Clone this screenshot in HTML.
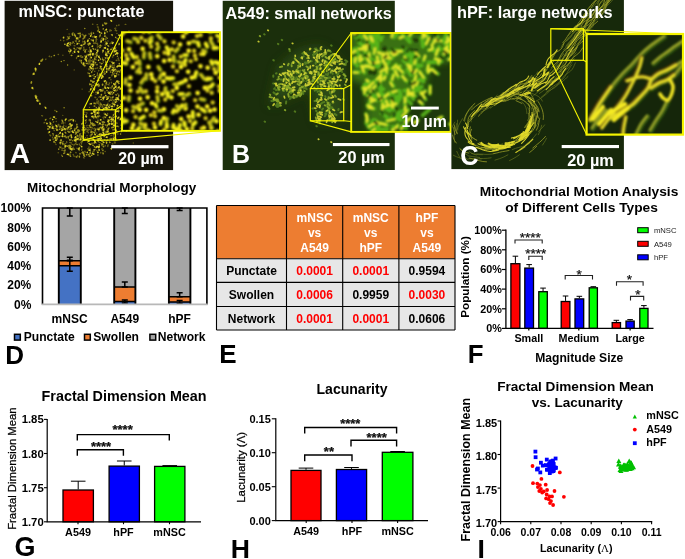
<!DOCTYPE html>
<html><head><meta charset="utf-8"><title>Mitochondrial morphology figure</title>
<style>
html,body{margin:0;padding:0;background:#fff}
svg{display:block}
svg text{font-family:"Liberation Sans",Arial,sans-serif}
</style></head><body>
<svg width="685" height="559" viewBox="0 0 685 559">
<rect width="685" height="559" fill="#fff"/>
<defs>
<filter id="b1" x="-5%" y="-5%" width="110%" height="110%"><feGaussianBlur stdDeviation="1.15"/></filter>
<filter id="b2" x="-5%" y="-5%" width="110%" height="110%"><feGaussianBlur stdDeviation="1.3"/></filter>
<filter id="b3" x="-5%" y="-5%" width="110%" height="110%"><feGaussianBlur stdDeviation="1.0"/></filter>
<filter id="b0" x="-5%" y="-5%" width="110%" height="110%"><feGaussianBlur stdDeviation="0.4"/></filter>
<filter id="b6" x="-5%" y="-5%" width="110%" height="110%"><feGaussianBlur stdDeviation="0.65"/></filter>
<filter id="b4" x="-20%" y="-20%" width="140%" height="140%"><feGaussianBlur stdDeviation="3.5"/></filter>
<filter id="b8" x="-30%" y="-30%" width="160%" height="160%"><feGaussianBlur stdDeviation="6"/></filter>
<clipPath id="cA"><rect x="5" y="1" width="168.3" height="168.5"/></clipPath>
<clipPath id="cAi"><rect x="122" y="32.2" width="98" height="98.6"/></clipPath>
<clipPath id="cB"><rect x="222.7" y="1" width="172" height="168.8"/></clipPath>
<clipPath id="cBi"><rect x="351.2" y="33" width="99.4" height="98.9"/></clipPath>
<clipPath id="cC"><rect x="451.5" y="0" width="172.2" height="169"/></clipPath>
<clipPath id="cCi"><rect x="586.6" y="34" width="96.4" height="100.6"/></clipPath>
</defs>
<rect x="4.6" y="0.8" width="168.5" height="169.3" fill="#16140a"/>
<g clip-path="url(#cA)" filter="url(#b0)">
<path d="M112.8 129.5l0.1 0.6M102.1 148.5l-0.2 1.0M114.7 46.9l0.0 0.0M94.8 57.0l0.2 0.7M83.5 49.7l0.0 0.7M113.5 100.7l1.0 0.2M104.9 107.2l-0.7 0.6M94.6 87.4l0.5 0.8M83.7 64.9l0.4 0.0M103.7 69.6l0.4 0.5M112.7 64.7l-0.7 0.7M103.1 88.3l0 0M105.0 91.6l0 0M68.6 120.5l0.0 0.4M95.8 58.9l0.3 1.0M89.0 68.5l0.8 0.9M69.6 129.2l0.9 0.7M129.0 75.9l0 0M99.9 116.1l-0.3 0.2M105.5 104.9l0.3 0.1M38.9 101.1l-0.2 -0.7M109.2 50.3l-0.2 0.9M77.1 47.6l1.1 0.3M103.4 133.2l-0.0 0.2M99.3 115.3l-0.0 0.1M116.6 25.5l0.2 0.2M49.2 56.5l0.3 -0.4M79.6 37.5l-0.8 0.1M107.4 52.5l0.0 0.1M78.7 139.0l-0.5 1.0M117.1 99.0l0.4 0.2M97.2 47.0l0.4 0.2M98.9 70.3l-0.3 0.6M76.5 57.7l-0.0 0.8M107.5 113.4l0.3 0.7M133.4 96.0l0.6 0.6M72.6 149.1l0.1 0.7M66.1 128.5l0.3 0.4M92.9 69.8l-0.3 1.0M83.7 119.1l-0.2 0.8M111.5 117.7l-0.1 0.7M56.3 121.4l-0.0 0.1M116.9 107.4l-0.3 0.5M98.0 101.3l0.1 1.1M116.9 38.5l0.6 0.2M123.8 95.2l-0.2 0.4M82.9 34.8l0.9 0.5M105.1 131.5l0.3 1.0M96.9 75.3l0.8 0.4M98.0 103.5l0.5 0.3M118.6 126.4l-0.2 0.4M129.6 57.0l-0.1 0.3M92.9 59.6l0.6 0.9M94.8 97.2l1.0 0.5M84.7 125.4l-0.5 0.9M89.1 140.6l-0.5 0.4M88.0 40.9l-0.1 0.3M117.0 33.4l-0.1 0.0M61.8 142.5l0.3 0.2M126.3 42.3l-0.0 0.0M85.4 139.1l0.7 0.4M47.5 123.6l-0.4 0.0M106.0 41.6l-0.0 0.1M117.0 50.3l-0.0 0.0M102.1 107.2l0.1 0.3M100.8 152.5l-0.1 0.5M71.4 128.3l-0.0 0.0M73.5 120.9l-0.2 0.6M100.1 76.5l0.4 0.2M84.8 55.6l-0.0 0.6M102.0 144.5l-0.3 1.0M100.9 41.2l0.1 0.2M73.9 155.9l0.3 0.6M124.1 67.6l0.7 0.5M114.9 111.4l-0.0 0.1M112.8 119.5l0.3 1.0M94.2 76.8l0.2 0.1M131.0 65.5l0.1 0.6M103.0 74.4l0.0 0.1M91.5 63.9l0.1 0.1M115.5 29.7l-0.3 0.7M101.1 73.4l0.7 0.0M98.7 120.9l-0.2 0.1M56.6 137.0l0.8 0.8M94.8 71.3l-0.2 0.1M98.7 101.0l-0.3 1.1M49.7 122.1l-0.0 0.2M45.7 59.5l0.3 -0.5M95.2 68.5l0.7 0.0M109.4 100.2l-0.2 1.1M56.0 144.3l0.0 0.2M93.5 39.5l-0.0 0.1M32.7 74.5l0.1 -0.9M87.6 138.0l0.0 0.0M115.3 113.3l-0.4 0.1M110.8 64.9l-0.1 0.1M52.5 137.2l0.1 0.1M138.5 89.9l0.4 1.0M88.7 60.2l0.4 0.3M53.1 138.7l-0.1 0.3M88.1 148.6l-0.4 0.3M97.8 128.3l-0.8 0.7M98.8 86.1l-0.1 0.4M63.7 36.7l0.2 1.1M106.1 107.6l-1.0 0.2M100.3 45.3l-1.1 0.5M111.2 98.8l-0.2 0.0M89.5 107.4l-0.0 0.0M97.2 43.2l-0.5 0.0M105.8 44.8l-0.7 0.2M55.2 118.6l1.1 0.0M112.0 65.9l-0.1 0.1M96.1 108.7l0.6 0.5M96.7 101.9l0.3 1.1M35.5 70.3l0.1 -0.8M91.1 129.6l-0.0 0.8M129.8 75.9l0.4 1.0M60.5 40.2l0.2 0.0M113.2 100.1l0.2 0.3M112.9 99.8l0.3 0.2M111.7 135.3l-0.8 0.4M85.5 123.2l-0.1 0.0M95.8 103.8l-0.2 0.1M99.2 106.8l-0.2 0.9M91.0 49.8l-0.0 0.5M107.2 57.4l0.6 0.6M90.0 42.8l-0.2 1.1M111.9 87.4l0.2 0.2M116.9 74.7l-0.4 0.9M88.6 51.2l-0.2 0.0M74.3 43.5l0.0 0.0M91.2 138.5l-0.0 0.1M105.2 41.9l-0.1 0.0M114.3 106.1l-0.0 0.4M94.0 102.8l-0.2 0.9M111.7 75.0l0.2 0.8M114.8 121.5l-0.8 0.1M76.3 39.8l-0.1 0.9M106.4 84.7l0 0M135.6 54.5l0.5 0.7M82.4 34.3l-0.4 0.2M113.2 89.3l-0.1 0.1M101.1 67.6l-0.2 0.6M107.7 97.0l0.2 0.5M92.9 143.1l-0.5 0.4M100.0 142.8l0.3 0.2M100.8 124.4l0.0 0.1M80.8 56.4l0.0 0.0M104.4 128.2l0.1 0.4M67.2 29.4l0 0M104.6 30.9l0 0M97.2 68.0l0.5 0.0M58.2 124.5l0.6 0.0M91.4 127.4l-0.3 0.2M99.3 96.8l-0.3 0.4M126.0 131.0l0.4 0.4M103.4 129.4l0.5 0.1M98.7 111.9l0.5 1.1M91.9 64.6l-0.1 0.0M125.8 24.4l-0.6 0.0M109.2 132.6l-0.8 0.5M129.2 124.5l0.8 0.4M90.0 135.9l0.9 0.1M130.5 60.9l-0.5 0.0M91.5 143.2l0.1 1.0M132.1 70.3l-0.3 0.6M63.6 125.1l0.2 0.3M81.4 142.9l0.1 1.1M94.5 35.8l-0.0 1.0M49.6 122.5l0.0 0.0M106.7 131.4l-0.5 0.9M48.7 132.2l-0.4 0.8M131.5 102.7l-0.2 0.3M116.3 73.3l0.0 0.2M61.6 155.2l-0.0 0.1M80.7 133.6l-1.1 0.2M93.0 125.6l0.5 0.1M102.4 125.5l0.3 0.6M128.2 100.3l-1.0 0.1M84.6 111.9l0.3 0.3M72.9 35.3l-0.1 0.0M93.3 92.1l0.2 0.1M107.5 66.2l0.1 0.3M133.1 75.0l0.2 0.4M65.9 129.9l-0.8 0.3M70.3 44.5l0.3 0.7M74.1 45.6l0.8 0.3M105.8 38.7l-0.1 1.1M87.2 63.1l0.7 0.6M91.9 138.7l-0.5 0.2M134.0 83.6l-0.3 1.0M83.0 122.1l-0.3 0.1M79.4 60.5l0.6 0.2M99.0 142.2l0.0 0.0M69.7 142.5l0.2 0.1M82.8 151.8l0.6 1.0M99.7 68.3l0.0 0.0M98.0 27.6l0.4 0.6M118.3 58.0l-0.1 0.7M62.2 122.6l-0.4 0.9M70.0 153.9l0.3 0.5M104.4 71.6l0.3 0.7M95.3 42.8l0.5 0.5M102.0 72.7l0.1 0.0M130.9 121.8l0.1 1.2M68.7 46.5l0.3 0.0M106.8 53.0l1.0 0.4M99.1 130.8l-0.3 0.1M122.8 125.5l0.2 0.2M91.4 32.3l-0.4 1.0M97.9 120.0l-0.2 0.8M128.5 121.1l-0.2 0.1M92.5 55.1l0.1 0.0M116.9 53.3l-0.0 0.2M79.3 150.5l-0.0 0.1M99.9 75.5l-1.0 0.6M83.6 116.9l-0.5 0.5M62.0 141.7l-0.8 0.7M80.3 61.0l0.1 0.2M116.0 138.7l0.6 0.8M123.7 121.4l-0.1 0.0M110.4 43.0l-0.4 0.7M131.4 87.3l1.0 0.4M130.6 38.4l1.0 0.3M80.4 145.4l0.4 0.5M100.2 65.9l0.0 0.2M90.6 151.1l-0.2 0.1M58.1 130.0l0.0 0.1M79.8 49.3l-0.2 0.2M107.9 40.9l0.1 0.2M67.1 44.4l-0.2 0.0M101.5 38.4l1.2 0.1M61.9 148.3l0.4 0.1M74.1 139.6l0.6 0.6M90.0 56.0l0.9 0.3M67.5 36.7l0.3 0.5M104.8 59.8l0.4 0.5M146.9 69.4l0 0M99.0 106.5l-0.0 0.3M128.8 48.6l-0.0 0.1M108.1 49.1l0 0M121.3 124.0l0.0 0.8M66.0 126.1l-0.0 0.1M96.8 150.5l0.2 0.4M90.1 148.5l0.2 1.2M53.7 121.6l-0.4 0.8M116.2 71.0l-0.2 0.4M118.7 74.4l0.1 0.4M76.2 49.2l-0.8 0.8M86.7 112.7l0.3 0.4M105.8 105.5l0.2 0.4M93.8 63.9l-0.7 0.6M96.7 53.4l-0.9 0.2M99.0 128.1l-0.2 0.4M121.0 58.2l-0.1 0.0M114.6 50.4l-0.5 1.1M88.4 129.2l1.0 0.3M83.6 157.5l0.5 0.5M127.0 115.9l-1.0 0.3M102.7 72.2l0.6 0.5M78.9 43.1l0.4 0.5M95.5 131.1l0.2 0.1M51.5 128.2l0.6 0.3M41.7 115.6l0.8 0.3M126.6 80.5l0.2 0.4M119.9 117.0l-0.0 0.5M81.4 135.8l-0.1 0.8M114.8 73.0l-0.0 0.0M104.4 23.1l0 0M40.7 61.5l0.2 -0.6M129.7 85.8l0.2 0.0M103.1 126.6l-0.7 0.5M100.9 40.0l0.8 0.4M102.1 105.0l-0.6 0.1M56.6 129.9l0.5 0.4M102.1 37.9l-0.3 0.7M76.9 148.2l0.7 0.6M98.3 46.3l0.0 0.3M63.4 122.4l-0.1 1.0M118.0 58.5l0.6 0.6M113.4 135.2l0.4 0.1M104.1 81.0l0.3 0.8M89.6 60.7l-0.2 0.5M66.6 141.7l0.2 0.9M88.5 132.6l-0.2 0.2M89.3 91.4l-0.3 0.4M73.7 145.0l-0.1 0.0M108.9 106.2l-0.1 0.0M130.8 56.7l0.0 0.0M117.6 66.0l-0.0 0.1M95.6 142.5l1.0 0.5M88.2 141.6l-0.6 0.6M86.7 49.5l0 0M116.8 74.1l-0.0 0.0M99.5 62.7l1.0 0.2M85.0 58.4l0.8 0.2M106.4 88.0l0.0 0.5M63.6 144.6l-0.8 0.1M60.4 140.3l-0.1 0.1M127.5 96.5l-0.2 0.6M70.4 139.6l-0.8 0.1M112.9 56.9l-0.5 0.2M129.4 74.1l-0.0 0.1M131.8 51.0l-0.0 0.0M106.8 130.3l0.5 0.1M56.1 128.2l-0.6 0.4M109.2 119.6l0.0 1.0M76.4 41.6l0.2 0.4M101.5 94.9l-0.5 0.3M126.0 65.0l-0.8 0.5M136.0 86.2l-0.0 0.4M80.3 55.7l1.1 0.2M110.5 30.1l0.9 0.5M90.7 136.6l-0.1 0.3M133.3 143.0l0 0M87.2 54.4l0.4 0.6M117.0 111.2l0.7 0.2M129.0 31.0l0 0M101.7 45.8l-0.8 0.3M112.0 119.6l0.1 0.1M114.2 65.0l-0.2 0.9M63.1 143.5l-0.7 0.4M88.9 61.4l-0.8 0.1M132.6 99.4l-0.1 0.2M106.8 109.6l0.0 0.1M113.8 73.7l-0.1 0.5M134.1 74.7l-0.2 0.2M125.5 109.9l1.0 0.2M102.2 130.1l0.4 0.1M84.6 36.3l-0.4 1.0M112.0 41.6l-0.4 1.0M91.9 85.1l0.4 0.4M136.3 87.1l0.0 1.0M85.7 128.1l0.3 0.7M102.2 72.0l0.3 0.3M104.9 96.4l-0.2 1.0M112.4 143.8l0.5 0.2M125.5 69.4l-0.1 0.4M96.8 84.9l0.6 0.9M85.4 49.9l-1.0 0.0M79.0 56.1l0.3 0.1M105.9 116.6l-0.5 0.6M105.2 108.7l0.2 0.0M102.6 106.0l0.3 1.0M75.3 40.9l0.3 0.4M127.2 72.9l-0.2 0.1M109.1 53.5l0.4 0.2M95.4 149.2l-0.4 0.4M88.9 69.5l-0.2 0.1M93.5 116.2l0.3 0.4M90.0 59.0l-0.1 0.4M89.8 49.1l0.2 1.0M107.3 62.3l0.1 0.3M62.9 55.2l0 0M69.1 34.0l0 0M107.8 139.3l-0.1 0.3M115.2 133.0l-1.1 0.3M94.0 142.7l0.2 0.5M105.3 36.2l-0.8 0.1M87.1 135.6l-0.1 0.1M79.6 40.4l-0.4 0.6M71.4 139.0l-0.3 0.6M62.5 121.2l0.3 0.0M79.6 137.1l-0.1 0.2M109.4 123.8l0.3 0.4M93.9 42.8l-0.4 0.4M99.0 78.0l-0.5 0.3M126.6 90.4l0.2 0.1M103.0 51.5l-0.4 1.0M69.9 36.5l-0.8 0.2M107.8 69.5l0.2 0.8M89.5 47.5l0.1 0.3M109.3 83.0l0.1 0.4M89.8 119.5l-0.5 0.2M105.4 134.2l-0.1 0.2M74.7 131.9l1.1 0.3M94.2 124.0l0.1 0.4M105.6 52.0l0.0 0.4M114.2 111.9l-0.0 0.2M85.0 63.2l-0.4 1.0M98.2 30.7l-0.7 0.3M134.8 99.2l-0.5 0.6M58.2 54.5l0.3 -0.1M106.7 66.3l-0.1 0.6M88.3 130.6l-0.0 0.2M101.4 90.0l0.2 0.3M96.9 52.7l0.2 0.5M117.6 52.6l0.3 1.1M65.6 143.5l-0.0 0.1M116.4 88.0l0.6 0.9M88.8 33.9l0.8 0.2M83.9 47.1l-0.4 0.9M82.9 138.6l0.1 0.1M101.5 75.9l0.6 0.5M100.8 40.6l-0.0 0.1M97.4 26.9l0.7 0.1M96.0 91.9l-0.2 0.5M130.2 55.6l0.0 0.3M116.9 131.4l0.8 0.5M108.0 128.6l-0.0 0.0M115.3 104.2l-0.6 0.2M91.3 84.1l0.2 0.6M112.7 102.1l0.4 0.9M96.8 39.5l0.0 0.0M79.3 143.8l0.0 0.9M96.8 132.9l-0.1 0.1M69.4 135.8l-0.2 0.6M116.7 30.6l-0.5 0.3M74.2 69.9l0 0M110.0 61.2l-0.1 0.1M127.0 85.1l0.6 0.9M92.4 133.8l-0.3 0.3M72.3 43.2l-0.3 0.3M118.8 65.4l0.1 0.0M75.0 128.5l0.7 0.5M106.1 39.2l-1.0 0.4M84.1 139.2l-0.6 0.7M96.0 94.2l0.0 0.1M112.8 74.4l0.3 0.4M69.2 120.0l0.2 0.9M49.9 134.9l0.8 0.8M105.3 145.4l-0.1 0.6M105.8 57.6l-0.7 0.0M64.7 148.2l-1.0 0.2M89.2 62.0l-0.1 1.2M63.8 143.5l0.2 0.1M62.4 121.9l-0.0 0.8M116.8 122.5l-0.1 0.2M72.9 32.7l0.6 0.4M64.7 146.6l0.0 0.6M111.4 82.3l0.1 0.5M128.6 115.9l-0.2 0.0M107.6 124.3l-0.7 0.9M114.4 113.4l-0.1 0.1M105.1 151.4l0.1 0.2M86.3 121.9l-0.2 0.2M59.9 127.2l-0.2 0.0M110.6 87.9l0.7 0.2M107.6 146.0l0.2 0.5M62.7 148.2l-0.3 0.2M75.8 152.4l0.3 0.3M89.7 63.6l-0.8 0.4M125.8 122.4l0.2 0.0M58.8 125.7l-0.2 0.2M94.9 43.4l-0.3 0.1M102.5 58.0l-0.1 0.2M92.4 36.8l0.8 0.1M109.0 124.8l0.4 0.2M110.0 65.2l0.2 0.5M127.6 108.6l1.0 0.3M90.8 124.1l-0.7 0.2M83.5 125.5l0.0 0.1M90.5 124.9l0 0M83.3 138.9l0.6 0.1M90.7 60.4l0.2 0.2M96.0 83.4l-1.1 0.1M112.5 106.2l0.2 0.9M89.9 61.7l0.5 0.3M112.6 138.3l-0.7 0.1M91.0 124.1l-0.1 0.8M98.2 124.8l-0.0 0.0M104.6 129.5l-0.9 0.7M99.2 55.6l-0.0 0.2M103.1 117.4l0.2 0.5M106.8 83.9l-1.2 0.0M60.3 136.2l-0.1 0.0M58.4 134.3l-0.0 0.8M53.7 126.3l-0.0 0.2M103.1 61.8l0.3 0.4M117.6 89.9l0 0M76.5 142.9l-0.6 0.0M78.8 135.8l0.1 0.6M44.8 122.5l-0.8 0.4M59.8 142.4l-0.1 0.8M106.6 133.9l0.2 0.1M91.9 60.6l0.3 0.8M104.2 113.1l0.2 1.1M93.3 85.2l0.4 0.1M70.0 52.2l-0.3 0.8M98.2 50.9l-0.8 0.2M114.3 114.5l-0.0 0.1M85.1 151.9l0.4 0.2M104.1 129.0l-0.0 0.1M93.6 53.5l-0.1 0.3M143.4 54.4l0 0M117.1 60.2l-0.9 0.3M131.2 68.8l0.1 0.2M97.7 138.6l-0.6 0.3M137.0 18.6l0 0M92.1 127.5l-1.1 0.3M98.6 79.6l0.2 0.9M90.3 121.4l0 0M78.3 38.6l0.1 0.6M123.8 105.9l0.1 0.2M110.8 70.3l1.2 0.2M109.8 92.2l0.1 0.2M97.7 44.2l-0.4 0.9M108.8 108.5l-0.1 0.5M54.3 141.6l-0.1 0.7M72.5 119.3l0.5 0.4M75.2 128.8l-0.0 0.0M104.7 139.5l-0.1 0.7M84.0 132.2l0.9 0.8M65.0 122.9l0 0M95.4 54.4l-0.3 0.3M92.9 24.2l-0.4 0.0M103.9 119.0l-0.0 0.0M94.9 112.2l0.2 0.0M56.8 139.9l-0.0 0.0M92.6 40.2l-1.1 0.2M102.6 24.4l0.2 1.0M74.7 144.4l-0.3 0.4M75.5 36.9l-0.3 0.0M124.0 104.7l-0.2 0.5M100.1 102.6l0.0 0.6M85.0 151.3l-0.7 0.4M88.0 72.7l0.2 0.9M84.2 153.6l0.0 0.6M80.0 59.9l-0.0 0.5M121.9 129.1l0.9 0.7M123.2 122.2l0.0 0.0M117.2 90.4l0.1 0.0M118.0 133.9l-0.2 0.2M110.5 138.4l0.7 0.7M107.9 103.2l0.0 0.3M99.4 105.0l0.7 0.1M98.2 117.0l-0.4 0.9M97.7 49.2l0.7 0.8M68.1 39.3l-0.2 0.1M104.9 91.3l0.0 0.1M128.4 76.4l-0.2 1.1M69.3 49.0l0.8 0.1M87.1 125.4l-0.4 0.5M88.1 127.5l-0.9 0.1M41.8 61.3l0.2 -0.6M102.2 84.3l0.1 0.9M97.7 74.5l-0.2 0.0M74.7 140.3l-0.1 0.0M108.0 84.5l1.1 0.3M114.1 84.5l-0.0 0.0M98.5 90.4l-0.7 0.8M69.0 124.7l0.6 0.1M94.4 60.9l-0.3 0.3M81.4 137.9l-1.0 0.1M125.1 97.5l-0.4 0.0M79.8 135.0l0.1 0.9M71.0 135.3l0.2 0.2M108.1 132.9l0.8 0.6M90.7 57.6l-0.4 0.1M113.7 122.7l-0.6 0.8M100.6 136.3l0.2 0.1M117.3 123.3l-0.7 0.1M108.3 92.7l0.8 0.5M118.8 59.9l0.2 0.7M96.4 38.3l-0.5 0.9M68.3 138.5l0 0M89.4 75.4l-0.1 0.6M87.4 129.6l-0.2 0.7M72.5 144.4l-0.4 0.1M131.1 43.4l-0.3 0.1M58.2 152.7l-0.0 0.1M55.3 142.4l0.1 0.5M119.7 99.9l-0.2 0.0M92.7 115.9l0.2 0.1M101.2 75.0l0.0 0.1M54.0 130.4l0.3 0.2M69.1 148.3l0.6 0.8M131.9 79.6l-0.3 1.2M63.8 40.5l0.0 0.3M88.8 147.7l0 0M67.4 39.0l-0.5 0.8M110.4 97.6l0.5 0.0M114.9 52.2l-0.9 0.3M115.2 138.6l0.9 0.4M102.1 124.4l-0.2 0.3M50.8 118.1l-0.9 0.5M120.6 37.8l-0.0 0.9M114.3 142.0l-0.1 0.1M114.9 124.4l-0.2 0.1M103.5 133.8l-0.2 0.3M120.8 128.2l-0.0 0.0M45.2 107.4l-0.3 -0.5M112.6 91.3l0.0 0.0M90.6 80.3l0.7 0.1M118.4 88.2l-0.1 0.0M88.6 43.5l-0.1 0.1M55.1 110.6l-0.3 -0.2M102.1 96.9l-0.9 0.2M108.3 145.0l-0.5 0.1M113.9 139.0l0.2 0.2M84.6 114.2l0 0M111.5 53.2l0.1 0.0M126.9 119.0l-0.0 0.0M110.9 79.5l0.0 0.2M53.3 135.4l0.1 0.1M105.8 37.1l0.7 0.3M80.2 48.7l0.4 0.8M71.1 140.0l0.1 0.1M121.8 130.3l-0.3 0.6M75.5 143.4l-0.1 0.6M77.4 155.5l0.2 0.3M97.3 98.9l0.1 1.0M115.7 82.3l-0.4 0.7M97.0 99.3l-0.4 0.5M89.2 120.2l-0.1 0.0M112.4 116.9l-0.8 0.6M83.8 120.9l-0.1 0.1M109.2 69.2l-0.0 1.0M62.8 115.3l0 0M119.1 25.0l-0.5 0.2M114.3 128.8l0.2 0.4M102.6 75.1l-0.1 0.0M110.5 138.4l-0.8 0.4M75.9 156.4l0.1 0.5M72.9 52.9l-0.0 0.4M52.1 124.9l-0.2 0.5M102.0 144.0l0.7 0.5M112.1 61.8l-0.1 0.2M77.3 56.7l-0.0 0.1M94.9 62.6l-1.0 0.5M80.4 56.2l0.1 0.0M115.8 28.1l-1.0 0.2M51.2 56.9l0.3 -0.3M121.2 131.0l-0.1 0.8M120.4 70.6l0 0M102.9 100.5l0 0M35.9 96.1l-0.1 -0.8M84.1 49.2l1.1 0.4M112.6 99.2l0.5 0.8M73.4 147.2l-0.4 0.3M84.1 155.5l-0.3 0.2M105.1 85.6l-0.2 0.2M53.3 139.5l-0.2 0.0M112.4 97.0l0.1 0.6M116.2 132.5l0.5 0.1M125.0 59.3l1.0 0.6M114.1 100.4l-0.1 0.0M85.6 137.6l-0.2 0.1M92.9 151.5l1.1 0.1M124.4 53.5l-0.8 0.8M117.5 93.8l0.3 0.1M80.9 142.2l0.0 0.3M93.0 128.4l0.2 0.5M74.5 128.3l-0.0 0.1M109.5 141.6l-0.0 0.0M106.5 127.1l0.2 0.1M139.0 77.0l-0.4 0.1M114.7 67.4l-0.1 0.0M122.0 104.9l0.1 0.0M66.9 128.2l-0.3 0.4M56.5 128.7l0.4 0.2M118.1 118.9l-0.0 0.0M110.0 87.5l0.1 0.3M98.3 76.4l0.2 0.5M89.0 146.8l-0.0 0.0M33.3 88.8l-0.1 -0.9M107.8 119.5l0.3 1.0M92.8 75.5l0.4 0.1M63.6 150.6l0.8 0.6M63.4 141.4l0.2 0.2M128.4 63.5l-0.9 0.5M89.7 83.4l-0.1 0.1M110.7 65.2l-0.1 0.5M61.2 147.1l0.0 0.0M75.5 121.1l0.0 0.0M127.8 60.5l0.9 0.7M62.9 135.1l-0.4 0.6M70.9 142.5l0.4 0.5M95.4 63.9l-0.0 0.0M85.9 129.2l0.5 0.3M112.0 67.1l0.3 0.7M82.8 41.1l0.2 1.0M123.9 57.5l0.5 0.3M94.6 128.1l0.4 0.6M109.7 96.6l0.2 0.1M114.1 67.0l0.1 0.0M100.6 105.6l-0.0 1.2M138.6 67.0l-0.0 0.0M125.0 125.0l-0.3 0.1M73.2 154.5l-0.0 0.2M112.3 47.9l0.4 0.0M87.1 58.0l0.2 0.5M116.7 70.0l-0.0 0.2M118.1 70.8l1.2 0.0M92.1 87.2l0.5 0.8M119.4 44.5l-0.8 0.2M91.0 39.7l1.0 0.0M94.4 109.2l-1.0 0.6M96.4 85.1l-0.3 0.6M93.4 54.6l0.0 0.4M115.3 142.1l-0.4 1.1M55.7 124.8l-0.1 0.6M81.1 57.3l0.4 0.1M124.7 106.2l0.6 0.5M98.7 29.4l-0.3 0.3M82.1 89.1l0 0M92.6 123.8l1.0 0.6M97.5 24.6l-0.4 0.1M95.6 128.8l0.0 0.1M37.7 99.6l-0.2 -0.7M115.9 47.6l-0.9 0.3M105.0 133.4l-0.1 0.9M81.9 149.1l-0.3 1.1M99.7 36.2l-0.2 0.7M109.9 30.0l-0.0 1.2M64.2 129.4l1.0 0.3M104.2 116.3l0.6 1.0M114.6 70.7l0.4 0.3M90.3 70.4l0.1 0.0M102.1 69.4l-0.4 0.6M114.9 84.5l0.8 0.4M100.7 109.7l-0.2 0.4" stroke="#6f6716" stroke-width="1.35" stroke-linecap="round" fill="none" opacity="0.9"/>
<path d="M103.8 104.7l0.5 0.2M78.1 33.5l0.1 0.0M111.8 34.7l0.5 0.7M129.7 53.1l0.3 0.3M131.4 104.9l0.0 0.0M125.3 122.4l1.0 0.5M99.2 85.3l-0.3 0.8M79.3 156.2l0.2 0.8M127.5 77.1l-0.3 0.3M65.1 132.3l0.7 0.7M65.4 136.1l-1.0 0.2M102.2 140.9l0.5 0.8M118.2 71.5l-0.8 0.2M131.6 54.0l0.1 0.7M126.2 126.1l0.1 0.9M86.2 115.0l-0.4 0.8M102.7 84.3l0.0 0.6M63.9 136.6l0.5 0.0M95.2 110.3l0.3 0.4M84.2 36.1l0.6 0.5M106.4 53.5l-0.4 0.5M116.2 116.1l-0.4 0.1M95.7 49.2l-0.0 0.0M89.3 38.6l-0.0 0.0M108.9 128.1l-0.6 0.9M114.5 120.6l-0.0 0.0M117.8 80.8l-0.3 0.2M77.0 126.6l0.6 0.4M108.2 129.4l0.1 0.3M116.1 75.9l-0.0 0.3M108.8 57.8l-1.0 0.7M110.5 71.9l0.1 0.1M92.6 81.3l0.1 1.1M128.5 105.5l-0.4 0.5M68.9 145.5l1.1 0.4M71.9 55.4l-0.6 0.1M103.2 128.5l-0.0 0.9M87.1 63.4l-0.5 0.0M93.9 136.5l-0.4 0.3M97.5 73.1l0.0 0.0M99.5 75.5l0.0 0.1M31.5 82.6l0.0 -0.9M111.9 127.5l-0.1 0.3M55.4 137.6l0.5 0.2M76.9 156.8l-0.3 0.2M118.8 95.1l-0.1 1.1M79.2 41.2l-0.2 0.1M90.6 122.5l0.6 1.0M94.4 78.5l-0.7 0.1M102.9 126.1l0.2 0.5M92.0 155.1l-0.4 0.1M111.4 139.0l-0.5 0.1M90.2 120.0l0.1 0.5M91.2 33.8l0.4 0.5M133.3 76.3l0.5 0.7M67.6 65.0l0 0M103.0 153.0l0.2 0.8M93.0 48.4l0.8 0.8M124.6 102.3l-0.2 1.2M83.1 127.8l0.1 0.6M73.6 148.9l0.6 0.3M118.2 97.8l-1.1 0.2M61.3 61.5l0 0M105.0 36.0l-0.4 0.1M108.7 121.3l-0.1 0.2M127.6 101.1l0.5 0.6M81.4 62.1l0.2 0.9M122.9 33.8l-0.2 0.4M105.5 57.9l0.3 0.3M31.2 83.2l-0.0 -0.9M84.2 65.8l0.9 0.0M114.0 103.8l0.4 0.6M111.9 62.3l0.7 0.6M70.7 49.8l0.4 0.4M94.4 74.6l-0.3 0.0M63.7 127.2l-0.7 0.3M105.5 124.9l-0.1 0.0M66.2 137.1l-0.1 0.6M98.1 30.9l0.1 0.1M112.8 127.2l1.0 0.1M97.0 64.5l-0.1 0.3M84.8 28.5l-0.0 0.0M131.9 88.3l0.6 0.2M60.0 126.2l0.8 0.6M101.4 99.5l-0.5 0.1M106.4 96.9l0.3 0.1M54.1 55.6l0.3 -0.2M77.0 38.0l0.2 1.1M89.0 154.4l-0.4 0.1M93.1 123.8l-0.6 0.6M104.0 136.4l0.3 0.2M83.3 138.1l-0.4 0.2M99.6 123.6l-0.3 0.2M92.4 123.1l-0.2 0.1M116.4 97.8l-0.3 0.1M111.6 49.2l-0.9 0.3M92.7 68.6l0.8 0.4M104.8 92.9l0.3 0.0M139.1 58.7l-0.2 0.3M126.6 58.4l-0.3 0.9M138.1 105.0l0 0M112.6 85.9l-0.5 0.4M64.8 144.9l0.3 1.0M84.6 130.8l0.1 0.0M82.9 136.2l-0.2 1.0M107.9 130.0l0 0M76.5 138.1l0.7 0.4M80.3 35.2l-0.1 0.1M125.8 96.0l-0.2 0.0M84.1 37.7l0.6 0.0M134.2 93.5l0.4 0.6M65.0 150.0l-0.1 0.8M111.9 123.3l-0.6 0.1M121.2 69.6l-0.1 0.1M95.5 62.5l0.2 0.0M95.0 125.0l0.0 0.3M117.4 56.2l0 0M102.6 59.3l0.8 0.9M124.2 104.5l-0.3 0.2M94.5 58.6l0.4 0.9M122.2 53.2l0.3 0.2M73.1 132.1l-0.0 0.1M56.8 111.6l-0.3 -0.1M89.9 127.0l0.8 0.3M82.8 123.5l-1.1 0.4M96.2 56.8l-0.1 0.3M93.2 68.1l-0.0 0.6M85.8 35.3l-0.1 0.1M110.1 142.4l-0.5 0.2M129.9 87.6l-0.4 0.3M116.4 130.9l-0.2 0.1M128.8 90.4l0.0 0.1M78.4 138.3l0.2 0.4M38.0 101.1l-0.2 -0.7M47.9 126.1l0.1 0.2M105.6 64.4l1.0 0.5M67.2 128.9l0.5 0.1M82.2 129.7l0.1 0.4M90.1 152.4l0.1 1.2M84.9 129.1l0.2 0.5M103.1 142.1l0.3 0.1M108.0 51.3l0 0M83.6 64.2l-0.3 0.6M92.2 131.7l-1.0 0.3M69.2 147.3l0.8 0.1M62.0 150.1l0.2 0.0M106.6 82.1l-0.4 1.1M89.2 156.0l1.0 0.4M76.7 127.6l-0.5 0.9M90.3 103.7l-0.2 0.2M116.6 73.5l0.0 0.1M85.3 50.8l0.0 0.7M35.4 96.4l-0.1 -0.8M128.1 56.6l-1.1 0.1M80.3 33.3l-1.1 0.2M94.5 36.9l0.7 0.1M102.1 63.5l-0.7 0.2M91.0 76.1l-1.1 0.3M64.0 60.6l0 0M52.9 133.7l0.3 0.4M62.6 143.2l0.0 0.6M92.7 53.9l0.1 0.2M90.5 84.4l-0.8 0.2M98.4 112.6l-0.1 1.1M90.1 52.7l-0.1 0.0M86.4 154.5l0.5 0.4M111.5 118.1l0.4 0.8M101.1 91.0l-0.2 0.2M91.5 86.0l0.2 0.2M124.5 81.5l0.0 0.1M122.5 77.2l-0.0 0.0M73.1 42.0l0.1 0.3M105.5 117.5l0.0 0.0M36.0 69.7l0.1 -0.8M101.8 90.5l0.9 0.4M63.0 129.5l0.0 0.0M68.0 131.2l-0.1 0.1M101.3 69.4l0.0 0.0M93.6 82.4l-0.8 0.1M91.0 64.3l0.2 1.0M126.5 119.8l0.3 0.2M100.5 45.3l-0.2 0.1M116.0 90.9l0 0M70.0 131.9l-1.1 0.3M88.7 54.4l-0.4 1.1M79.4 48.1l-0.5 0.3M106.3 134.3l-0.4 0.3M107.9 45.4l0.8 0.9M80.0 134.9l0.0 0.1M95.8 121.5l0.3 0.2M71.3 126.5l-0.0 0.0M81.4 60.5l-0.2 0.0M98.4 110.6l-0.1 0.1M69.3 146.6l-0.3 0.9M103.0 150.2l-0.2 0.4M90.5 66.2l0.0 0.3M82.1 141.2l-0.1 0.6M45.9 119.4l-0.5 0.6M76.4 133.2l-0.9 0.8M116.0 94.8l0.3 0.3M125.9 85.3l-0.0 0.0M107.0 90.4l-0.0 0.0M99.3 146.3l-0.1 0.5M94.2 106.0l0.6 0.1M90.9 132.5l1.1 0.1M121.1 57.2l0.6 0.5M105.1 73.6l-0.5 0.4M65.2 120.2l0.2 0.2M112.4 93.9l-0.4 0.0M72.3 33.8l0.2 1.1M54.0 141.5l0.0 0.5M70.0 42.8l0.8 0.3M84.6 43.3l0.1 0.9M132.6 50.2l0.0 0.0M82.6 152.2l-0.5 0.5M108.4 106.6l-0.1 0.1M132.1 62.0l0.9 0.1M111.3 121.4l0.4 0.0M89.1 73.4l0.4 0.2M112.6 67.5l0.8 0.2M108.5 68.4l-0.1 0.6M48.4 126.2l0.2 0.2M70.4 126.0l0.4 0.8M98.1 77.8l-0.2 0.1M103.0 89.9l-0.4 0.8M115.4 89.9l0.1 0.5M93.6 132.2l1.0 0.3M120.6 100.8l0.1 0.1M48.7 129.0l-1.1 0.0M121.3 125.5l-0.0 0.0M76.9 124.2l-0.0 0.9M94.2 81.4l-0.6 0.5M84.7 51.8l0.8 0.3M94.2 125.2l-0.3 0.0M110.7 92.0l0.9 0.3M91.9 134.6l-0.9 0.4M125.3 105.7l-0.8 0.7M72.8 140.7l-0.0 0.0M91.7 71.8l-0.1 0.6M78.8 130.0l-1.1 0.0M93.0 125.2l0.1 0.4M83.2 44.2l0.3 0.3M126.4 79.2l-0.2 0.1M113.5 115.0l-0.0 0.1M63.1 126.7l-0.3 0.5M130.3 72.8l1.0 0.1M101.7 144.0l1.1 0.3M82.6 56.9l0.1 0.1M99.2 144.6l-0.0 0.5M96.1 41.0l0 0M60.3 143.0l0.2 0.7M58.8 148.9l-0.1 0.3M109.9 104.9l-0.1 0.3M135.2 101.0l-0.2 0.2M85.9 59.3l0.4 0.3M86.1 119.9l-0.6 0.7M83.1 38.7l-0.1 0.2M134.4 99.9l-0.0 0.6M121.9 96.3l-0.0 0.8M96.4 107.6l-0.1 0.2M114.4 124.9l-0.9 0.5M101.4 94.5l0.1 0.4M128.7 95.2l0.0 0.0M75.3 139.3l-0.2 0.2M103.6 38.5l-0.1 0.3M118.9 81.6l-0.7 0.8M66.8 146.0l0.8 0.2M102.2 121.8l0.7 0.5M115.1 121.5l-1.2 0.2M85.2 42.8l0.1 0.1M115.7 89.9l-0.0 0.8M103.1 146.1l0.6 0.7M122.0 105.1l0.7 0.3M113.5 114.7l-0.1 0.7M115.3 123.3l-0.3 0.2M125.6 111.7l-0.2 0.0M120.5 133.9l0.1 0.2M117.6 108.4l0.9 0.4M103.7 124.1l-1.1 0.2M116.9 53.1l0.3 1.0M117.7 126.2l-1.0 0.0M41.1 60.9l0.2 -0.6M96.9 135.9l0.2 0.7M115.8 50.2l0.8 0.2M107.2 31.7l-0.1 0.2M35.6 70.9l0.1 -0.8M69.7 140.0l0.4 0.1M130.9 70.7l-0.2 0.2M100.6 104.1l0.6 0.1M127.9 84.9l-1.2 0.2M91.6 131.7l-0.7 0.2M121.5 104.3l-0.7 0.1M97.5 135.5l0.2 0.0M137.3 76.7l-0.2 0.4M101.6 141.0l0.0 0.0M80.3 35.0l-0.1 0.1M123.0 64.3l0.6 0.1M109.9 77.7l-0.9 0.2M129.8 79.9l0.0 0.1M70.4 152.1l0.4 0.3M79.5 130.9l0.0 0.1M131.8 63.7l0.1 0.5M115.7 82.9l-0.2 1.0M90.9 80.6l0.2 0.6M84.1 155.6l0.7 0.7M100.3 34.9l-0.3 1.0M114.0 129.7l0.0 0.0M81.7 136.0l-0.5 1.0M60.0 129.0l-0.4 0.3M98.6 83.9l-0.2 0.8M87.1 131.8l0.0 0.0M125.0 67.2l-0.4 0.8M103.6 121.8l1.0 0.5M93.3 33.0l0.3 0.3M100.2 47.0l-0.4 0.6M91.3 95.6l0.3 0.1M115.8 37.3l-0.2 0.1M74.0 48.3l0.4 0.5M71.8 125.4l-0.1 0.2M68.6 50.9l0.7 0.7M122.6 87.7l-1.1 0.3M117.0 98.7l0.8 0.5M135.5 103.9l-0.0 0.3M70.0 155.8l0.6 0.5M92.8 145.3l0.4 0.1M60.0 147.0l0.2 0.5M96.1 117.7l0.3 0.0M77.0 144.5l0.1 0.1M117.6 81.5l0.4 1.0M110.0 116.9l0.2 0.1M119.3 63.5l-0.1 0.5M108.9 134.3l-1.0 0.3M113.8 117.3l-0.6 0.9M62.1 120.2l0.4 1.0M80.4 36.0l-0.2 0.9M103.3 28.8l-0.1 0.1M119.7 71.8l0.0 0.1M113.8 55.2l-0.4 0.3M112.3 103.6l0.3 0.2M100.6 127.3l-0.7 0.5M113.2 97.0l-0.7 0.5M115.0 87.0l-0.4 0.3M84.2 154.9l-0.4 0.1M95.1 103.2l-0.6 0.2M119.0 110.9l-0.6 0.8M119.2 43.5l0.1 0.7M77.1 138.7l0.1 0.3M103.0 25.5l-0.4 0.0M75.3 35.4l0.2 0.9M101.0 33.0l0.6 0.2M76.7 132.1l-1.0 0.0M78.6 51.4l-0.5 0.1M82.9 140.5l-0.2 0.1M62.4 156.2l0 0M131.2 74.2l-0.2 0.1M100.4 97.0l0.1 0.3M121.2 107.0l0.9 0.6M79.3 147.6l0.1 0.4M115.2 76.2l-0.4 0.9M112.4 72.3l0.3 0.7M106.7 23.3l-0.8 0.7M81.2 48.0l-1.1 0.2M130.4 101.4l0.0 0.8M36.4 98.2l-0.2 -0.8M125.3 61.7l-0.1 0.0M122.3 55.8l0.3 0.0M116.7 101.3l-0.3 0.4M99.3 129.1l0.1 0.1M103.2 76.6l0.1 0.1M83.1 152.6l0.3 1.2M57.4 138.9l-1.0 0.2M84.3 139.1l-0.3 1.1M126.5 73.0l0.0 0.0M71.3 119.5l-1.0 0.4M113.8 69.1l-0.3 0.7M77.2 135.2l0.4 0.9M113.9 136.9l0.5 0.7M90.7 53.3l0.2 1.1M105.8 61.5l0.0 1.1M107.1 140.6l-0.9 0.5M97.5 116.2l1.0 0.1M125.8 127.4l0.6 0.8M61.8 128.6l0.2 0.1M64.7 152.9l-0.9 0.5M134.4 105.0l-0.0 0.2M110.8 100.1l0.3 0.1M106.5 66.0l-0.4 1.1M50.6 124.3l-0.4 0.1M84.8 41.2l-0.5 0.3M108.2 92.0l0.0 0.5M133.2 112.2l-0.2 0.2M69.8 44.4l0.2 0.1M84.1 129.8l0.6 0.3M64.1 107.8l0 0M42.4 59.9l0.2 -0.6M111.5 34.7l0.8 0.1M70.1 145.3l-0.5 0.6M101.1 68.6l0.7 0.1M94.5 146.6l-0.1 0.4M107.2 38.3l0.0 0.0M84.9 42.4l0.2 0.1M125.8 76.7l0.0 0.0M124.0 83.5l-0.1 0.2M72.7 130.8l-0.7 0.6M53.7 128.3l-0.4 0.3M124.1 46.2l0.5 0.4M95.5 129.7l-0.5 0.7M125.5 99.4l-0.5 0.6M107.6 125.2l-0.4 0.6M126.7 42.6l-0.2 0.1M108.0 96.9l0.5 0.0M119.1 83.4l-0.5 0.2M96.0 113.6l-0.0 0.5M74.6 34.1l-0.1 1.1M78.1 131.5l-0.2 0.7M100.1 58.6l0.5 0.9M134.3 63.8l-0.7 0.8M93.9 117.0l-0.1 1.0M97.9 154.9l-0.0 0.0M88.0 44.1l0.7 0.9M101.7 128.5l0.1 0.3M78.0 130.7l0.0 0.0M70.2 145.9l0.8 0.7M105.0 22.9l0.2 0.9M36.6 97.0l-0.1 -0.8M70.8 128.3l0.6 0.1M80.0 153.5l-0.0 0.4M89.2 125.6l0.5 0.0" stroke="#a59c20" stroke-width="1.45" stroke-linecap="round" fill="none" opacity="0.95"/>
<path d="M119.0 65.7l-0.0 0.6M62.5 133.6l0.2 0.9M107.0 115.2l-0.4 0.1M75.8 136.8l-0.7 1.0M52.7 119.5l0.0 0.1M123.4 99.3l0.1 0.8M117.6 66.1l-0.5 0.7M50.4 123.1l0.2 0.4M72.0 148.7l-0.4 1.0M98.6 129.5l-0.5 0.0M107.8 87.7l0.7 0.5M92.6 46.0l-0.4 0.4M96.7 146.9l-0.6 0.5M80.9 139.6l-0.9 0.2M33.8 74.3l0.1 -0.9M35.3 69.2l0.1 -0.8M91.5 68.2l-0.2 0.4M103.8 142.4l0.0 0.0M91.9 116.5l0.8 0.3M114.4 51.0l-0.0 0.3M64.9 44.2l0.0 0.0M62.2 136.2l0.2 0.3M105.8 107.7l-0.2 0.1M57.0 129.7l0.0 0.4M60.3 132.5l-0.4 0.8M70.0 123.7l0.2 0.4M106.7 142.7l-0.2 0.2M98.5 56.6l0.8 0.7M97.2 122.3l0.4 0.1M90.8 50.3l-0.0 0.2M74.4 51.4l0.3 0.8M131.2 43.1l0.4 0.4M99.4 31.9l0.3 0.5M113.5 119.8l-0.7 0.1M103.5 108.7l0.4 0.1M114.8 75.5l0.5 0.6M99.9 74.2l0.9 0.7M115.6 54.2l0.0 0.0M128.6 117.8l-0.1 0.0M127.6 37.5l0.9 0.7M106.1 43.2l1.0 0.2M74.7 130.0l-0.1 0.1M126.4 88.2l0.3 0.3M103.9 97.1l-0.3 1.0M106.2 55.0l0.8 0.2M92.2 64.4l-0.1 0.0M130.0 119.3l-0.0 0.4M108.8 120.3l-0.0 0.2M112.4 69.8l-0.1 0.0M107.2 108.2l-0.4 0.5M124.0 115.2l-0.0 0.0M101.3 41.2l-0.3 0.8M87.3 152.4l0.0 0.2M67.0 45.5l0.9 0.2M97.3 92.7l1.1 0.2M81.1 45.3l0.7 0.3M80.8 139.0l-0.3 0.5M100.3 138.0l1.0 0.3M92.2 113.3l-0.8 0.1M102.4 75.7l-0.0 1.2M76.5 139.8l-1.0 0.1M137.5 95.0l0.8 0.5M116.1 111.0l0.1 0.7M69.0 126.9l-0.8 0.7M89.1 141.1l-0.9 0.0M36.1 97.9l-0.2 -0.8M93.0 40.6l0.3 0.2M90.0 66.7l0.5 1.0M100.9 119.8l-0.4 0.2M105.4 47.6l-1.0 0.3M83.6 63.0l-0.4 1.1M99.9 123.2l0.2 0.4M89.4 43.3l0.6 0.5M114.8 133.3l0.0 0.4M56.2 125.9l0.5 0.0M72.1 125.0l-0.9 0.5M116.8 81.2l0.2 0.5M98.5 80.1l-1.1 0.3M99.1 107.8l-0.1 0.3M114.3 88.3l-0.5 0.0M118.5 117.3l-0.7 0.9M93.0 66.0l-0.3 0.4M37.2 100.9l-0.2 -0.7M91.3 57.6l-0.0 0.1M63.4 37.7l0.1 0.0M125.8 62.7l-0.3 0.1M52.5 127.0l0.2 1.2M97.9 109.1l0.2 0.2M94.3 89.4l-0.0 0.5M105.4 48.0l0.1 0.2M108.1 131.4l-1.0 0.6M117.5 98.2l0.6 0.6M49.5 131.9l-0.2 0.2M122.5 118.4l-0.0 0.8M40.0 104.0l-0.2 -0.6M106.5 107.4l-0.0 0.0M77.8 139.0l-1.1 0.4M60.5 142.3l-0.0 0.0M74.7 140.6l1.1 0.4M94.2 88.8l-0.4 0.4M99.0 149.9l0.3 0.1M105.8 95.5l0.0 0.0M56.2 135.5l0.5 0.0M131.7 74.4l0.5 0.1M105.4 80.9l-0.8 0.4M91.3 103.7l-0.1 0.1M99.2 138.7l-1.1 0.3M105.0 87.1l0.2 1.0M113.8 125.5l0.8 0.3M131.4 63.5l-0.7 0.5M120.6 118.5l-0.3 1.1M97.3 112.5l0.1 0.6M112.0 108.8l-0.4 0.3M71.1 135.0l0.0 0.2M105.5 114.2l-0.1 0.2M86.0 116.5l0.5 0.3M46.9 123.3l0.1 0.3M100.2 134.0l-1.0 0.7M118.9 35.1l0.8 0.4M113.9 104.4l0.7 0.4M135.9 66.6l0.2 0.3M103.2 132.1l-0.2 0.1M61.1 140.1l-0.0 0.1M110.2 66.4l0.4 0.4M67.4 154.2l1.1 0.4M104.8 32.8l-0.0 0.9M81.6 146.5l0.2 0.2M64.3 128.8l0.8 0.3M117.6 105.5l-0.2 0.3M68.9 38.1l0.0 0.1M115.9 86.3l-0.2 0.8M111.9 119.4l-0.9 0.2M94.8 134.1l0.5 0.6M97.3 50.4l0.3 0.8M94.8 140.5l-0.0 1.1M32.3 88.4l-0.1 -0.9M132.7 86.8l-0.5 0.6M96.9 55.0l0.1 0.1M56.3 126.0l0.6 0.8M101.5 134.3l0.8 0.6M99.1 146.5l-0.3 1.1M128.1 106.4l-0.2 0.1M118.2 111.0l-0.9 0.2M102.9 109.8l-0.7 0.3M113.1 42.7l-0.8 0.6M71.3 136.9l0.4 0.4M98.0 152.4l-0.2 0.0M55.2 137.4l-0.1 0.7M93.8 154.0l0.0 0.3M89.1 143.5l-0.0 0.0M85.6 57.0l0.4 0.5M98.1 92.4l-0.2 1.0M115.1 69.3l-0.1 0.3M115.3 102.1l0.1 0.1M62.6 129.9l-0.9 0.4M107.8 121.3l0.6 0.7M94.1 149.9l-0.0 0.0M95.5 76.7l0.0 0.1M106.8 68.8l-0.2 0.2M113.6 92.8l-0.1 0.0M109.5 117.2l0.1 0.3M112.7 124.0l-1.2 0.1M106.4 29.4l-0.5 0.6M97.7 80.7l-0.0 0.3M138.2 57.8l-0.3 0.4M68.1 137.0l0.1 0.0M109.5 68.0l0.1 0.2M103.1 50.4l-0.1 0.6M109.8 93.6l0.3 0.4M96.4 36.7l-1.1 0.4M121.4 66.8l0.5 0.9M68.4 43.1l-0.9 0.7M78.2 51.5l0.4 0.6M93.4 61.8l-0.2 0.3M95.8 110.6l0.1 0.1M92.6 153.4l-0.1 0.1M106.6 71.3l0.0 1.0M120.9 88.4l-0.8 0.6M101.0 66.5l-0.5 0.4M104.2 135.0l-0.1 0.3M89.0 150.1l0.9 0.1M39.3 64.2l0.2 -0.7M115.5 129.5l0.3 1.0M90.2 75.9l-0.1 0.2M45.8 108.1l-0.3 -0.5M94.2 110.5l-0.4 0.8M96.8 52.7l0.1 0.0M89.3 54.5l1.0 0.1M114.3 48.2l0.7 0.6M72.5 131.8l0.9 0.6M99.6 109.0l-0.3 0.6M70.3 148.2l0.5 1.0M116.0 51.1l-1.0 0.1M103.5 39.0l-0.4 1.1M96.9 146.5l1.1 0.3M109.2 107.2l-0.0 0.3M101.6 77.9l-0.1 0.3M132.3 36.0l-0.1 0.2M95.3 141.9l-0.4 0.8M94.1 112.3l0.2 0.4M109.4 123.6l-0.6 0.5M112.4 106.3l-1.1 0.3M100.8 89.7l-0.8 0.2M123.7 89.4l0.8 0.1M103.7 133.3l-0.2 0.8M127.4 38.9l-0.2 0.2M115.9 116.6l-0.7 0.1M90.3 51.2l1.0 0.4M91.0 88.8l-0.4 1.0M98.6 60.2l-0.1 0.1M107.6 104.9l-0.7 0.4M86.4 60.5l-0.0 0.6M107.2 99.2l-0.5 0.0M78.9 148.5l-0.0 0.9M113.0 133.4l0.4 0.3M121.7 53.4l-0.0 0.6M111.0 20.6l0.6 0.5M49.9 126.6l-0.1 1.0M92.9 53.6l-0.1 1.0M102.9 98.0l0.6 1.0M78.2 56.0l0.1 0.3M98.5 140.8l-0.6 0.0M113.9 62.9l-0.8 0.3M125.2 44.1l0.3 0.3M70.7 50.9l-0.3 0.2M50.1 140.0l0.0 0.3M55.5 140.1l0.6 0.3M90.4 144.3l-0.4 0.1M114.1 90.3l0.4 0.3M95.3 116.5l0.5 0.2M123.0 63.1l-0.1 0.1M105.7 54.3l0.3 0.9M90.9 35.7l-0.3 0.5M130.5 62.4l-0.5 0.7M114.8 76.2l0.5 0.3M94.5 111.6l0.3 1.1M106.7 55.1l0.4 0.6M88.1 40.2l-0.5 1.1M120.2 65.8l-0.1 0.3M144.6 65.8l0 0M77.6 43.6l-0.5 0.4M85.8 59.9l0.0 0.0M113.7 70.5l-0.4 0.5M123.5 55.6l0.1 0.3M116.6 53.1l1.0 0.2M109.5 92.5l-0.7 0.7M107.6 49.0l-0.1 0.4M103.5 129.4l-0.3 0.8M83.3 127.4l0.7 0.1M106.2 64.2l0.3 0.5M131.1 56.6l0.7 0.5M66.1 119.1l-0.5 0.3M105.6 134.6l-0.2 0.4M113.8 83.8l0.8 0.8M124.2 63.6l-1.0 0.0M102.1 127.4l0.4 0.0M106.7 43.0l-0.2 0.9M92.9 139.2l0.7 0.5M125.0 52.1l0.7 0.1M108.3 51.5l-0.1 0.5M73.4 120.0l-0.1 0.5M107.9 98.3l0.1 0.1M120.4 108.3l0.3 0.0M117.7 99.1l0.7 0.5M77.1 38.1l-0.6 0.1M107.1 137.1l-0.7 0.2M130.0 92.6l0.1 0.1M130.0 89.7l-0.8 0.8M85.1 59.0l-0.0 0.3M94.9 114.8l0.3 0.2M111.2 148.6l0.2 0.3M132.0 55.5l-0.0 0.6M65.6 145.9l-0.2 0.8M59.1 136.6l-0.0 0.1M54.5 117.1l-0.9 0.0M86.3 56.0l-0.0 0.4M113.7 138.6l-0.0 0.8M100.4 140.0l0.5 0.2M95.6 36.9l-0.1 0.3M97.4 84.6l-0.9 0.1M119.3 87.0l-1.0 0.4M115.4 99.5l0.9 0.3M56.5 135.7l0.4 0.4M93.1 64.2l0.6 0.7" stroke="#d6cc28" stroke-width="1.6" stroke-linecap="round" fill="none" opacity="1"/>
</g>
<rect x="122" y="32.2" width="98" height="98.6" fill="#080700"/>
<g clip-path="url(#cAi)" filter="url(#b1)">
<path d="M153.6 28.6h0M221.9 78.2h0M196.9 106.1h0M180.4 66.6h0M126.9 58.9h0M139.5 98.3h0M176.2 87.6h0M185.6 31.8h0M128.5 48.9h0M180.6 118.7h0M188.1 116.1h0M207.1 67.3h0M163.0 81.1h0M167.8 53.3h0M163.4 108.8h0M147.8 66.5h0M209.5 110.3h0M163.3 73.5h0M199.9 65.8h0M117.8 65.3h0M185.1 79.9h0M151.5 102.9h0M210.8 127.7h0M188.1 50.4h0M204.3 87.4h0M131.5 128.0h0M214.0 109.2h0M197.1 92.5h0M182.6 36.0h0M167.6 28.3h0M119.4 114.2h0M179.5 44.1h0M215.9 120.9h0M175.7 27.9h0M129.9 90.2h0M156.7 55.9h0M151.7 78.2h0M222.7 135.4h0M156.6 91.1h0M142.1 48.4h0M132.8 124.4h0M150.7 73.9h0M221.9 120.5h0M226.1 71.0h0M145.6 109.5h0M161.6 93.8h0M169.1 59.5h0M170.9 97.2h0M154.5 127.0h0M163.3 117.6h0M186.4 128.8h0M125.5 109.9h0M198.0 114.4h0M185.0 108.2h0M139.2 109.3h0M129.8 77.3h0M180.6 130.8h0M123.3 31.3h0M188.3 42.9h0M219.4 90.4h0M180.8 28.5h0M147.1 96.8h0M144.5 124.6h0M128.9 84.7h0M206.6 106.1h0M187.6 71.4h0M215.1 72.4h0M202.9 53.5h0M163.6 60.5h0M191.2 77.3h0M123.2 97.7h0M197.9 29.1h0M132.3 66.7h0M203.4 127.4h0M135.0 116.6h0M116.4 77.0h0M137.6 41.6h0M195.4 58.8h0M188.4 85.8h0M139.6 72.1h0M191.7 128.4h0M218.6 86.0h0M164.7 99.2h0M180.3 56.4h0M183.0 98.2h0M221.4 48.0h0M183.1 133.4h0M166.4 126.5h0M207.6 87.0h0M194.4 55.2h0M196.5 35.7h0M154.7 80.7h0M207.4 77.9h0M184.5 64.7h0M121.4 34.2h0M120.2 30.6h0M136.3 56.7h0M153.5 123.3h0M173.2 42.1h0M206.9 90.2h0M142.1 136.9h0M121.9 50.1h0M119.3 41.0h0M145.4 91.0h0M172.5 66.2h0M219.1 40.6h0M176.1 111.0h0M156.8 86.9h0M150.6 46.3h0M213.6 68.6h0M190.2 60.8h0M172.3 90.7h0M171.4 49.0h0M129.9 28.1h0M205.1 117.8h0M163.6 129.6h0M221.6 104.1h0M210.4 37.9h0M219.2 77.3h0M132.6 110.9h0M156.7 43.4h0M140.8 37.5h0M164.0 41.0h0M150.3 114.8h0M137.3 91.4h0M144.9 40.4h0M153.8 111.9h0M194.7 99.8h0M116.5 53.5h0M125.6 54.7h0M143.2 31.2h0M148.8 130.3h0M154.5 115.8h0M176.4 70.9h0M212.2 102.2h0M189.5 120.7h0M164.0 52.3h0M129.1 133.3h0M137.9 105.4h0M193.6 50.5h0M223.8 129.7h0M135.7 62.6h0M195.4 135.9h0M200.2 34.7h0M211.2 92.5h0M200.5 53.8h0M201.1 128.3h0M159.5 30.1h0M120.1 105.2h0" stroke="#903010" stroke-width="4.4" stroke-linecap="round" fill="none" opacity="0.45"/>
<path d="M217.7 48.2l-3.8 0.4M139.7 128.5l-2.9 3.5M167.1 47.6l1.9 3.4M226.3 118.3l-0.2 2.7M175.7 128.7l1.5 2.4M174.5 110.6l-1.2 2.4M186.1 60.4l-1.3 2.4M151.7 41.3l-1.5 2.1M167.1 78.4l4.0 0.8M131.8 54.0l2.4 3.8M193.2 112.3l0.3 5.4M144.3 116.9l-3.6 2.3M159.1 135.4l0.9 5.4M150.5 29.8l-0.9 2.3M211.5 78.9l-4.7 1.0M167.3 124.6l-0.2 2.5M196.8 72.5l-1.6 5.2M211.7 61.7l1.0 2.7M173.6 78.5l-4.4 0.2M180.5 125.2l-1.3 4.2M218.1 131.5l0.9 3.6M228.0 47.6l4.2 2.8M213.4 84.6l-2.1 2.6M123.2 63.1l3.5 0.8M217.6 36.1l3.4 1.3M161.6 121.6l-0.7 2.9M227.9 98.1l-0.6 3.8M187.4 55.5l-2.7 0.0M183.4 94.3l-3.6 0.2M184.8 122.8l0.6 3.3M127.2 121.4l-4.0 1.2M222.4 62.7l-4.7 1.0M183.5 82.3l-4.0 1.6M206.2 44.0l1.5 3.1M148.6 135.1l-1.9 3.2M174.1 125.2l-0.6 2.9M198.5 42.9l0.8 3.3M117.9 130.1l1.7 2.0M136.7 137.9l3.0 0.3M182.7 105.6l-3.4 4.1M155.9 104.8l1.0 2.3M208.0 136.3l-3.0 0.3M201.8 109.2l3.6 2.5M168.4 93.0l-0.0 3.9M226.7 110.5l-3.0 3.6M215.8 62.4l4.7 1.2M195.8 122.7l-2.4 2.7M146.8 74.5l-0.3 4.9M126.2 79.8l-0.6 3.9M127.6 41.4l3.3 1.1M152.2 37.8l-2.1 1.8M134.6 38.8l2.7 0.8M157.8 97.0l0.6 4.4M203.4 50.8l2.5 1.1M140.6 123.8l3.7 1.3M139.5 61.1l0.7 3.6M123.9 119.3l-4.7 1.7M186.1 104.9l-0.9 2.9M129.5 97.3l-0.4 3.2M179.1 62.3l3.9 1.4M211.2 41.5l2.4 4.2M174.5 84.6l3.3 0.0M193.1 41.9l2.7 0.1M178.4 49.1l-2.4 2.5M144.6 128.2l2.4 1.5M167.5 118.9l-0.6 3.1M144.5 79.1l-2.9 4.2M219.9 66.1l-0.3 5.1M189.6 94.0l-2.5 1.4M143.4 103.7l-2.8 1.4M158.8 67.3l1.8 3.0M201.3 75.0l3.3 4.2M159.2 110.9l2.9 0.1M158.8 47.4l-1.3 2.9M214.6 30.6l-4.1 1.7M166.0 88.3l-0.7 5.1M201.0 99.4l3.7 0.8M177.6 135.2l4.2 3.2M214.5 118.3l-2.3 3.3M209.5 122.8l2.5 4.7M144.7 53.2l-0.5 4.5M161.7 75.3l-1.7 3.5M133.6 107.1l3.5 1.1M223.1 94.0l1.3 2.5M174.0 56.7l0.6 5.0M140.2 68.9l-2.8 3.4M150.2 53.8l0.7 4.7M203.8 134.2l-2.5 1.9M223.3 43.3l0.4 4.7M229.4 125.1l-2.1 2.7M140.4 88.4l2.7 4.1M177.4 106.4l2.5 2.1M120.5 122.5l0.1 4.8M158.4 35.5l2.8 3.3" stroke="#409010" stroke-width="4.4" stroke-linecap="round" fill="none" opacity="0.6"/>
<path d="M154.2 29.0h0M222.5 78.6h0M197.5 106.5h0M181.0 67.0h0M127.5 59.3h0M140.1 98.7h0M176.8 88.0h0M186.2 32.2h0M129.1 49.3h0M181.2 119.1h0M188.7 116.5h0M207.7 67.7h0M163.6 81.5h0M168.4 53.7h0M164.0 109.2h0M148.4 66.9h0M210.1 110.7h0M163.9 73.9h0M200.5 66.2h0M118.4 65.7h0M185.7 80.3h0M152.1 103.3h0M211.4 128.1h0M188.7 50.8h0M204.9 87.8h0M132.1 128.4h0M214.6 109.6h0M197.7 92.9h0M183.2 36.4h0M168.2 28.7h0M120.0 114.6h0M180.1 44.5h0M216.5 121.3h0M176.3 28.3h0M130.5 90.6h0M157.3 56.3h0M152.3 78.6h0M223.3 135.8h0M157.2 91.5h0M142.7 48.8h0M133.4 124.8h0M151.3 74.3h0M222.5 120.9h0M226.7 71.4h0M146.2 109.9h0M162.2 94.2h0M169.7 59.9h0M171.5 97.6h0M155.1 127.4h0M163.9 118.0h0M187.0 129.2h0M126.1 110.3h0M198.6 114.8h0M185.6 108.6h0M139.8 109.7h0M130.4 77.7h0M181.2 131.2h0M123.9 31.7h0M188.9 43.3h0M220.0 90.8h0M181.4 28.9h0M147.7 97.2h0M145.1 125.0h0M129.5 85.1h0M207.2 106.5h0M188.2 71.8h0M215.7 72.8h0M203.5 53.9h0M164.2 60.9h0M191.8 77.7h0M123.8 98.1h0M198.5 29.5h0M132.9 67.1h0M204.0 127.8h0" stroke="#fff820" stroke-width="4.5" stroke-linecap="round" fill="none" opacity="1"/>
<path d="M135.6 117.0h0M117.0 77.4h0M138.2 42.0h0M196.0 59.2h0M189.0 86.2h0M140.2 72.5h0M192.3 128.8h0M219.2 86.4h0M165.3 99.6h0M180.9 56.8h0M183.6 98.6h0M222.0 48.4h0M183.7 133.8h0M167.0 126.9h0M208.2 87.4h0M195.0 55.6h0M197.1 36.1h0M155.3 81.1h0M208.0 78.3h0M185.1 65.1h0M122.0 34.6h0M120.8 31.0h0M136.9 57.1h0M154.1 123.7h0M173.8 42.5h0M207.5 90.6h0M142.7 137.3h0M122.5 50.5h0M119.9 41.4h0M146.0 91.4h0M173.1 66.6h0M219.7 41.0h0M176.7 111.4h0M157.4 87.3h0M151.2 46.7h0M214.2 69.0h0M190.8 61.2h0M172.9 91.1h0M172.0 49.4h0M130.5 28.5h0M205.7 118.2h0M164.2 130.0h0M222.2 104.5h0M211.0 38.3h0M219.8 77.7h0M133.2 111.3h0M157.3 43.8h0M141.4 37.9h0M164.6 41.4h0M150.9 115.2h0M137.9 91.8h0M145.5 40.8h0M154.4 112.3h0M195.3 100.2h0M117.1 53.9h0M126.2 55.1h0M143.8 31.6h0M149.4 130.7h0M155.1 116.2h0M177.0 71.3h0M212.8 102.6h0M190.1 121.1h0M164.6 52.7h0M129.7 133.7h0M138.5 105.8h0M194.2 50.9h0M224.4 130.1h0M136.3 63.0h0M196.0 136.3h0M200.8 35.1h0M211.8 92.9h0M201.1 54.2h0M201.7 128.7h0M160.1 30.5h0M120.7 105.6h0" stroke="#dcd41a" stroke-width="4.1" stroke-linecap="round" fill="none" opacity="1"/>
<path d="M217.1 47.7l-3.8 0.4M139.1 128.0l-2.9 3.5M166.5 47.1l1.9 3.4M225.7 117.8l-0.2 2.7M175.1 128.2l1.5 2.4M173.9 110.1l-1.2 2.4M185.5 59.9l-1.3 2.4M151.1 40.8l-1.5 2.1M166.5 77.9l4.0 0.8M131.2 53.5l2.4 3.8M192.6 111.8l0.3 5.4M143.7 116.4l-3.6 2.3M158.5 134.9l0.9 5.4M149.9 29.3l-0.9 2.3M210.9 78.4l-4.7 1.0M166.7 124.1l-0.2 2.5M196.2 72.0l-1.6 5.2M211.1 61.2l1.0 2.7M173.0 78.0l-4.4 0.2M179.9 124.7l-1.3 4.2M217.5 131.0l0.9 3.6M227.4 47.1l4.2 2.8M212.8 84.1l-2.1 2.6M122.6 62.6l3.5 0.8M217.0 35.6l3.4 1.3M161.0 121.1l-0.7 2.9M227.3 97.6l-0.6 3.8M186.8 55.0l-2.7 0.0M182.8 93.8l-3.6 0.2M184.2 122.3l0.6 3.3M126.6 120.9l-4.0 1.2M221.8 62.2l-4.7 1.0M182.9 81.8l-4.0 1.6M205.6 43.5l1.5 3.1M148.0 134.6l-1.9 3.2M173.5 124.7l-0.6 2.9M197.9 42.4l0.8 3.3M117.3 129.6l1.7 2.0M136.1 137.4l3.0 0.3M182.1 105.1l-3.4 4.1M155.3 104.3l1.0 2.3M207.4 135.8l-3.0 0.3M201.2 108.7l3.6 2.5M167.8 92.5l-0.0 3.9M226.1 110.0l-3.0 3.6M215.2 61.9l4.7 1.2M195.2 122.2l-2.4 2.7" stroke="#f6ee1e" stroke-width="3.6" stroke-linecap="round" fill="none" opacity="1"/>
<path d="M146.2 74.0l-0.3 4.9M125.6 79.3l-0.6 3.9M127.0 40.9l3.3 1.1M151.6 37.3l-2.1 1.8M134.0 38.3l2.7 0.8M157.2 96.5l0.6 4.4M202.8 50.3l2.5 1.1M140.0 123.3l3.7 1.3M138.9 60.6l0.7 3.6M123.3 118.8l-4.7 1.7M185.5 104.4l-0.9 2.9M128.9 96.8l-0.4 3.2M178.5 61.8l3.9 1.4M210.6 41.0l2.4 4.2M173.9 84.1l3.3 0.0M192.5 41.4l2.7 0.1M177.8 48.6l-2.4 2.5M144.0 127.7l2.4 1.5M166.9 118.4l-0.6 3.1M143.9 78.6l-2.9 4.2M219.3 65.6l-0.3 5.1M189.0 93.5l-2.5 1.4M142.8 103.2l-2.8 1.4M158.2 66.8l1.8 3.0M200.7 74.5l3.3 4.2M158.6 110.4l2.9 0.1M158.2 46.9l-1.3 2.9M214.0 30.1l-4.1 1.7M165.4 87.8l-0.7 5.1M200.4 98.9l3.7 0.8M177.0 134.7l4.2 3.2M213.9 117.8l-2.3 3.3M208.9 122.3l2.5 4.7M144.1 52.7l-0.5 4.5M161.1 74.8l-1.7 3.5M133.0 106.6l3.5 1.1M222.5 93.5l1.3 2.5M173.4 56.2l0.6 5.0M139.6 68.4l-2.8 3.4M149.6 53.3l0.7 4.7M203.2 133.7l-2.5 1.9M222.7 42.8l0.4 4.7M228.8 124.6l-2.1 2.7M139.8 87.9l2.7 4.1M176.8 105.9l2.5 2.1M119.9 122.0l0.1 4.8M157.8 35.0l2.8 3.3" stroke="#c8c018" stroke-width="3.4" stroke-linecap="round" fill="none" opacity="1"/>
</g>
<path d="M83.3 109.8L122 32.2M115.5 109.8L122 105.2M83.3 140.1L122 130.8M115.5 140.1L220 130.8" stroke="#F4F400" stroke-width="1.1" fill="none"/>
<rect x="83.3" y="109.8" width="32.2" height="30.3" fill="none" stroke="#F4F400" stroke-width="1.2"/>
<rect x="122" y="32.2" width="98" height="98.6" fill="none" stroke="#F4F400" stroke-width="1.9"/>
<text x="18.6" y="17" font-size="16.2" font-weight="bold" text-anchor="start" fill="#fff" >mNSC: punctate</text>
<rect x="111.2" y="145.1" width="57.3" height="3.2" fill="#fff"/>
<text x="141" y="164.3" font-size="16" font-weight="bold" text-anchor="middle" fill="#fff" >20 &#181;m</text>
<text x="9.8" y="162.8" font-size="28" font-weight="bold" text-anchor="start" fill="#fff" >A</text>
<rect x="222.7" y="0.8" width="172.1" height="169.2" fill="#1b2f0c"/>
<g clip-path="url(#cB)">
<path d="M270 106L279 66L300 50L320 46L342 62L345 118L318 122L310 88Z" fill="#2f4d14" filter="url(#b8)" opacity="0.9"/>
<g filter="url(#b6)">
<path d="M300.3 72.9l-0.1 1.2M333.0 61.0l1.6 1.0M339.2 63.9l-0.1 0.6M332.7 69.6l-1.6 1.0M304.8 88.2l-1.2 0.5M288.1 87.2l-0.6 0.6M274.9 88.1l-0.8 0.8M340.9 88.1l0.5 0.3M327.8 64.9l0.3 2.4M316.6 89.9l-1.9 0.7M278.8 104.0l-1.7 1.8M303.2 53.1l-0.8 0.4M318.0 73.7l-0.1 1.3M302.8 87.5l1.4 0.3M331.7 108.2l1.8 1.2M335.1 82.1l-1.0 0.8M277.5 103.7l-1.8 1.9M313.8 75.3l-0.4 0.8M318.4 65.9l-1.3 1.3M317.2 100.4l-2.7 0.6M280.2 105.0l-1.7 1.0M315.8 62.2l-0.1 1.5M318.2 91.2l-0.7 0.7M328.2 49.8l0.5 0.4M264.1 34.2l0.5 0.3M318.3 74.2l0.1 0.7M290.9 83.8l-2.3 0.6M313.5 79.5l-1.3 1.9M329.7 91.6l0.4 1.8M320.2 83.1l0.5 2.0M313.9 75.3l1.1 1.7M345.2 76.3l-0.7 2.0M343.9 73.7l0.7 0.6M342.9 99.0l1.2 0.8M323.6 82.5l-0.2 2.4M300.0 94.1l1.3 0.6M271.3 100.9l2.3 0.1M316.9 52.0l-0.8 1.8M316.8 61.6l-0.8 0.4M326.6 58.1l1.1 0.3M273.5 92.4l1.4 1.2M324.3 102.0l-2.1 0.6M276.6 73.3l-0.6 0.2M327.2 101.8l0.6 0.7M303.1 91.4l0.2 2.5M317.1 104.1l0.5 0.3M302.0 75.1l-2.6 0.3M328.4 73.1l-0.8 2.0M307.4 62.9l-2.1 0.9M319.3 120.3l0.3 0.6M298.9 63.9l1.4 0.4M325.5 115.3l-0.8 1.0M328.8 78.2l-1.1 0.3M289.5 50.8l0.5 0.3M330.3 104.3l-0.4 1.9M317.0 67.9l-0.1 1.2M321.7 95.1l0.4 1.7M321.9 112.2l-0.4 0.8M314.1 76.1l0.9 0.4M319.4 99.7l0.6 0.5M335.1 90.5l-1.6 1.2M316.4 48.6l-1.7 0.2M300.4 70.6l-1.8 1.9M325.3 67.5l2.6 0.6M306.2 88.9l0.5 0.3M324.9 98.9l1.8 1.7M268.2 106.7l1.3 2.3M308.8 71.6l1.7 1.0M279.7 89.7l-0.5 0.1M329.1 111.3l-0.1 0.7M286.2 101.6l-0.2 1.9M290.7 98.4l-0.8 0.5M316.3 126.0l0.5 0.3M318.4 61.8l-1.6 0.4M297.0 70.5l2.3 0.5M306.1 77.4l0.2 1.1M272.8 100.1l-0.5 0.5M331.1 45.4l0.5 0.3M321.9 103.1l-2.2 1.7M329.9 107.1l2.4 0.5M340.1 70.6l2.1 1.4M316.1 110.8l0.5 0.3M278.1 103.0l-1.4 1.8M320.4 76.5l2.2 0.6M326.8 62.3l-1.5 0.6M305.2 74.6l0.5 0.9M330.6 118.5l-1.7 1.7M294.0 61.5l0.4 1.0M277.1 105.3l0.0 1.6M273.3 75.5l0.0 1.3M307.8 79.5l-1.4 1.9M332.4 73.1l0.3 0.7M314.1 108.2l-1.6 0.3M298.6 71.5l-0.8 0.5M280.8 79.6l1.6 0.1M320.0 90.7l-0.1 1.1M325.8 74.2l1.4 0.5M345.1 60.2l2.2 1.5M313.7 52.4l1.2 1.7M281.7 39.8l0.5 0.3M317.8 86.1l0.0 1.5M343.4 63.6l0.6 0.2M303.9 80.7l-2.4 1.3M273.3 60.1l0.5 0.3M277.5 103.0l-1.1 1.9M297.8 96.4l-2.1 1.0M328.4 63.3l-2.3 0.5M285.3 79.6l0.8 2.7M334.6 113.8l1.9 1.3M291.9 79.0l0.7 2.4M302.0 92.3l-2.5 0.6M330.3 51.5l0.5 0.3M306.4 53.1l-2.4 0.9M284.4 88.3l1.3 0.1M286.1 88.8l0.4 0.5M294.7 111.4l0.5 0.3M318.4 61.4l1.0 1.3M283.7 90.2l0.4 0.7M264.6 121.5l0.5 0.3M312.5 72.0l-1.2 1.6M300.0 91.8l0.2 0.6M303.6 86.5l2.1 1.1M300.7 64.3l-1.1 0.1M313.7 74.8l0.9 0.0M319.8 55.2l-1.7 0.7M331.2 94.1l0.1 0.6M304.0 86.3l-0.5 0.9M278.3 88.1l0.7 2.2M307.0 62.5l-2.0 0.0M275.9 90.1l1.1 0.0M326.3 105.1l0.8 1.5M274.0 83.4l-0.8 0.1M292.0 96.9l-1.7 0.1M285.4 72.3l-2.0 1.4M277.8 106.0l0.5 0.7M317.7 78.8l-0.2 1.4M319.5 50.2l-0.6 0.6M338.5 73.7l-1.5 2.1M302.1 77.6l-2.5 1.1M338.6 108.9l-0.3 1.1M290.5 75.8l1.2 0.3M324.5 75.9l-0.9 1.0M319.4 106.5l0.8 1.2M325.9 111.4l1.6 0.2M322.7 78.7l0.2 1.9M325.2 96.2l0.3 0.8M288.1 87.2l1.8 0.3M292.3 72.3l-1.5 1.4M345.9 63.1l-0.3 2.0M330.0 108.6l-2.1 1.1M277.9 43.8l0.5 0.3M297.0 77.3l-0.8 0.1M296.1 72.3l0.9 1.1M298.0 93.8l0.4 0.6M330.4 77.6l-2.1 0.0M279.5 105.4l0.1 0.7M323.0 108.5l-0.9 1.2M303.7 56.2l-0.9 0.9M325.2 113.8l1.3 0.1M318.8 119.6l-1.1 2.5M313.0 54.6l0.9 2.3M295.2 79.1l1.1 1.0M335.7 59.8l0.9 0.8M335.9 73.2l0.6 0.1M331.1 55.2l-1.0 0.6M298.2 70.8l-1.9 0.1M338.1 78.9l0.1 1.7M310.7 61.0l1.0 0.3M292.0 72.9l-1.3 0.9M292.0 91.6l-1.1 1.5" stroke="#5a8420" stroke-width="2.0" stroke-linecap="round" fill="none" opacity="0.85"/>
<path d="M304.4 70.0l-0.6 1.6M337.4 60.9l0.5 1.1M301.1 57.9l0.7 0.1M332.2 121.7l0.0 0.6M328.5 83.5l0.8 2.4M320.9 92.3l0.5 0.1M317.5 67.9l-0.9 0.5M330.1 112.8l0.7 2.0M328.9 82.9l-1.2 0.0M298.5 90.7l-0.1 0.5M329.1 119.1l1.0 1.3M282.7 88.5l0.3 2.1M306.7 75.6l-2.1 1.0M320.9 78.3l-2.2 0.5M319.6 54.1l-1.3 1.9M278.9 76.6l-0.4 0.4M317.0 114.5l0.4 1.2M318.9 94.3l1.4 0.7M297.5 84.0l1.5 0.9M281.1 83.9l-2.2 0.5M319.3 120.7l0.3 1.6M322.0 80.8l-1.7 0.1M302.4 78.9l0.5 0.9M321.0 67.9l-1.1 1.1M324.6 85.7l-0.7 0.4M330.7 81.5l0.6 2.1M310.3 61.3l-1.7 1.3M320.8 86.6l0.6 0.3M317.1 80.3l0.9 2.3M289.1 49.0l0.5 0.3M288.7 63.8l-0.8 1.5M318.9 121.1l1.1 2.2M298.6 62.2l1.7 1.7M324.8 60.5l2.0 1.5M278.7 101.2l-1.8 0.1M288.2 94.0l0.6 2.7M277.8 93.4l-1.5 1.2M325.8 79.6l-0.5 0.2M335.0 95.6l0.9 1.2M307.1 58.2l0.7 0.2M326.8 70.2l-0.1 1.0M337.0 68.6l-1.7 1.1M293.8 62.6l-1.8 0.6M286.3 87.8l0.8 1.2M286.9 86.6l2.2 0.9M291.3 79.1l2.4 0.1M286.2 89.6l0.7 1.2M322.7 71.5l-0.7 0.1M327.8 106.9l1.2 1.7M341.1 61.5l0.7 0.0M302.7 70.3l1.9 1.5M316.3 71.7l-0.9 0.9M321.1 64.2l-1.0 1.4M313.1 78.9l0.3 1.5M327.8 50.7l2.1 0.1M318.6 72.2l0.5 2.6M328.2 86.9l0.5 0.3M288.8 79.2l0.2 2.3M344.9 84.4l0.9 0.9M289.1 88.5l2.5 0.5M291.6 65.0l0.1 1.3M283.3 86.7l1.0 0.4M335.2 58.3l-0.5 1.1M300.0 88.0l-0.9 2.2M283.9 84.3l0.7 2.1M333.5 60.8l-1.4 0.5M299.7 83.6l-0.1 1.7M325.4 56.9l1.6 1.1M329.4 56.7l0.4 1.2M331.1 115.9l-1.8 0.8M306.5 66.5l1.6 0.9M290.3 90.9l-1.1 1.4M316.4 66.6l0.7 0.6M292.4 76.2l-2.0 1.1M284.8 109.9l0.5 0.3M290.9 91.1l2.2 0.7M288.2 85.7l-1.9 0.3M334.9 59.4l-1.8 0.5M317.0 69.0l-1.9 1.8M299.7 81.2l0.6 1.9M301.6 93.2l-0.6 1.6M329.9 88.1l-0.6 0.4M269.8 94.6l0.5 0.3M322.9 59.6l-0.3 1.1M330.0 97.5l-2.1 1.5M293.3 95.6l0.7 2.5M292.3 73.5l-0.0 0.5M330.9 71.6l-0.2 0.9M298.3 95.1l-2.3 0.7M343.4 74.5l2.2 1.6M317.0 58.9l0.2 1.6M320.4 99.9l-0.8 0.5M343.0 69.0l-0.7 0.6M328.5 97.1l0.2 0.8M315.3 71.4l0.8 0.2M288.4 72.2l-1.1 2.3M304.8 72.9l1.6 0.2M275.4 99.4l2.5 0.0M297.6 79.1l1.5 0.5M329.4 80.8l0.9 1.3M323.9 71.7l-0.3 0.6M333.4 102.6l-0.9 0.0M338.7 68.5l2.2 1.2M301.6 86.7l-0.1 0.5M298.0 70.7l0.8 2.1M282.2 66.5l-2.4 0.6M293.1 90.5l-1.4 0.4M324.7 105.2l0.5 0.3M328.7 103.1l-1.1 1.7M307.8 76.4l-0.2 1.4M307.4 85.3l-1.8 0.8M299.7 88.3l1.2 1.7M315.8 117.5l0.6 2.1M273.8 99.8l2.0 0.5M317.4 113.2l2.3 0.4M297.6 81.5l1.4 0.2M279.0 78.8l-1.6 0.8M294.7 58.2l0.8 1.3M313.5 80.6l-1.1 0.7M331.3 88.2l0.2 0.5M320.3 67.4l0.5 0.3M280.4 105.3l0.5 0.3M302.9 86.6l-2.3 1.4M269.5 96.9l2.6 0.7M323.9 55.1l-1.8 1.3M277.9 87.4l1.2 2.0M330.6 85.0l1.2 1.2M319.9 119.4l0.8 0.1M259.7 35.9l0.5 0.3M284.8 84.8l-0.8 1.8M332.8 54.1l-2.0 1.8M331.8 62.4l-1.3 0.8M316.7 56.1l2.2 0.3M323.9 83.2l-0.4 1.1M293.2 97.1l-0.0 0.6M304.4 90.9l0.5 0.4M315.9 49.8l1.5 0.6M327.5 103.0l1.7 2.2M278.9 86.3l1.0 0.8M293.7 77.1l-0.6 1.9M328.7 57.3l-0.1 0.6M298.1 65.8l0.5 0.8M324.7 77.7l2.2 0.3M334.2 54.3l0.4 1.8M343.1 64.1l1.4 0.4M276.4 83.9l-0.3 2.0M298.2 67.3l-0.3 0.6M326.4 52.6l-0.7 1.7M284.9 75.2l0.5 2.4M315.0 70.4l1.6 0.6M314.5 87.6l-0.6 0.6M334.0 77.2l-0.4 2.7M321.7 88.4l0.7 0.0M325.6 52.0l0.1 1.9M321.0 75.6l2.1 0.4M339.5 71.4l-0.9 0.2M333.4 60.7l0.8 1.0M346.4 78.9l0.6 0.4M324.1 52.8l0.6 1.6M304.1 77.8l-0.3 0.7M317.2 99.0l-0.7 1.9M299.1 94.5l1.1 1.8M334.6 84.6l-0.8 2.3M328.0 110.5l1.1 0.1M296.7 69.7l-0.8 2.0M324.8 81.1l-0.9 1.5M333.9 89.4l-0.1 2.3M294.4 89.5l0.4 0.6M326.3 65.2l-1.9 0.3M319.4 69.2l0.5 0.3" stroke="#8fac28" stroke-width="1.9" stroke-linecap="round" fill="none" opacity="0.9"/>
<path d="M314.0 78.3l0.8 0.5M320.5 114.2l1.8 0.7M332.1 91.2l-0.1 1.5M319.1 119.9l0.5 0.3M338.2 99.0l2.4 0.9M305.5 77.6l0.3 1.0M275.6 84.6l1.8 1.1M341.9 59.2l-0.5 0.0M333.5 97.1l-2.5 0.9M318.0 116.0l-0.1 2.4M291.7 74.8l0.0 0.5M283.8 64.0l0.6 0.4M295.2 55.4l0.1 0.9M329.9 68.8l-1.3 1.0M309.7 48.9l0.1 0.8M334.6 62.2l-1.0 1.2M284.2 88.5l-1.8 0.1M285.1 73.0l-2.7 0.3M313.6 57.6l1.0 0.5M327.3 120.1l-0.8 2.2M305.6 83.9l-0.3 1.6M331.0 142.0l0.5 0.3M339.0 55.8l-0.4 0.5M340.0 57.8l0.3 1.9M286.2 78.8l2.1 1.8M332.8 109.6l1.7 0.8M335.9 121.1l-0.7 1.3M285.2 85.3l-0.7 0.4M302.8 63.8l-0.2 1.3M320.3 117.9l-1.7 1.5M339.3 68.1l0.9 0.1M337.4 56.5l1.0 1.6M329.0 115.1l0.4 2.1M290.3 73.3l0.6 1.1M320.4 48.1l0.6 1.3M339.7 60.1l-0.5 1.2M334.9 118.9l-1.0 2.5M316.7 105.8l0.6 0.9M334.8 118.3l-2.0 1.4M325.0 99.1l1.1 0.8M337.6 79.8l-0.6 0.9M321.8 64.4l-1.9 0.5M341.0 80.1l-0.9 0.2M309.1 79.4l-0.7 0.5M336.2 68.6l-1.4 1.6M322.8 81.4l0.6 0.1M309.7 72.9l2.1 0.7M293.1 61.8l0.2 1.3M318.0 104.4l1.9 0.9M317.7 54.5l-0.6 1.3M335.6 71.6l1.0 0.9M298.9 76.3l0.4 0.6M316.5 57.1l0.6 0.8M327.3 110.4l-0.8 0.5M294.7 87.1l-2.1 0.5M329.1 56.8l-0.1 2.3M336.9 81.3l-1.1 1.0M320.4 68.6l0.5 0.3M308.9 84.9l-2.1 0.4M337.7 76.7l0.3 0.8M314.9 108.2l0.9 0.1M332.0 118.6l0.5 1.3M300.3 65.9l-0.3 0.7M316.9 120.7l0.2 0.7M308.3 80.4l1.4 1.1M321.1 97.4l0.5 2.5M274.3 97.7l-0.6 1.1M315.6 59.8l1.3 0.6M319.1 119.8l1.0 0.2M325.1 61.4l-0.9 1.9M276.2 83.4l-1.2 0.1M287.8 70.5l0.5 0.6M324.4 86.2l1.2 0.2M284.0 78.8l-0.6 2.6M309.5 81.7l0.5 2.4M332.2 78.8l2.7 0.2M336.2 55.2l1.5 0.5M282.3 84.2l0.6 0.4M292.3 43.3l0.5 0.3M332.3 117.9l-0.9 1.9M346.9 79.8l-1.1 2.3M284.2 96.4l0.4 1.5M319.6 116.3l1.7 0.9M335.5 84.5l2.1 1.5M293.0 81.5l-1.0 1.7M338.4 56.3l1.0 0.2M314.8 74.2l0.5 0.2M330.8 115.9l0.3 0.9M322.6 60.4l-0.2 1.2M332.4 95.9l0.5 0.3M318.3 139.1l0.5 0.3M325.3 49.9l-0.1 2.7M314.2 70.4l-0.0 1.4M331.6 88.3l1.0 0.0M331.9 113.9l1.5 2.3M301.7 81.7l-0.6 1.3M279.8 102.8l1.1 0.2M321.6 46.9l-0.5 0.1M320.2 94.4l2.2 0.9M310.3 71.6l1.3 0.7M267.8 30.2l0.5 0.3M321.8 99.3l-1.3 0.4M308.8 55.8l-1.1 0.1M285.5 72.9l-2.1 1.5M289.5 71.3l0.5 0.3M311.0 83.4l1.6 1.0M309.3 84.4l-1.3 0.2M317.2 61.5l0.5 0.3M295.9 81.4l-1.9 0.5M332.0 70.7l1.9 0.6M274.2 103.9l-1.1 1.4M308.5 82.7l-0.5 0.3M300.6 90.3l0.3 0.6M293.8 94.3l1.1 0.4M308.3 60.6l-0.4 0.3M308.3 68.9l-0.6 0.9M342.2 63.4l-2.4 0.8M301.9 57.0l0.3 1.7M318.8 101.3l-1.1 1.0M321.3 74.7l-0.3 0.5M336.9 67.1l1.4 1.7M339.8 85.0l0.0 0.8M333.1 101.4l-0.5 0.1M258.3 41.4l0.5 0.3M287.2 72.8l1.2 2.0M301.4 74.0l-1.2 2.1M315.2 76.3l-2.1 0.9M299.6 92.7l-2.0 0.1M319.4 112.2l2.7 0.5M330.0 64.8l2.0 0.7M308.3 57.6l0.8 0.5M322.1 53.8l-2.2 1.2M305.1 72.9l-1.1 1.6M296.2 60.1l2.0 1.9M323.6 81.2l-0.2 1.8M329.8 111.9l-0.4 1.2M316.8 71.8l-1.3 0.1M339.8 75.9l-0.9 1.5M319.3 56.6l-0.1 1.8M338.3 56.3l1.3 0.8M328.7 86.2l0.2 0.6M289.5 75.2l-0.3 0.6M320.2 105.8l-0.8 1.5M334.2 53.8l2.0 0.4M310.1 48.5l0.5 0.3M304.2 52.0l1.4 2.0M334.2 117.5l-0.2 0.8M335.8 62.0l-1.8 1.1M333.0 62.8l2.2 1.1M320.2 84.3l2.1 0.5M328.8 89.2l-1.6 1.2M332.8 81.3l2.5 0.2M293.7 89.4l-1.3 1.3M310.4 66.0l-0.3 2.2M330.9 81.4l1.5 2.3M293.7 90.5l-1.0 0.3M305.9 53.5l1.7 1.8M292.7 71.1l1.4 0.7M279.6 74.2l1.7 1.1M315.0 51.4l-0.7 0.4M289.3 83.3l0.9 1.8M286.8 89.3l0.6 0.2M296.5 71.3l1.7 1.0M333.6 118.6l0.6 2.0M313.6 65.6l-0.8 0.1M324.1 82.7l0.6 0.8M287.0 82.4l-0.9 0.7M321.3 92.5l0.7 1.1M342.1 111.9l-1.7 0.5M293.7 72.0l0.1 1.1" stroke="#cccf32" stroke-width="1.7" stroke-linecap="round" fill="none" opacity="0.95"/>
</g></g>
<rect x="351.2" y="33" width="99.4" height="98.9" fill="#1d380c"/>
<g clip-path="url(#cBi)"><path d="M351 33H451V62L432 64L424 92L406 98L404 132H368L366 84L351 80Z" fill="#3f7c18" filter="url(#b4)" opacity="0.85"/></g>
<g clip-path="url(#cBi)" filter="url(#b2)">
<path d="M432.5 69.1l5.5 4.8M436.1 54.7l3.0 -7.7M384.0 58.8l-0.5 3.4M371.8 122.4l1.8 -2.5M367.4 36.2l8.4 -1.4M434.4 39.9l8.9 0.6M393.8 51.9l-0.8 3.4M361.7 65.6l2.7 7.1M364.2 90.4l0.4 4.0M394.1 115.9l7.5 -4.7M419.9 79.3l3.7 2.3M414.7 122.6l3.2 -2.5M354.1 72.0l5.4 0.1M351.5 32.5l8.8 0.7M414.8 86.9l-1.8 7.3M409.3 81.7l8.1 2.4M386.8 120.3l8.8 -1.9M404.4 90.5l4.2 0.7M446.1 42.5l5.5 -3.7M428.0 65.0l-1.0 5.6M404.9 56.2l1.3 4.5M368.0 105.1l2.5 -3.8M390.8 106.4l3.1 2.8M353.3 59.2l4.7 -5.9M358.4 59.0l2.1 -3.1M420.5 93.5l5.0 -2.8M366.4 42.9l4.1 0.1M405.5 121.9l5.7 -4.5M393.1 75.0l-1.9 5.9M411.6 63.0l5.2 1.3M392.7 119.2l6.9 -3.9M386.6 100.4l2.6 5.9M353.7 60.6l3.5 5.3M393.0 126.9l1.0 3.7M374.6 48.2l-0.9 6.0M387.2 52.2l1.8 5.5M363.9 46.0l7.1 -2.4M382.6 108.3l8.5 -3.0M392.0 68.5l4.2 -4.0M402.3 76.2l4.2 5.1M394.9 55.1l3.1 -1.8M399.7 68.6l4.1 4.2M364.0 47.5l4.1 1.2M408.7 66.7l5.1 4.9M391.7 33.1l1.6 -3.5M428.1 72.5l3.3 -3.6M414.6 72.5l2.8 -4.1M382.1 56.8l2.9 -3.8M387.1 65.2l2.8 -5.8M390.4 52.5l3.3 2.4M380.6 85.9l-0.1 7.8M367.4 105.9l4.5 1.2M386.1 66.9l1.8 2.5M352.7 52.7l4.5 -2.6M449.9 45.6l0.8 5.5M400.5 94.1l0.1 3.1M428.6 50.4l3.4 -1.0M394.7 53.7l2.0 -3.0M404.9 98.3l-0.1 6.3M380.6 40.1l1.8 -4.0M375.9 127.0l1.9 3.7M422.6 115.2l6.9 -5.7M370.1 102.1l5.3 -2.4M381.4 113.5l5.5 3.5M355.3 37.2l8.7 0.3M378.9 124.5l-1.9 7.0M362.7 88.9l3.8 1.5M376.6 80.0l5.4 -6.1M368.6 107.6l5.6 1.0M376.3 39.0l-1.7 5.0M369.3 63.8l7.3 -2.4M433.3 50.5l7.4 -1.2M399.4 90.7l1.5 4.2M408.8 93.6l6.7 2.5M407.7 49.0l2.1 7.0M374.9 38.7l6.8 -2.7M381.5 71.7l-2.0 8.1M397.4 67.8l2.8 -1.8M404.8 97.7l6.4 6.2M425.1 56.4l-1.6 4.8M435.2 59.1l6.1 2.4M376.9 56.8l1.2 8.2M448.6 37.3l-0.1 6.4M377.0 122.4l1.0 3.0M390.5 105.2l6.7 -1.8M377.6 93.9l4.4 7.2M391.7 118.0l4.5 -3.3M423.6 33.6l2.9 3.7M396.6 103.2l2.9 -4.1M397.5 118.3l3.4 1.7M432.9 43.0l4.7 -5.9M415.2 63.2l1.1 -3.8M410.5 95.8l3.0 3.6M370.7 91.3l5.8 -6.4M366.2 122.8l2.8 4.7M366.2 44.0l-1.4 8.1M449.0 59.3l5.2 -3.4M385.9 100.0l0.4 4.8M367.0 80.2l2.5 1.7M393.7 129.5l4.2 -4.3M421.1 38.3l5.4 -3.8M391.2 82.2l2.5 4.2M362.5 67.5l7.6 -1.2M412.2 54.1l-1.5 8.0M373.6 95.5l3.4 4.9M353.6 49.4l4.0 -0.9M394.2 50.3l8.7 0.5M447.0 49.8l0.6 3.0M401.2 128.8l1.5 -3.0M379.6 123.2l8.0 2.0M444.3 43.1l6.3 1.3M368.6 126.6l7.7 -4.1M410.3 35.3l4.8 -5.9M407.7 89.6l-0.7 7.3M369.2 63.3l5.0 -2.5M402.5 33.6l0.6 3.3M377.7 43.1l-0.4 5.9M384.4 96.9l4.8 -4.2M430.0 86.0l-0.2 7.9M443.6 54.2l2.3 -4.2M438.0 119.2l4.0 -2.0M417.6 90.6l4.1 -3.9M391.3 100.9l1.6 7.8M375.7 120.3l0.6 3.1M373.3 62.4l7.7 -1.0M383.7 61.7l2.2 4.0M413.5 81.4l-0.4 7.6M368.5 86.4l5.8 -5.3M371.7 37.5l1.7 5.0M414.4 79.6l1.5 -4.7M422.7 32.8l-0.0 6.1M382.4 103.5l-0.4 5.9M381.2 77.1l-0.6 3.0M448.3 38.2l-0.6 6.3M380.6 72.2l6.3 -3.4M369.0 53.0l-0.0 4.1M386.0 65.3l0.7 8.6M392.9 107.5l3.2 -7.5M421.4 92.5l4.2 7.0M406.3 37.9l3.6 4.1M435.5 39.3l3.4 1.7M409.8 35.7l-1.1 5.4M366.8 115.8l-0.3 7.7M399.9 38.0l4.5 -2.1M366.2 58.3l4.5 7.0M425.5 44.5l3.5 -7.0M438.1 59.5l0.5 4.6M449.8 124.0l3.0 2.7M385.5 108.4l4.2 2.3M406.8 64.4l4.5 1.6M444.8 51.4l8.4 1.9M394.4 37.4l4.6 -6.3M370.1 35.8l1.4 4.1M383.5 79.6l1.4 -3.2M364.5 84.5l4.6 -1.9M422.2 39.8l0.6 7.0M425.9 37.0l1.2 -2.8M369.0 67.0l6.1 2.0M367.9 95.5l5.7 3.7M405.3 120.2l0.7 8.1M392.3 36.7l2.1 -7.1M391.6 102.0l0.3 6.8M419.3 101.4l3.5 3.1M379.1 32.1l0.5 4.8M364.2 35.0l4.3 5.7M407.3 69.2l3.5 5.9M355.1 58.1l-1.0 5.2M404.9 58.0l2.5 -4.1M366.0 113.9l1.9 6.7M446.0 34.4l-1.5 4.6M403.3 60.5l5.6 4.4M405.4 106.0l-0.8 3.8M414.8 52.7l4.2 4.2M358.8 42.3l6.4 5.3M370.0 58.0l5.4 4.4M378.3 51.9l6.5 1.9M375.2 66.7l5.3 -0.7M387.1 95.1l6.5 -1.5M446.8 38.1l6.1 4.9M365.3 65.4l6.5 0.7M359.6 61.8l3.4 -2.7M392.7 92.3l4.7 -1.4M409.7 67.1l2.0 6.1M419.5 71.3l5.1 7.0M379.3 129.6l7.9 -0.1M381.9 32.5l4.3 -5.8M432.3 45.7l0.9 4.3M402.9 116.5l5.6 -7.0M359.7 48.6l5.0 0.4M371.7 130.7l3.2 -2.8M415.2 84.6l2.9 2.5M380.4 53.6l1.0 4.3M370.1 99.0l3.3 0.3M393.1 67.7l3.4 3.1M418.2 65.9l3.5 -0.4M383.8 57.0l8.9 0.9M395.7 97.1l4.4 -1.7M369.6 42.9l2.2 4.8M381.1 97.3l2.1 -2.7M356.9 54.0l-1.1 5.7M415.3 84.9l2.7 -4.3M381.5 77.0l-1.8 5.3M409.7 93.4l4.5 -0.6M447.0 43.7l8.3 0.6M444.3 48.9l3.3 -3.5M362.7 87.5l7.7 -0.3M428.3 62.4l8.4 -0.4M394.9 71.6l3.4 6.0M392.3 130.2l5.5 -1.2M379.1 86.8l4.3 2.4" stroke="#5cc01a" stroke-width="3.8" stroke-linecap="round" fill="none" opacity="0.85"/>
<path d="M431.9 69.6l4.4 3.8M435.8 55.1l2.4 -6.1M383.3 58.6l-0.4 2.8M434.2 40.7l7.1 0.5M393.6 52.2l-0.6 2.7M361.5 66.0l2.1 5.7M364.2 90.0l0.3 3.2M414.7 123.0l2.6 -2.0M353.4 72.7l4.3 0.1M351.5 33.2l7.0 0.6M387.5 121.0l7.0 -1.5M446.1 42.5l4.4 -2.9M428.5 65.5l-0.8 4.5M404.6 56.8l1.0 3.6M359.2 58.4l1.7 -2.5M421.2 94.0l4.0 -2.2M405.3 122.1l4.5 -3.6M393.8 75.0l-1.5 4.7M386.1 100.9l2.1 4.7M375.0 48.3l-0.7 4.8M387.1 52.5l1.5 4.4M363.1 46.7l5.7 -1.9M382.2 107.6l6.8 -2.4M392.8 68.5l3.4 -3.2M402.4 76.2l3.4 4.1M394.5 54.9l2.5 -1.4M399.1 69.0l3.3 3.4M363.3 47.9l3.3 0.9M408.6 67.5l4.1 3.9M428.1 72.4l2.6 -2.9M414.4 73.3l2.2 -3.3M382.4 57.0l2.3 -3.0M390.7 52.6l2.7 1.9M367.6 105.4l3.6 1.0M385.9 66.4l1.5 2.0M352.0 52.8l3.6 -2.1M429.1 50.2l2.7 -0.8M394.8 53.5l1.6 -2.4M405.1 97.6l-0.1 5.0M370.8 102.0l4.3 -1.9M363.5 88.6l3.0 1.2M376.8 79.3l4.3 -4.9M368.6 107.7l4.4 0.8M408.5 93.6l5.3 2.0M396.8 68.1l2.2 -1.4M425.2 55.8l-1.3 3.8M435.0 58.4l4.9 1.9M377.2 56.3l1.0 6.5M377.5 122.1l0.8 2.4M390.7 105.3l5.4 -1.4M377.8 94.0l3.5 5.8M423.7 33.4l2.4 3.0M433.3 43.4l3.8 -4.7M414.4 63.6l0.9 -3.1M370.6 91.2l4.6 -5.1M366.9 44.2l-1.1 6.5M448.7 60.0l4.2 -2.7M366.4 80.0l2.0 1.4M394.3 129.1l3.3 -3.4M390.4 82.8l2.0 3.4M361.7 67.0l6.1 -1.0M394.7 51.1l7.0 0.4M447.6 49.4l0.5 2.4M401.3 129.1l1.2 -2.4M379.7 123.1l6.4 1.6M369.0 126.5l6.1 -3.3M409.5 35.4l3.8 -4.7M408.4 89.4l-0.5 5.9M384.7 97.0l3.9 -3.3M430.3 86.7l-0.1 6.3M444.0 53.9l1.9 -3.4M438.3 118.6l3.2 -1.6M391.9 100.4l1.3 6.3M373.2 63.0l6.1 -0.8M384.0 61.7l1.8 3.2M413.1 82.1l-0.3 6.1M369.0 86.7l4.7 -4.2M371.4 37.4l1.4 4.0M414.8 80.0l1.2 -3.8M423.1 32.8l-0.0 4.9M382.7 104.0l-0.3 4.8M380.7 77.7l-0.5 2.4M447.9 37.4l-0.5 5.0M380.1 71.7l5.0 -2.7M369.3 53.4l-0.0 3.3M386.0 65.6l0.6 6.9M421.2 92.5l3.4 5.6M435.8 39.1l2.7 1.4M367.1 115.6l-0.2 6.2M399.6 38.1l3.6 -1.7M366.8 57.7l3.6 5.6M426.3 43.9l2.8 -5.6M438.2 59.3l0.4 3.7M450.2 124.0l2.4 2.1M407.5 65.0l3.6 1.3M445.2 50.7l6.7 1.5M370.3 36.5l1.1 3.2M384.2 79.3l1.1 -2.5M369.2 67.0l4.9 1.6M367.8 96.1l4.5 2.9M391.5 37.2l1.7 -5.7M392.3 101.9l0.2 5.4M419.0 100.9l2.8 2.5M364.0 35.1l3.4 4.6M355.7 58.0l-0.8 4.1M365.9 114.4l1.5 5.3M405.5 106.5l-0.7 3.1M415.6 52.6l3.3 3.3M377.9 52.6l5.2 1.5M364.6 65.9l5.2 0.6M359.7 61.0l2.7 -2.2M392.4 91.9l3.8 -1.1M409.8 66.8l1.6 4.9M419.5 72.0l4.1 5.6M431.8 45.0l0.7 3.4M402.5 116.1l4.5 -5.6M359.2 49.0l4.0 0.3M372.2 131.3l2.5 -2.2M370.4 99.0l2.6 0.2M383.7 57.7l7.1 0.7M415.6 85.4l2.2 -3.5M381.7 77.6l-1.4 4.2M409.8 93.1l3.6 -0.5M444.8 49.2l2.6 -2.8M363.4 87.8l6.2 -0.2M395.1 71.0l2.7 4.8M392.1 130.1l4.4 -1.0" stroke="#eeea2c" stroke-width="2.3" stroke-linecap="round" fill="none" opacity="0.95"/>
<path d="M358.4 33.4l-2.7 2.8M374.6 121.9l2.8 2.1M384.7 47.5l1.4 3.7M392.6 50.0l3.1 1.9M386.3 56.2l-2.1 1.5M392.4 49.3l1.3 3.0M437.4 39.7l1.2 0.8M367.4 41.4l-0.8 1.9M395.4 108.2l1.7 1.2M447.1 54.3l-0.6 2.1M359.3 39.1l-1.0 2.0M371.4 72.0l3.2 1.6M369.2 45.1l0.3 3.9M443.8 51.2l3.0 2.3M383.9 48.5l-1.0 2.3M431.5 36.6l-0.2 1.9M414.3 50.5l2.4 0.4M383.3 33.2l-1.7 1.4M370.3 94.3l-1.9 3.3M379.1 82.7l-0.9 3.2M404.7 59.3l1.8 1.0M414.1 39.5l1.9 1.4M391.8 98.1l1.4 2.3M418.0 39.9l-1.9 0.5M440.5 56.7l2.1 2.1M415.2 82.4l-3.4 1.7M372.3 90.0l0.3 1.0M408.4 48.7l-0.9 3.2M413.3 70.5l-1.1 2.6M355.9 54.9l-2.2 0.9M381.6 97.9l-3.3 1.6M435.8 33.5l-0.3 2.9M370.7 70.7l-1.3 2.3M381.3 111.1l1.3 3.5M399.2 129.8l-3.4 0.1M402.9 46.7l0.3 1.5M375.2 69.1l-0.0 3.6M382.5 65.5l-1.0 1.6M411.1 49.6l0.1 1.0M365.1 55.1l2.3 1.7M409.6 81.4l-0.0 1.9M394.9 113.9l-1.2 2.4M373.0 61.6l0.6 3.0M417.0 56.2l-2.5 1.3" stroke="#0e1c05" stroke-width="2.6" stroke-linecap="round" fill="none" opacity="0.75"/>
</g>
<path d="M310.3 88.6L351.2 33M343.7 88.6L351.2 84.8M310.3 120.8L351.2 131.9M343.7 120.8L351.2 121.5" stroke="#F4F400" stroke-width="1.1" fill="none"/>
<rect x="310.3" y="88.6" width="33.4" height="32.2" fill="none" stroke="#F4F400" stroke-width="1.2"/>
<rect x="351.2" y="33" width="99.4" height="98.9" fill="none" stroke="#F4F400" stroke-width="1.9"/>
<text x="225.6" y="18.5" font-size="16.25" font-weight="bold" text-anchor="start" fill="#fff" >A549: small networks</text>
<rect x="332.9" y="143" width="56.6" height="3.1" fill="#fff"/>
<text x="361.6" y="163.3" font-size="16.3" font-weight="bold" text-anchor="middle" fill="#fff" >20 &#181;m</text>
<rect x="411" y="106.6" width="27.8" height="2.9" fill="#fff"/>
<text x="424.2" y="126.9" font-size="15.9" font-weight="bold" text-anchor="middle" fill="#fff" >10 &#181;m</text>
<text x="232" y="163" font-size="25" font-weight="bold" text-anchor="start" fill="#fff" >B</text>
<rect x="451.4" y="0" width="172.5" height="169.1" fill="#17290b"/>
<g clip-path="url(#cC)" filter="url(#b0)">
<path d="M473.7 115.6L474.4 113.8L475.6 112.1L477.3 110.7L479.5 109.5L481.7 108.5L483.7 107.5L485.6 106.3L487.2 104.9L489.0 103.4M471.2 121.9L471.0 120.2L470.8 118.5L470.7 116.6L470.8 114.6M514.8 96.7L517.3 97.2L519.7 97.8L521.8 98.8M495.0 147.1L492.6 147.4L490.2 147.6L487.8 147.7L485.4 147.5L483.1 147.2M497.2 99.5L499.5 99.2L501.8 99.1L504.0 99.1L506.1 99.3L508.2 99.3L510.3 99.4L512.5 99.3L514.7 99.4M464.5 121.5L465.0 119.4L465.6 117.2L466.3 115.0L467.4 112.8L468.8 110.6L470.7 108.6L472.9 106.7M476.3 140.1L474.5 139.2L473.0 138.1L471.3 137.1L469.4 136.0M473.3 117.8L474.5 116.3L475.6 114.8L476.8 113.3L478.1 111.8L479.6 110.4L481.4 109.3M490.1 101.0L492.8 100.4L495.4 100.1L497.9 99.9L500.4 100.0L502.7 100.2M480.1 109.2L482.0 108.0L483.9 106.9L485.8 105.8L487.7 104.7L489.6 103.7L491.6 102.7M466.5 126.6L466.8 124.7L467.4 122.8L468.5 120.9L469.9 119.0L471.5 117.3L473.3 115.6L475.1 114.1L476.9 112.7L478.7 111.3M522.0 101.8L523.2 103.1L524.3 104.5L525.1 105.9L525.8 107.4L526.3 109.0L526.6 110.5L526.8 112.0L526.9 113.6M527.8 107.5L528.5 109.0L529.1 110.5L529.4 112.1L529.5 113.8L529.4 115.5L529.0 117.1L528.4 118.8L527.5 120.5M500.9 144.5L498.6 144.8L496.2 145.2L493.8 145.6L491.4 145.8L489.2 145.7M502.7 143.8L500.3 144.7L497.8 145.5L495.2 146.3L492.5 146.9L489.7 147.3L487.0 147.4L484.4 147.2M481.4 107.0L483.3 105.7L485.2 104.6L487.3 103.5L489.4 102.6L491.6 101.9L493.9 101.4L496.1 101.1M477.1 147.8L474.7 147.5L472.2 147.1L469.6 146.7M579.2 38.5L580.6 36.7L581.9 34.8L583.4 33.0L584.9 31.3L586.5 29.7L588.3 28.2L590.1 26.7L591.7 25.2L593.4 23.2M598.5 10.7L600.0 8.9L601.5 7.2L603.1 5.5L604.6 3.8L606.0 2.0L607.3 0.1L608.5 -1.9L609.4 -3.4L609.2 -3.5L609.1 -3.6L609.2 -3.5M592.8 17.7L594.3 15.8L595.7 14.0L597.2 12.2L598.7 10.4L600.2 8.6L601.7 6.8L603.1 5.0L604.5 3.1L605.9 1.3L607.3 -0.6L608.6 -2.6L609.2 -3.6M587.4 30.5L589.5 29.4L591.5 28.1L592.9 26.4L593.8 23.8L594.2 21.3L594.8 19.0L596.1 17.1L598.0 15.8L600.1 14.5L601.7 13.0M562.3 45.3L563.7 43.6L565.1 41.8L566.5 40.1L567.9 38.4L569.4 36.8L571.0 35.2L572.6 33.7L574.3 32.2M501.2 95.7L503.3 94.8L505.0 93.2L506.5 91.3L507.9 89.3L509.5 87.7L511.4 86.6L513.6 86.0L515.9 85.4M589.5 7.5L590.9 5.7L592.5 4.1L594.1 2.4L595.7 0.8L597.2 -0.9L598.6 -2.6L599.8 -4.5L600.9 -6.5M568.3 35.8L569.8 34.1L571.4 32.5L573.0 30.9L574.7 29.4L576.3 27.9L578.0 26.3L579.6 24.7L581.1 23.1L582.5 21.4L583.9 19.6L585.0 17.8M518.9 91.4L520.6 89.8L522.4 88.5L524.5 87.5L526.7 86.9L529.1 86.4L531.5 86.0L533.7 85.3M601.7 14.2L603.2 12.5L604.5 10.6L605.5 8.5L606.6 6.5L608.1 4.7L609.8 3.1L611.4 1.5L612.8 -0.4L612.7 -0.8M596.5 6.4L597.7 4.5L598.5 2.3L599.5 0.2L600.9 -1.5L602.8 -2.9L605.0 -4.0L607.0 -5.2L607.1 -5.1L606.7 -5.4M592.5 7.3L594.0 5.7L595.5 4.1L596.9 2.4L598.2 0.5L599.3 -1.4L600.4 -3.3L601.4 -5.3M561.0 47.8L562.1 45.5L563.4 43.4L565.1 41.7L567.2 40.2L569.2 38.8L571.0 37.0L572.3 35.0M565.0 55.7L566.1 53.7L567.2 51.5L568.5 49.6L570.0 47.8L571.6 46.2L573.2 44.5L574.6 42.6L575.8 40.5L576.9 38.4L578.2 36.4L579.7 34.7L581.4 33.0L583.0 31.3L584.4 29.4L585.6 27.4M505.3 92.5L507.5 91.4L509.8 90.4L512.0 89.4L514.3 88.5L516.6 87.7L519.0 86.9M539.7 78.3L541.5 76.6L542.9 74.6L544.2 72.3L545.6 70.2L547.2 68.4L549.4 66.8M594.9 11.3L595.6 8.9L596.7 6.7L598.3 4.9L600.3 3.5L602.3 2.0L604.0 0.4L605.2 -1.7L605.9 -4.2L606.1 -5.9L605.6 -6.3M512.9 95.5L515.2 94.4L517.3 93.1L519.3 91.7L521.2 90.2L523.2 88.7L525.2 87.3L527.3 86.0M490.2 108.2L492.1 106.8L493.7 105.6L495.8 104.4L497.9 103.3M498.1 101.8L499.6 99.9L501.2 97.9L502.7 95.9L504.4 94.1M492.0 105.0L493.7 103.6L495.9 102.5L498.3 101.9L500.9 101.7L503.5 101.4M568.6 53.0L570.0 51.2L571.4 49.3L572.9 47.6L574.6 46.1L576.4 44.6L578.1 42.9L579.5 41.1L580.9 39.3L582.4 37.5L584.0 35.9L585.8 34.4L587.6 32.8L589.1 31.1M553.9 67.6L555.6 65.9L557.2 64.2L558.6 62.2L559.6 60.0L560.6 57.7L562.0 55.8L563.7 54.2M563.5 49.7L565.2 48.1L566.9 46.4L568.4 44.7L569.9 42.9L571.3 41.0L572.6 39.0L574.0 37.1L575.4 35.2L577.0 33.5L578.6 31.8L580.4 30.2L582.2 28.6M575.0 38.7L576.2 36.6L577.4 34.5L578.9 32.7L580.7 31.1L582.6 29.6L584.4 28.1L585.9 26.2L587.1 24.2L588.3 22.1L589.7 20.1M582.4 33.1L584.1 31.6L586.2 30.3L588.4 29.2L590.4 27.8L591.9 26.1L593.2 23.7L594.0 21.4L595.1 19.4L596.7 17.7L598.7 16.3L600.9 15.1L602.9 13.7M547.5 82.4L549.7 81.4L552.2 80.8L554.7 80.0L556.7 78.8L559.9 75.2L560.9 72.9L562.1 70.9M568.7 44.6L570.7 43.2L572.8 41.9L574.5 40.3L575.8 38.3L576.7 35.9L577.4 33.5L578.5 31.4L580.0 29.6L582.0 28.2L584.1 26.9L585.8 25.3L587.1 23.3L588.0 20.9L588.6 18.4M523.2 91.3L525.7 90.9L528.3 90.7L530.9 90.6L533.5 90.3M555.8 79.4L557.3 77.7L560.4 74.2L561.8 72.5L563.4 70.9L564.9 69.3L566.5 67.7L567.9 66.0L569.1 64.1L570.3 62.2L571.3 60.2L572.4 58.2L573.6 56.3L574.8 54.4L576.2 52.7M480.8 112.1L482.9 111.2L485.0 110.1L487.0 109.0L488.9 107.9L490.9 106.7M589.6 27.0L590.5 24.8L592.3 22.9L594.4 21.6L596.3 20.2L597.7 18.3L598.4 15.9L599.1 13.5L600.3 11.6L602.3 10.2L604.4 8.9L606.0 7.2L607.0 5.0L607.6 2.6M473.9 114.3L475.8 112.3L477.9 110.6L480.2 109.2L482.4 107.7M504.5 98.0L506.6 97.1L509.0 96.5L511.4 95.9L513.5 95.0M565.2 55.9L566.2 53.9L567.3 51.9L568.6 50.0L570.0 48.3L571.4 46.6L572.8 44.8L574.0 42.9M572.1 33.7L573.7 32.2L575.7 30.9L577.5 29.5L579.0 27.8L580.1 25.8L581.1 23.6L582.1 21.6L583.6 19.8L585.3 18.4L587.2 17.0L588.9 15.5M543.5 81.2L545.3 79.9L547.0 78.5L548.5 76.8L549.7 74.9L550.9 72.9L552.3 71.0L554.4 68.5L555.9 66.9L557.5 65.3M565.5 51.2L566.6 49.1L567.7 47.2L568.9 45.3L570.3 43.6L571.9 42.0L573.6 40.5L575.5 39.1L577.3 37.7L579.1 36.3L580.8 34.8L582.4 33.2L583.8 31.4L585.0 29.6L586.1 27.6M600.3 11.2L602.0 9.6L603.7 8.0L605.3 6.4L606.8 4.6L608.2 2.8L609.5 0.9L610.9 -0.9L611.6 -1.7L611.7 -1.6L612.0 -1.4L612.3 -1.1L612.6 -0.9L612.8 -0.8L612.9 -0.7M526.9 92.7L529.4 92.2L531.9 91.7L534.2 90.9L536.1 89.5L539.2 86.7L540.7 84.7M540.7 82.2L541.9 80.2L543.4 78.5L545.2 77.2L547.2 76.0L548.9 74.6L550.3 72.8M565.8 46.4L567.5 44.7L568.9 42.8L570.3 40.8L571.8 38.9L573.4 37.1L575.3 35.6L577.3 34.1L579.3 32.7M481.6 106.4L483.4 104.8L485.2 103.4L487.2 102.2L489.2 101.0L491.6 99.6L493.6 98.4L495.4 96.9L497.2 95.2M482.7 109.3L485.2 108.5L487.5 107.3L489.4 105.5L491.0 103.4M598.2 17.0L599.5 15.1L600.7 13.2L601.9 11.2L603.0 9.1L604.2 7.1L605.4 5.1L606.7 3.2L608.2 1.4L609.7 -0.3L611.4 -1.8L611.7 -1.6L612.1 -1.3L612.4 -1.0L612.7 -0.8L612.8 -0.7M513.7 93.1L516.0 92.2L518.2 91.1L520.0 89.5L521.6 87.3L523.1 85.3L525.0 83.7L527.2 82.6L529.5 81.8M567.4 46.3L569.4 45.0L571.2 43.5L572.6 41.6L573.7 39.5L574.8 37.4L576.2 35.6L578.0 34.1L580.0 32.7L581.8 31.2L583.2 29.3L584.3 27.2L585.4 25.1L586.8 23.2L588.7 21.7L590.7 20.2M509.8 90.6L512.0 88.9L514.2 87.3L516.6 86.0M566.5 41.1L567.8 39.2L569.3 37.6L570.9 36.0L572.5 34.5L574.1 32.8L575.4 31.0L576.6 29.1L577.7 27.1L578.9 25.2L580.2 23.4L581.8 21.8L583.4 20.2L585.0 18.7L586.4 17.0L587.6 15.1L588.6 13.1M482.8 106.0L484.9 104.5L487.5 103.9L490.2 103.4L492.6 102.3L494.5 100.6L496.4 99.0M548.3 72.7L549.7 70.9L551.8 68.8L553.4 67.2L555.1 65.8L556.5 64.1L557.7 62.1L558.5 60.0L559.4 57.9L560.6 55.9L562.1 54.3L563.8 52.8M558.0 72.9L559.6 71.2L560.8 69.1L561.8 66.8L562.6 64.5L563.7 62.3L565.2 60.5L567.0 58.9L568.9 57.4L570.6 55.7L571.9 53.7L572.8 51.4M524.9 84.0L526.2 82.0L527.6 80.0L529.3 78.5L531.0 77.8L533.1 76.8L535.0 75.6L536.5 74.0L537.6 71.8M597.6 3.6L598.7 1.4L599.6 -0.8L600.6 -2.9L601.8 -4.9L603.4 -6.6L604.4 -7.2L604.7 -7.0L604.7 -7.0L604.5 -7.2L604.0 -7.5L603.5 -7.9L603.2 -8.1L603.3 -8.1M566.5 45.2L568.1 43.4L569.9 41.6L571.8 40.0L573.7 38.4L575.5 36.7L577.2 34.9M531.7 121.0L530.2 123.0L529.1 124.9L528.2 126.8L527.2 128.7L525.7 130.5M520.0 99.2L522.3 99.8L524.4 100.7L526.1 101.9L527.6 103.3L528.8 104.9L529.8 106.5M532.1 107.8L533.3 109.3L534.3 110.8L535.1 112.4L535.8 114.2L536.2 116.0L536.3 118.0L536.1 120.0L535.6 122.0L534.9 124.0L533.8 126.0M533.5 119.0L533.0 121.0L532.5 123.1L531.9 125.2L530.9 127.3L529.6 129.3L528.0 131.3M527.2 99.0L528.8 100.5L530.8 101.7L532.9 103.0L534.4 104.6L535.1 106.6L534.9 108.9M530.3 93.0L533.3 94.0L536.2 95.2L538.9 96.8L541.0 98.8L542.4 101.1M535.3 111.9L534.7 114.0L534.0 116.0L533.7 117.9L533.9 119.8L534.2 121.7L534.3 123.7L534.0 125.8L532.9 127.8M535.8 117.8L535.2 119.8L534.0 121.8L532.6 123.7L531.2 125.5L530.0 127.3L529.0 129.2L528.1 131.1L527.1 133.0L525.7 134.9L524.0 136.7M538.4 120.5L537.9 122.6L537.0 124.6L535.7 126.6L534.1 128.6L532.5 130.4L530.8 132.3L529.1 134.1M531.2 108.1L531.9 109.8L532.2 111.5L532.3 113.3L532.3 115.2L532.2 117.0L532.1 118.8L531.9 120.6L531.7 122.5L531.1 124.3L530.3 126.2M440.2 147.5L440.0 145.0L440.2 142.5L440.7 140.0M457.8 130.2L457.8 127.7L457.6 125.3L457.4 122.8L457.6 120.1M482.5 154.7L478.7 154.6L475.0 154.2L471.5 153.5M467.8 155.3L464.9 153.5L462.5 151.5L460.3 149.2M451.3 134.7L451.2 131.6L451.7 128.4L452.9 125.2L454.9 122.1M481.3 158.9L477.3 158.8L473.0 158.8L468.5 158.8M532.9 138.4L530.4 141.1L527.6 143.7L524.6 146.1L521.2 148.3M476.3 155.0L473.7 154.1L471.3 152.9L469.2 151.6M456.5 132.9L456.2 130.7L456.2 128.3L456.3 126.0L456.4 123.6M519.5 154.7L516.4 156.8L513.0 158.8L509.5 160.6M456.9 129.8L457.8 127.5L458.8 125.2L460.0 122.9L461.2 120.7L462.6 118.6M546.5 138.2L545.4 140.5L544.0 142.8L542.5 145.1M457.4 133.2L456.7 131.1L455.9 128.9L455.1 126.7M468.0 159.6L465.5 157.8L463.3 155.9L461.4 153.8M507.9 154.8L503.8 157.0L499.5 158.7L495.0 160.1M529.5 143.5L526.1 145.3L522.4 146.5L518.8 147.4L515.4 148.4L512.2 149.7M460.1 158.1L458.9 155.8L457.8 153.6L456.8 151.4M479.6 157.5L475.9 157.0L472.2 156.5L468.4 155.9M454.7 142.2L454.3 139.4L454.3 136.6L454.4 133.8L454.6 131.1M536.4 133.9L534.7 136.2L532.7 138.4L530.6 140.5L528.2 142.5L525.7 144.3M466.5 159.8L463.1 159.0L459.7 157.9L456.4 156.7L453.3 155.2M491.1 157.8L487.4 158.3L483.6 158.5L479.8 158.5M492.1 154.1L489.0 154.3L486.0 154.4L483.0 154.2L479.9 154.1L476.8 153.9M544.6 124.9L542.8 127.2L540.7 129.4L538.5 131.4M541.7 125.2L540.9 128.3L539.8 131.5L538.3 134.7M536.2 101.0L538.1 100.0L540.0 98.8L541.8 97.6L546.4 94.0L548.0 92.5L549.6 91.0L551.3 89.5L553.0 88.1L554.8 86.8L556.6 85.6L558.5 84.4L560.4 83.2L564.8 79.5L566.4 77.9L568.0 76.4M541.1 97.4L545.4 93.7L546.8 91.9L548.4 90.2L550.0 88.7L551.8 87.3L553.7 86.0L555.6 84.8L557.6 83.6L559.4 82.3L563.5 78.5L564.8 76.7L566.0 74.8L567.1 72.8L568.2 70.7L569.3 68.7L570.4 66.8L571.8 64.9M547.2 91.8L549.3 90.6L551.5 89.5L553.6 88.4L555.5 87.1L557.1 85.3L558.5 83.3L559.8 81.3L563.3 77.1L564.8 75.3L566.7 73.8L568.7 72.5L570.6 71.0L572.2 69.3L573.4 67.3L574.4 65.1L575.4 62.9M533.6 95.6L535.3 94.1L537.0 92.6L540.8 89.9L542.5 88.4L544.3 87.0L546.1 85.7L547.8 84.2L549.5 82.7L551.1 81.1L552.5 79.3L553.9 77.5L555.4 75.7L558.1 72.4L559.4 70.6L560.9 68.9L562.5 67.3L564.0 65.6M539.4 93.5L543.4 90.6L545.2 89.3L547.1 88.1L549.1 87.0L550.9 85.7L552.5 84.2L554.0 82.6L555.4 80.8L556.8 79.1L560.1 75.6L561.5 73.9L563.1 72.3L564.9 70.9L566.6 69.4L568.1 67.8L569.5 66.1L570.7 64.2L571.8 62.3L572.9 60.3L574.1 58.5M541.5 89.3L543.2 87.8L545.1 86.5L547.2 85.4L549.3 84.3L551.2 83.0L552.9 81.4L554.3 79.6L555.6 77.6L558.4 74.0L559.6 72.0L561.0 70.3L562.7 68.7L564.6 67.3L566.5 65.9L568.1 64.3L569.5 62.4M550.0 86.1L551.8 84.7L553.5 83.3L555.1 81.8L556.7 80.3L558.3 78.6L561.4 74.9L562.6 73.0L563.8 71.1L565.0 69.2L566.3 67.4L567.6 65.6L569.0 63.9L570.5 62.2" stroke="#66741f" stroke-width="0.85" fill="none" stroke-linecap="round" stroke-linejoin="round" opacity="0.8"/>
<path d="M471.5 110.0L473.3 108.2L475.3 106.5L477.4 105.0L479.6 103.5L482.0 102.2L484.3 100.9L486.7 99.7L489.2 98.5L491.7 97.4M528.8 113.3L528.9 114.8L529.1 116.4L529.2 117.9L529.1 119.5L528.9 121.1L528.4 122.7L527.6 124.3L526.6 125.9L525.3 127.4M489.5 144.9L487.1 145.1L484.9 144.9L482.9 144.4L481.0 143.6L479.3 142.7M471.8 139.4L471.4 137.5L471.0 135.8L470.2 134.3L468.9 132.9L467.5 131.5L466.5 129.9L466.4 128.0L467.2 126.0L468.4 124.0M489.2 148.4L486.5 148.2L483.8 147.8L481.4 147.2M478.1 108.4L480.0 106.9L481.8 105.4L483.7 103.8L485.6 102.2L487.7 100.5L489.9 99.0L492.4 97.6M525.0 136.2L522.9 137.7L520.9 139.3L518.9 140.9L516.7 142.4L514.2 143.6L511.6 144.5M468.6 126.8L468.3 125.1L468.0 123.3L467.9 121.5L468.1 119.5L468.6 117.6L469.7 115.7L471.1 113.8L472.9 112.1L474.9 110.5M471.4 119.4L472.0 117.7L472.8 115.9L473.9 114.2L475.2 112.6L476.8 111.1L478.6 109.6M456.3 143.0L454.6 140.6L453.4 137.9L452.6 135.1M532.3 112.3L532.2 114.1L531.7 115.9L530.9 117.7L530.0 119.5L528.9 121.2L527.8 122.8L526.7 124.4L525.6 125.9L524.6 127.5M497.3 148.5L494.2 148.8L491.2 148.8L488.2 148.7L485.3 148.5M512.1 98.7L514.6 98.4L517.1 98.4L519.3 98.7L521.4 99.4M463.9 120.6L464.5 118.4L465.3 116.2L466.3 114.0L467.6 111.8L469.0 109.6L470.8 107.5L472.7 105.4L474.9 103.5M531.6 114.3L531.8 116.1L531.8 117.9L531.7 119.7L531.4 121.6L530.8 123.4L530.0 125.3L528.9 127.2L527.5 128.9L525.9 130.6M530.2 103.2L531.4 104.8L532.4 106.5L533.2 108.3L533.6 110.2L533.8 112.2L533.7 114.2L533.2 116.2M522.6 133.8L520.9 135.7L519.0 137.4L516.9 139.1M516.0 100.7L518.0 101.6L519.9 102.5L521.9 103.4M467.3 126.0L467.8 124.0L468.9 122.0L470.5 120.1L472.4 118.3M489.9 102.1L492.2 101.3L494.6 100.8L496.9 100.5L499.2 100.4L501.5 100.4L503.6 100.6L505.6 100.8M473.2 115.2L474.8 113.6L476.4 112.1L478.0 110.6L479.7 109.2L481.5 107.8M527.7 131.2L525.9 132.8L524.1 134.4L522.4 136.1L520.8 137.9L519.1 139.7L517.1 141.3L514.8 142.7L512.2 143.8M522.3 133.7L520.9 135.3L519.3 136.9L517.6 138.4L515.8 139.9L513.9 141.5L511.9 143.0M471.0 137.4L470.2 135.6L470.2 133.6L470.7 131.4L471.5 129.3M470.2 134.2L469.8 132.4L469.7 130.6L469.9 128.8L470.4 126.9M532.8 112.8L532.7 114.7L532.4 116.6L532.0 118.5L531.7 120.4L531.4 122.3L531.1 124.2M494.6 149.0L491.5 149.1L488.4 148.9L485.6 148.4M494.9 146.4L492.6 146.5L490.2 146.8L487.6 147.2L485.0 147.5L482.5 147.6L480.2 147.2L478.2 146.3L476.5 145.3M495.3 101.2L497.4 99.8L499.8 98.4L502.3 97.1M476.8 140.2L475.2 139.3L473.6 138.3L472.2 137.2L470.8 136.0L469.4 134.7M528.6 132.8L526.6 134.6L524.5 136.2L522.2 137.7L519.7 139.1L517.2 140.2L514.6 141.2L512.0 142.0L509.5 142.6M495.0 147.5L492.2 148.3L489.2 149.0L486.3 149.4L483.4 149.3L480.9 148.8L478.5 147.9L476.2 147.1M496.6 146.3L493.8 146.7L491.2 146.6L488.8 146.0L486.5 145.4M532.6 128.5L531.5 130.5L530.3 132.5L529.0 134.5L527.5 136.6M533.8 119.3L533.1 121.2L532.0 123.1L530.9 124.9L530.2 126.8L529.8 128.7L529.5 130.8M495.3 100.9L497.9 100.7L500.5 100.6L502.9 100.3L505.0 99.3M599.2 17.9L600.8 16.2L602.2 14.3L603.4 12.3L604.4 10.2L605.4 8.0L606.2 5.8L607.1 3.5L608.0 1.3L609.1 -0.8L610.3 -2.7L610.3 -2.7L610.4 -2.6M531.5 86.8L533.3 85.3L535.7 83.2L537.2 81.4L538.8 79.7L540.4 78.1L542.2 76.6L544.1 75.2M530.6 82.8L532.3 81.0L534.2 79.4L536.4 78.4L538.6 77.3L540.3 75.7L541.6 73.6M585.6 24.0L586.8 21.8L588.3 19.6L589.8 17.6L591.3 15.6L592.9 13.6L594.3 11.5M487.1 105.9L489.1 104.9L491.0 103.7L492.8 102.6L494.6 101.3L496.3 99.8L497.9 98.1L499.5 96.4L501.2 94.9L502.9 93.6M576.9 25.1L578.2 23.4L579.5 21.6L580.8 19.8L582.1 17.9L583.1 16.2L584.3 14.3L585.5 12.5L586.7 10.6L588.0 8.8L589.4 7.1L590.8 5.4L592.2 3.7L593.7 2.1L595.2 0.5M495.8 101.8L498.2 100.9L500.4 99.9L502.6 98.7L504.6 97.3L506.6 95.9L508.6 94.4L510.6 92.9L512.7 91.5M530.2 86.5L532.0 84.6L534.4 82.6L536.2 80.9L538.3 79.5L540.5 78.2L542.7 76.9M551.8 67.3L553.4 65.7L555.1 64.1L556.7 62.4L558.1 60.6L559.2 58.6L560.3 56.5L561.3 54.4L562.6 52.5L564.0 50.7L565.7 49.1L567.4 47.5L568.9 45.9L570.2 44.0L571.4 42.0L572.4 39.9M492.1 100.2L494.4 99.5L496.8 98.7L499.0 97.8L501.3 96.9L503.4 95.8L505.6 94.7L507.6 93.5M583.1 16.9L584.4 15.1L585.9 13.4L587.5 11.8L589.2 10.3L590.6 8.6L591.9 6.7L593.1 4.8L594.3 2.8L595.6 1.1L597.2 -0.6L598.9 -2.1L600.5 -3.7M593.4 20.4L595.1 18.9L596.3 17.0L597.2 14.9L598.2 12.9L599.7 11.2L601.8 10.0L603.9 8.8M516.8 99.5L519.1 98.2L521.3 96.8L523.4 95.2L525.5 93.6M493.6 100.2L495.5 98.7L497.6 97.9L500.1 97.5L502.5 97.1L504.6 96.1L506.4 94.5M583.1 36.2L584.6 34.5L586.0 32.7L587.5 31.0L589.0 29.3L590.6 27.7L592.3 26.1L594.2 24.3L596.0 22.8L597.7 21.2M585.6 24.9L587.1 22.9L589.1 21.1L591.3 19.6L593.7 18.2L595.9 16.7L597.7 14.9M517.6 88.0L519.1 85.8L521.0 84.3L523.4 83.7L525.9 83.0L527.9 81.7L529.4 79.5L530.3 77.5L531.8 75.5M540.5 71.8L542.8 70.5L544.8 69.2L546.7 67.6L548.6 65.9L550.3 64.1L552.1 62.4L554.1 60.9M543.8 87.3L545.3 85.6L547.1 84.1L549.1 82.9L551.3 81.9L553.4 80.8L555.2 79.4L556.8 77.7M576.2 27.9L577.9 26.3L579.7 24.8L581.4 23.3L582.9 21.7L584.3 19.9L585.6 18.1L587.0 16.3L588.6 14.7L590.3 13.2L592.0 11.6L593.5 9.9M478.4 116.2L480.0 114.6L481.6 113.0L483.1 111.4L484.7 109.7L486.3 108.2L487.9 106.6L489.5 105.1L491.2 103.7L493.0 102.4M601.0 12.9L602.1 10.9L603.2 8.9L604.5 7.1L605.9 5.3L607.4 3.7L609.0 2.1L610.5 0.4L612.0 -1.3L612.0 -1.4L611.8 -1.5L611.5 -1.8L611.3 -1.9L611.1 -2.1M578.3 30.3L580.0 28.6L582.2 27.3L584.2 25.9L585.7 24.0L586.6 21.7L587.4 19.3L588.8 17.3L590.7 15.8L592.9 14.5L594.5 12.7L595.5 10.5L596.2 8.0M522.0 86.7L523.9 85.3L525.8 84.1L527.9 83.0L530.1 82.2L532.4 81.5L534.9 80.4L537.1 79.5M487.6 107.0L489.5 105.5L491.4 103.8L493.3 102.3L495.3 100.7L497.1 99.0M493.9 98.7L496.2 97.0L499.0 96.0L502.2 95.8M594.5 15.4L595.8 13.5L597.2 11.5L598.6 9.7L600.2 8.0L602.0 6.4L603.8 4.8L605.5 3.2L607.1 1.4L608.5 -0.4L609.9 -2.4L610.1 -2.9M573.0 39.9L574.0 37.7L574.8 35.3L576.0 33.3L577.9 31.8L580.2 30.7L582.4 29.5L584.0 27.8L585.0 25.6L585.8 23.2M546.8 65.1L548.7 64.0L550.3 62.2L551.3 60.0L552.1 57.6L553.0 55.4L554.4 53.5L556.4 52.1L558.6 50.9L560.6 49.5L562.1 47.7L563.1 45.5L563.9 43.1M523.8 84.6L525.8 83.5L527.9 82.5L530.0 81.5L532.0 80.4L533.9 78.9L535.6 77.3L537.2 75.7M549.6 85.6L552.0 84.0L554.4 82.2L556.7 80.4M526.8 88.3L528.8 87.1L530.8 86.1L533.1 85.4L536.1 84.1L538.2 83.0L540.0 81.6L541.6 80.0L543.0 78.2M536.1 77.1L537.5 75.3L538.8 73.4L540.1 71.6L541.6 70.0L543.4 68.6L545.3 67.4M486.0 108.6L487.4 106.7L488.9 104.8L490.4 103.0L492.1 101.2L493.9 99.8M498.2 98.4L500.2 97.1L502.3 95.9L504.4 94.9L506.7 94.0L509.0 93.1L511.2 92.2L513.3 91.1L515.3 89.8M542.1 76.6L544.0 74.4L545.4 71.8L547.0 69.4M497.4 98.5L499.4 96.0L501.5 93.9L503.9 92.1M514.0 88.3L515.9 87.2L517.7 85.9L519.5 84.6L521.2 83.1L522.9 81.5M597.7 9.5L598.6 7.3L599.4 5.0L600.3 2.8L601.7 0.9L603.5 -0.6L605.5 -2.0L607.3 -3.5L608.1 -4.4L607.7 -4.7L607.1 -5.2L606.5 -5.6L606.4 -5.7L606.6 -5.5L607.2 -5.1M567.6 56.8L569.3 55.3L570.9 53.7L572.4 52.0L573.8 50.4L575.1 48.6L576.5 46.8L577.7 44.9L579.0 43.0L580.3 41.2L581.6 39.4L583.1 37.7L584.6 36.1L586.2 34.5L587.9 32.9M526.7 88.1L528.5 86.5L530.5 85.2L532.7 84.2L535.6 82.9L537.8 81.8L540.1 80.8M520.3 89.0L522.4 88.0L524.2 86.5L525.8 84.8L527.4 83.0L529.2 81.6L531.2 80.7M569.1 50.7L571.0 49.4L572.7 48.0L574.1 46.2L575.0 44.2L576.0 42.1L577.3 40.3L579.1 38.8L581.0 37.6L582.9 36.2L584.4 34.6L585.5 32.6M552.5 75.2L554.1 73.4L556.8 70.6L558.6 69.0L560.6 67.6L562.6 66.2L564.4 64.6L566.0 62.8L567.2 60.8L568.3 58.6M595.6 14.8L596.8 12.8L598.2 11.0L599.7 9.4L601.5 7.8L603.3 6.3L605.1 4.9L606.8 3.3L608.3 1.6L609.6 -0.3L610.8 -2.2L610.5 -2.5L610.1 -2.8L609.9 -3.0M549.1 74.3L551.0 73.0L553.8 70.7L555.5 69.0L557.0 67.2L558.5 65.3L559.8 63.4L561.1 61.3L562.3 59.3L563.5 57.2L564.7 55.1L566.0 53.0L567.3 51.1M478.5 109.8L480.5 108.4L482.5 107.1L484.5 105.9L486.5 104.5L488.4 103.0L490.2 101.4L492.3 99.7L494.1 98.1M563.4 68.0L564.5 66.0L565.5 63.9L566.5 61.9L567.6 59.9L568.8 58.0L570.1 56.2L571.5 54.5L573.0 52.8L574.4 51.2L575.8 49.5L577.1 47.7M495.0 101.5L497.0 100.0L498.8 98.1L500.5 96.1L502.3 94.2L504.3 92.7L506.5 91.6L508.9 90.9M541.6 69.7L543.3 68.1L545.1 66.6L546.9 65.1L548.3 63.6L549.7 61.8L551.2 59.9L552.5 58.0L553.7 56.1L554.9 54.0L556.1 52.0L557.2 49.9M577.7 35.8L579.5 34.5L581.0 32.8L582.1 30.9L583.2 28.9L584.7 27.3L586.6 25.9L588.5 24.7L590.3 23.0L591.5 21.1L592.5 19.1L593.7 17.2L595.3 15.7L597.2 14.3L599.0 12.9L600.4 11.2M473.0 113.8L475.0 112.7L477.1 111.8L479.0 110.8L480.6 109.2L481.9 107.1L483.0 105.0L484.4 103.1L486.1 101.7L488.2 100.8M510.1 94.7L512.1 93.5L514.3 92.7L516.6 91.9L518.7 90.9M596.4 13.0L597.5 10.7L599.1 8.8L601.0 7.1L602.7 5.2L603.8 2.8L604.6 0.3M494.4 105.6L496.3 104.3L498.1 102.8L500.1 101.7L502.5 101.2L505.0 101.0L507.4 100.5L509.4 99.6L511.3 98.1M562.9 42.6L564.5 40.7L565.9 38.8L567.2 36.8L568.5 34.7L569.9 32.7L571.3 30.7L572.8 28.9L574.4 27.1L576.1 25.4M486.3 105.1L487.9 103.1L489.7 101.5L492.2 100.4L494.7 100.1L497.3 99.7L499.7 99.0L501.7 97.7M501.0 96.0L503.1 95.0L505.1 93.8L507.0 92.3L508.8 90.8M518.1 96.5L520.1 95.3L522.1 94.0L523.8 92.4L525.3 90.5L527.0 88.7L528.8 87.2M507.4 98.3L509.5 96.9L511.7 95.7L514.0 94.6L516.3 93.6L518.6 92.7M582.1 34.2L583.9 32.7L585.6 31.1L587.2 29.5L588.7 27.8L590.1 26.0L591.6 23.9L592.9 22.0L594.1 20.1M563.3 58.7L564.7 56.7L566.4 54.9L568.4 53.4L570.5 52.0L572.7 50.6L574.7 49.2L576.5 47.5M506.7 98.9L508.8 97.8L510.9 96.8L513.1 95.8L515.3 94.8L517.5 93.9L519.7 93.0L521.9 92.1M565.8 61.3L567.0 59.3L568.6 57.7L570.4 56.3L572.3 54.9L573.9 53.2L575.0 51.4L576.0 49.2L577.0 47.1L578.3 45.2L579.9 43.6L581.7 42.1L583.6 40.7M580.9 27.2L581.9 24.9L583.2 22.8L585.0 21.2L587.2 19.9L589.5 18.6L591.5 17.1L592.9 15.1L593.9 12.8L594.9 10.6M560.0 72.3L561.2 70.5L562.7 68.8L564.5 67.4L566.3 66.0L568.0 64.6L569.5 62.8L570.7 61.0L571.9 59.1L573.4 57.4L575.1 56.0L576.9 54.6L578.6 53.3L580.1 51.6L581.3 49.8L582.6 47.9M568.3 50.7L569.9 49.1L571.3 47.4L572.6 45.6L573.8 43.7L575.0 41.8L576.3 40.0L577.8 38.3L579.4 36.7L581.2 35.2L582.9 33.8L584.6 32.3L586.1 30.7L587.5 28.9L588.7 27.0L589.9 25.1L591.3 23.0M539.8 118.1L539.3 120.4L538.9 122.8L538.4 125.3L537.6 127.7L536.4 130.2M524.7 96.8L526.6 97.9L528.1 99.4L529.4 101.0L530.5 102.7L531.8 104.2L533.3 105.5L535.0 106.9L536.7 108.4L538.1 110.0L539.0 111.9M531.8 112.4L531.8 114.1L532.0 115.8L532.3 117.5L532.7 119.2L533.0 121.0L532.9 122.9L532.2 124.8L531.1 126.7M527.4 96.0L529.4 97.5L530.5 99.6L531.0 102.0L531.4 104.2L532.2 106.0M534.4 113.8L533.9 115.8L533.3 117.8L532.8 119.7L532.2 121.6L531.6 123.5L530.9 125.5L530.0 127.4M528.2 91.5L530.0 93.3L531.5 95.2L532.7 97.3L533.7 99.3L534.5 101.4M528.6 103.9L529.3 105.6L529.6 107.5L529.6 109.4L529.4 111.2L529.3 113.0M533.8 106.0L534.7 107.8L535.7 109.5L536.6 111.2L537.3 113.1L537.5 115.1L537.1 117.2L536.3 119.4L535.3 121.4L534.2 123.5M513.7 94.3L516.4 94.2L519.2 94.4L521.9 94.7L524.5 95.2L526.9 95.9L529.2 96.8L531.4 97.9L533.4 99.2M535.4 122.4L535.5 124.4L535.2 126.4L534.3 128.4L533.0 130.4L531.4 132.3L529.7 134.1L528.1 136.0L526.6 138.0L525.1 140.0M516.1 96.9L518.2 97.7L520.1 98.6L521.9 99.6L523.5 100.6L525.1 101.7L526.6 102.9L527.9 104.2L529.0 105.6L529.9 107.0M531.2 99.5L533.0 100.9L534.5 102.6L535.6 104.4L536.5 106.4L537.0 108.4L537.4 110.5L537.5 112.6L537.5 114.8L537.3 116.9M536.1 115.9L536.2 117.8L536.0 119.7L535.7 121.6L535.4 123.6L535.0 125.6L534.5 127.7M534.5 108.7L535.5 110.4L536.4 112.2L537.2 114.0L537.9 116.0L538.4 118.1M538.2 101.6L539.4 103.6L540.5 105.7L541.5 107.8L542.3 110.0L542.9 112.3L543.3 114.6L543.4 117.1L543.2 119.6M526.7 98.3L528.1 99.8L529.2 101.4L530.3 102.9L531.6 104.3L533.1 105.6L534.7 106.9L536.1 108.3M532.9 102.2L534.8 103.6L536.4 105.2L537.6 107.0L538.5 109.0L539.0 111.1M528.0 101.3L530.2 102.4L532.2 103.7L533.7 105.2L534.8 107.0L535.4 109.0M450.9 137.9L449.6 135.4L448.4 132.7L447.5 129.8M536.7 146.3L534.5 148.4L532.2 150.4L529.7 152.4M468.8 153.1L465.2 152.2L462.2 150.6L459.8 148.5M545.5 136.4L542.7 139.5L539.5 142.4L536.2 145.2L532.8 148.0M509.0 150.5L505.8 151.1L502.6 151.6L499.5 152.3L496.3 153.1L493.0 153.8M457.2 133.8L456.4 131.7L455.3 129.6L454.5 127.4L454.3 125.0M455.0 134.6L454.5 132.3L454.0 130.0L453.7 127.6M486.5 161.8L482.8 161.5L479.3 160.7L476.1 159.8L472.8 158.9L469.5 158.1M525.2 147.1L523.5 148.2L521.8 149.3L520.0 150.3" stroke="#969a26" stroke-width="0.9" fill="none" stroke-linecap="round" stroke-linejoin="round" opacity="0.9"/>
<path d="M485.7 145.9L483.6 145.5L481.6 145.1L479.7 144.4L478.0 143.7M532.8 139.3L530.4 141.6L527.7 143.9L525.0 146.1L522.1 148.3L519.1 150.4L515.8 152.5M474.0 143.9L472.0 143.0L470.1 141.9L468.2 140.7M470.9 135.7L469.1 134.2L467.9 132.5L467.4 130.4M498.8 149.9L495.9 150.8L493.0 151.3L490.1 151.4L487.4 151.1L484.8 150.5L482.5 149.7L480.3 148.8L478.1 147.9L475.8 147.2M532.8 114.3L532.3 116.2L531.8 118.0L531.3 119.8L530.7 121.6L529.9 123.4L528.9 125.1L527.5 126.8M513.6 143.5L510.9 144.2L508.2 144.7L505.5 145.0M468.0 139.5L466.7 138.1L465.7 136.5L465.1 134.8L464.9 133.0L465.0 131.2L465.3 129.3L465.5 127.5M475.4 145.3L472.6 144.6L470.2 143.5L468.2 142.1M528.8 132.7L527.8 134.7L526.4 136.6L524.5 138.4L522.2 139.8L519.8 141.0L517.3 142.2L514.9 143.3M530.5 116.1L531.1 117.8L531.4 119.7L531.2 121.6L530.4 123.6M500.5 145.5L497.6 145.3L494.9 145.0L492.3 144.8M530.5 118.8L529.9 120.5L529.4 122.2L529.2 123.9L529.0 125.7L528.6 127.5L527.8 129.3L526.5 131.0M528.9 134.6L527.3 136.8L525.6 139.0L523.7 141.2L521.6 143.4M522.2 133.2L520.4 134.6L518.3 135.8L515.9 136.7L513.6 137.4L511.4 138.1M521.5 133.6L519.7 135.1L517.8 136.5L515.7 137.7L513.6 138.8M496.7 145.1L494.4 145.3L492.1 145.2L490.0 145.0M467.8 129.0L467.4 127.1L466.6 125.1L465.6 123.0M510.4 147.2L507.4 147.5L504.5 147.5L501.7 147.3M471.7 141.5L470.3 140.2L469.4 138.6L468.7 136.8L468.2 135.1L467.4 133.5L466.5 132.0L465.4 130.4L464.3 128.6L463.6 126.8M531.3 131.0L529.2 132.9L527.0 134.7L524.8 136.3M530.6 124.7L529.6 126.6L528.6 128.5L527.3 130.4L525.6 132.2L523.4 133.6L520.9 134.9L518.5 135.9M471.5 116.7L472.8 114.9L474.4 113.2L475.9 111.5L477.3 109.8L478.7 107.9L480.1 105.9L481.8 104.0M514.7 144.5L511.7 145.1L508.8 145.7L506.1 146.3L503.4 147.1L500.7 148.1L497.9 149.1L495.0 149.9L492.1 150.3M490.6 104.4L493.2 104.1L495.8 103.7L498.2 102.8L500.3 101.5L502.4 100.1M546.0 64.8L546.5 62.6L547.4 60.3L548.6 58.3L550.3 56.6L552.1 55.1L554.0 53.6L555.7 51.9L556.9 49.9M546.1 89.6L547.7 88.0L549.2 86.4L550.6 84.7L552.1 83.0L553.7 81.5L555.4 80.1L557.3 78.8L560.9 75.6L562.5 74.0M565.4 60.3L566.7 58.0L567.9 55.8L569.2 53.6L570.5 51.4L571.9 49.2L573.4 47.2M550.6 75.9L552.4 74.4L555.2 71.8L556.6 70.0L558.0 68.0L559.2 66.1L560.4 64.0L561.6 62.0L562.7 60.0M535.1 88.1L538.5 85.5L540.8 84.0L543.5 82.9L546.2 81.9M516.0 86.3L517.6 84.2L519.5 82.6L521.7 81.6L524.1 80.8L526.2 79.5L527.9 77.6L528.7 76.0M535.7 81.3L537.5 79.9L539.4 78.6L541.4 77.4L543.6 76.4M533.9 88.3L535.6 86.5L538.3 84.1L540.3 82.7L542.3 81.3L544.0 79.7L545.5 77.8L546.7 75.6L548.1 73.6M515.8 91.6L517.8 90.4L519.9 89.3L521.9 88.2L524.1 87.3L526.3 86.5L528.6 85.8L530.9 85.1L533.1 84.3M545.7 83.3L547.5 80.9L548.8 78.0L550.2 75.2M572.7 31.6L573.7 29.4L575.1 27.4L577.0 25.8L579.0 24.4L580.9 22.8L582.3 20.8L583.3 18.6L584.3 16.4L585.8 14.5L587.7 13.0M485.0 105.1L487.2 103.4L489.4 102.0L492.0 100.6M487.6 103.9L489.2 102.0L491.1 99.8L493.3 98.7L495.9 98.6L498.8 98.7L501.4 98.3M520.7 95.5L522.6 94.4L524.6 93.4L526.7 92.6L528.9 91.9M537.6 74.4L539.0 72.6L540.6 71.0L542.2 69.4L543.9 67.9L545.6 66.4M486.3 106.3L488.3 105.0L490.2 103.6L492.3 102.2L494.4 101.1L496.6 100.1L498.8 99.1L501.1 98.3L503.4 97.5M498.7 98.6L500.9 97.7L503.2 96.9L505.5 96.1L507.8 95.3L510.1 94.5L512.4 93.7L514.7 92.7M537.2 91.0L540.8 88.5L542.6 87.2L544.5 86.0L546.2 84.6L547.8 83.0L549.2 81.3L550.7 79.6L552.3 78.1L554.1 76.7M506.7 96.9L509.1 95.5L511.5 94.0L513.8 92.3M481.2 106.8L483.6 106.3L486.0 105.8L488.0 104.8L489.5 103.2L491.1 101.1L492.9 99.7L495.1 99.1L497.5 99.0L499.9 98.7M500.9 95.7L502.8 94.2L504.6 92.6L506.5 91.0L508.4 89.5L510.3 88.3L512.3 86.9L514.3 85.7L516.3 84.3M496.4 99.5L498.5 98.4L500.7 97.4L502.9 96.5L505.1 95.7L507.3 94.7L509.4 93.7L511.5 92.5L513.5 91.2M507.1 94.8L509.0 93.4L510.9 92.0L512.8 90.7L514.8 89.5L517.0 88.5L519.2 87.6L521.4 86.7L523.5 85.8M551.7 84.6L553.2 82.7L555.0 81.2L557.0 79.9L558.9 78.5L562.1 74.5L563.1 72.3L564.3 70.2L565.8 68.4M567.6 48.4L569.0 46.7L570.4 45.0L571.8 43.3L573.1 41.5L574.4 39.7L575.7 37.9L576.9 36.1L578.2 34.2L579.5 32.4L580.8 30.7M512.9 92.3L514.8 90.7L517.0 89.5L519.3 88.6L521.8 88.0L524.3 87.3L526.6 86.3L528.6 85.0L530.5 83.3M520.1 94.7L522.6 95.3L524.9 96.0L527.1 97.0L529.1 98.1L531.0 99.3L532.8 100.6L534.6 102.0M533.8 122.8L532.2 125.0L530.6 127.1L529.2 129.1L527.7 131.2" stroke="#d6d02c" stroke-width="1.05" fill="none" stroke-linecap="round" stroke-linejoin="round"/>
<path d="M498.4 144.5L496.2 145.1L494.1 145.3L492.0 145.2L490.2 144.5L488.6 143.5M529.8 128.0L528.3 129.5L526.7 130.9L525.1 132.3M527.4 131.9L525.6 133.6L523.8 135.2L521.9 136.8L520.0 138.3M512.1 144.7L509.7 146.0L507.2 147.1L504.7 148.0L502.0 148.5L499.4 148.8M529.6 122.2L529.7 124.0L529.6 126.0L529.3 128.0L528.5 130.0M502.7 145.6L500.1 145.9L497.6 146.2L495.1 146.5L492.5 146.9M528.7 130.2L527.6 132.1L526.5 133.9L525.1 135.7L523.4 137.5L521.4 139.0M509.2 143.5L506.5 144.8L503.6 145.9L500.7 146.7L497.7 147.2M528.7 124.5L528.0 126.5L527.1 128.5L526.0 130.6M489.0 146.6L486.7 146.2L484.7 145.6L482.9 144.6L481.4 143.4M510.0 142.7L507.7 144.0L505.3 145.3L502.7 146.3L500.0 146.8L497.4 146.9M514.0 141.7L511.1 142.5L508.3 143.0L505.5 143.3M526.9 132.6L524.7 134.3L522.8 136.1L521.1 138.0L519.3 140.0M491.0 147.3L488.6 146.8L486.4 146.1L484.4 145.2L482.7 144.1L481.2 142.8M500.3 146.7L497.4 147.4L494.6 147.5L492.0 146.9M523.6 132.0L522.7 133.8L521.8 135.6L520.6 137.5M525.3 94.2L526.9 93.8L528.4 93.3L530.0 92.9M547.5 67.2L548.6 65.1L549.8 63.1L551.2 61.4M532.7 84.1L533.5 82.5L534.3 80.5L534.8 78.9M543.0 75.6L545.0 74.8L546.8 73.7L548.4 72.5M543.7 74.8L544.0 73.0L544.3 71.3L544.7 69.5M531.5 90.5L532.6 87.9L534.0 85.6L536.4 83.4M529.0 82.1L530.5 80.9L531.9 79.6L533.0 77.9" stroke="#e8e02a" stroke-width="1.9" fill="none" stroke-linecap="round" stroke-linejoin="round" opacity="0.9"/>
</g>
<rect x="586.6" y="34" width="96.4" height="100.6" fill="#15260a"/>
<g clip-path="url(#cCi)" filter="url(#b3)">
<path d="M590 120C591.7 117.2 596.5 108.5 600 103C603.5 97.5 607.3 91.8 611 87C614.7 82.2 618.5 77.8 622 74C625.5 70.2 628.8 67.3 632 64C635.2 60.7 638.0 57.0 641 54C644.0 51.0 646.2 49.0 650 46C653.8 43.0 661.7 37.7 664 36M653 63C654.2 62.0 657.7 58.8 660 57C662.3 55.2 664.5 53.8 667 52C669.5 50.2 672.2 48.0 675 46C677.8 44.0 682.5 41.0 684 40M650 130C651.0 128.3 654.0 123.2 656 120C658.0 116.8 660.2 114.2 662 111C663.8 107.8 666.2 102.7 667 101M611 118C612.8 116.8 618.5 113.2 622 111C625.5 108.8 628.8 107.5 632 105C635.2 102.5 638.3 98.8 641 96C643.7 93.2 646.3 90.7 648 88C649.7 85.3 649.3 82.3 651 80C652.7 77.7 655.3 75.7 658 74C660.7 72.3 664.0 71.5 667 70C670.0 68.5 673.2 66.7 676 65C678.8 63.3 682.7 60.8 684 60M651 88C652.3 87.2 656.3 84.3 659 83C661.7 81.7 664.5 81.3 667 80C669.5 78.7 671.8 77.0 674 75C676.2 73.0 678.2 70.2 680 68C681.8 65.8 684.2 63.0 685 62M592 128C593.0 126.5 595.7 122.0 598 119C600.3 116.0 604.7 111.5 606 110M636 134C636.8 132.3 639.2 127.0 641 124C642.8 121.0 646.0 117.3 647 116" stroke="#3f7a18" stroke-width="5" fill="none" stroke-linecap="round" stroke-linejoin="round" opacity="0.55" transform="translate(0.9 0.9)"/>
<path d="M590 120C591.7 117.2 596.5 108.5 600 103C603.5 97.5 607.3 91.8 611 87C614.7 82.2 618.5 77.8 622 74C625.5 70.2 628.8 67.3 632 64C635.2 60.7 638.0 57.0 641 54C644.0 51.0 646.2 49.0 650 46C653.8 43.0 661.7 37.7 664 36M653 63C654.2 62.0 657.7 58.8 660 57C662.3 55.2 664.5 53.8 667 52C669.5 50.2 672.2 48.0 675 46C677.8 44.0 682.5 41.0 684 40M650 130C651.0 128.3 654.0 123.2 656 120C658.0 116.8 660.2 114.2 662 111C663.8 107.8 666.2 102.7 667 101M611 118C612.8 116.8 618.5 113.2 622 111C625.5 108.8 628.8 107.5 632 105C635.2 102.5 638.3 98.8 641 96C643.7 93.2 646.3 90.7 648 88C649.7 85.3 649.3 82.3 651 80C652.7 77.7 655.3 75.7 658 74C660.7 72.3 664.0 71.5 667 70C670.0 68.5 673.2 66.7 676 65C678.8 63.3 682.7 60.8 684 60M651 88C652.3 87.2 656.3 84.3 659 83C661.7 81.7 664.5 81.3 667 80C669.5 78.7 671.8 77.0 674 75C676.2 73.0 678.2 70.2 680 68C681.8 65.8 684.2 63.0 685 62M592 128C593.0 126.5 595.7 122.0 598 119C600.3 116.0 604.7 111.5 606 110M636 134C636.8 132.3 639.2 127.0 641 124C642.8 121.0 646.0 117.3 647 116" stroke="#98a226" stroke-width="3" fill="none" stroke-linecap="round" stroke-linejoin="round" opacity="0.95"/>
<path d="M602 128C604.0 125.3 610.2 117.2 614 112C617.8 106.8 622.2 101.3 625 97C627.8 92.7 629.2 89.5 631 86C632.8 82.5 634.5 79.3 636 76C637.5 72.7 639.0 69.0 640 66C641.0 63.0 641.7 59.3 642 58M611 118C612.8 116.8 618.5 113.2 622 111C625.5 108.8 628.8 107.5 632 105C635.2 102.5 638.3 98.8 641 96C643.7 93.2 646.3 90.7 648 88C649.7 85.3 650.5 81.3 651 80M627 81C628.3 80.5 632.3 78.7 635 78C637.7 77.3 640.3 76.8 643 77C645.7 77.2 649.7 78.7 651 79M651 80C652.2 79.0 655.3 75.7 658 74C660.7 72.3 664.0 71.5 667 70C670.0 68.5 674.5 65.8 676 65M651 88C652.3 87.2 656.3 84.3 659 83C661.7 81.7 664.5 81.3 667 80C669.5 78.7 672.8 75.8 674 75M623 136C623.2 134.5 623.5 130.2 624 127C624.5 123.8 625.7 118.7 626 117M590 120C591.7 117.2 596.5 108.5 600 103C603.5 97.5 609.2 89.7 611 87" stroke="#8a3a10" stroke-width="4.4" fill="none" stroke-linecap="round" stroke-linejoin="round" opacity="0.5" transform="translate(-0.9 -0.8)"/>
<path d="M602 128C604.0 125.3 610.2 117.2 614 112C617.8 106.8 622.2 101.3 625 97C627.8 92.7 629.2 89.5 631 86C632.8 82.5 634.5 79.3 636 76C637.5 72.7 639.0 69.0 640 66C641.0 63.0 641.7 59.3 642 58M611 118C612.8 116.8 618.5 113.2 622 111C625.5 108.8 628.8 107.5 632 105C635.2 102.5 638.3 98.8 641 96C643.7 93.2 646.3 90.7 648 88C649.7 85.3 650.5 81.3 651 80M627 81C628.3 80.5 632.3 78.7 635 78C637.7 77.3 640.3 76.8 643 77C645.7 77.2 649.7 78.7 651 79M651 80C652.2 79.0 655.3 75.7 658 74C660.7 72.3 664.0 71.5 667 70C670.0 68.5 674.5 65.8 676 65M651 88C652.3 87.2 656.3 84.3 659 83C661.7 81.7 664.5 81.3 667 80C669.5 78.7 672.8 75.8 674 75M623 136C623.2 134.5 623.5 130.2 624 127C624.5 123.8 625.7 118.7 626 117M590 120C591.7 117.2 596.5 108.5 600 103C603.5 97.5 609.2 89.7 611 87" stroke="#e2d828" stroke-width="3.1" fill="none" stroke-linecap="round" stroke-linejoin="round"/>
<path d="M593 119L603 107M599 124L611 110M608 114L625 104M614 120L628 108" stroke="#f4ea22" stroke-width="4.2" fill="none" stroke-linecap="round" stroke-linejoin="round"/>
<path d="M670 80C670.5 81.0 672.7 83.8 673 86C673.3 88.2 672.8 90.7 672 93C671.2 95.3 669.5 99.2 668 100C666.5 100.8 664.3 99.0 663 98C661.7 97.0 660.5 94.7 660 94" stroke="#f0e424" stroke-width="3.6" fill="none" stroke-linecap="round" stroke-linejoin="round"/>
</g>
<path d="M550.8 28.7L683 34M583.4 28.7L586.6 34M550.8 60.3L586.6 134.6M583.4 60.3L586.6 62" stroke="#F4F400" stroke-width="1.1" fill="none"/>
<rect x="550.8" y="28.7" width="32.6" height="31.6" fill="none" stroke="#F4F400" stroke-width="1.2"/>
<rect x="586.6" y="34" width="96.4" height="100.6" fill="none" stroke="#F4F400" stroke-width="2.2"/>
<text x="457" y="17.5" font-size="16.3" font-weight="bold" text-anchor="start" fill="#fff" >hPF: large networks</text>
<rect x="561.7" y="145" width="57.3" height="3.1" fill="#fff"/>
<text x="590.5" y="165.5" font-size="16.3" font-weight="bold" text-anchor="middle" fill="#fff" >20 &#181;m</text>
<text x="460.2" y="165.1" font-size="27" font-weight="bold" text-anchor="start" fill="#fff" textLength="18.3" lengthAdjust="spacingAndGlyphs">C</text>
<text x="27.1" y="192" font-size="13.5" font-weight="bold" text-anchor="start" fill="#000" textLength="169.2" lengthAdjust="spacingAndGlyphs">Mitochondrial Morphology</text>
<text x="31.3" y="308.7" font-size="12" font-weight="bold" text-anchor="end" fill="#000" >0%</text>
<text x="31.3" y="289.4" font-size="12" font-weight="bold" text-anchor="end" fill="#000" >20%</text>
<text x="31.3" y="270.1" font-size="12" font-weight="bold" text-anchor="end" fill="#000" >40%</text>
<text x="31.3" y="250.9" font-size="12" font-weight="bold" text-anchor="end" fill="#000" >60%</text>
<text x="31.3" y="231.6" font-size="12" font-weight="bold" text-anchor="end" fill="#000" >80%</text>
<text x="31.3" y="212.3" font-size="12" font-weight="bold" text-anchor="end" fill="#000" >100%</text>
<rect x="58.8" y="208" width="22.0" height="52.7" fill="#A5A5A5"/><rect x="58.8" y="260.7" width="22.0" height="5.1" fill="#ED7D31"/><rect x="58.8" y="265.8" width="22.0" height="38.6" fill="#4472C4"/><path d="M58.8 260.7H80.8M58.8 265.8H80.8" stroke="#000" stroke-width="1.4" fill="none"/><path d="M58.8 304.4V208M80.8 304.4V208" stroke="#000" stroke-width="1.9" fill="none"/><path d="M69.8 208V216M66.8 208h6M66.8 216h6" stroke="#000" stroke-width="1.5" fill="none"/><path d="M69.8 260.3V271.3M66.8 260.3h6M66.8 271.3h6" stroke="#000" stroke-width="1.5" fill="none"/><path d="M69.8 257.3V260.7M66.8 257.3h6M66.8 260.7h6" stroke="#000" stroke-width="1.5" fill="none"/>
<rect x="114.2" y="208" width="21.200000000000003" height="79.0" fill="#A5A5A5"/><rect x="114.2" y="287.0" width="21.200000000000003" height="14.5" fill="#ED7D31"/><rect x="114.2" y="301.5" width="21.200000000000003" height="2.9" fill="#4472C4"/><path d="M114.2 287.0H135.4M114.2 301.5H135.4" stroke="#000" stroke-width="1.4" fill="none"/><path d="M114.2 304.4V208M135.4 304.4V208" stroke="#000" stroke-width="1.9" fill="none"/><path d="M124.80000000000001 208V213.5M121.80000000000001 208h6M121.80000000000001 213.5h6" stroke="#000" stroke-width="1.5" fill="none"/><path d="M124.80000000000001 300.0V303.0M121.80000000000001 300.0h6M121.80000000000001 303.0h6" stroke="#000" stroke-width="1.5" fill="none"/><path d="M124.80000000000001 282.0V287.0M121.80000000000001 282.0h6M121.80000000000001 287.0h6" stroke="#000" stroke-width="1.5" fill="none"/>
<rect x="168.9" y="208" width="21.5" height="88.7" fill="#A5A5A5"/><rect x="168.9" y="296.7" width="21.5" height="5.3" fill="#ED7D31"/><rect x="168.9" y="302.0" width="21.5" height="2.4" fill="#4472C4"/><path d="M168.9 296.7H190.4M168.9 302.0H190.4" stroke="#000" stroke-width="1.4" fill="none"/><path d="M168.9 304.4V208M190.4 304.4V208" stroke="#000" stroke-width="1.9" fill="none"/><path d="M179.65 208V210.5M176.65 208h6M176.65 210.5h6" stroke="#000" stroke-width="1.5" fill="none"/><path d="M179.65 300.5V303.5M176.65 300.5h6M176.65 303.5h6" stroke="#000" stroke-width="1.5" fill="none"/><path d="M179.65 292.7V296.7M176.65 292.7h6M176.65 296.7h6" stroke="#000" stroke-width="1.5" fill="none"/>
<path d="M42.5 304.4V208H206.9V304.4" stroke="#000" stroke-width="1.6" fill="none"/>
<path d="M41.7 304.4H207.70000000000002" stroke="#B8B8B8" stroke-width="1.6" fill="none"/>
<text x="69.6" y="323.4" font-size="12" font-weight="bold" text-anchor="middle" fill="#000" >mNSC</text>
<text x="124.8" y="323.4" font-size="12" font-weight="bold" text-anchor="middle" fill="#000" >A549</text>
<text x="179.6" y="323.4" font-size="12" font-weight="bold" text-anchor="middle" fill="#000" >hPF</text>
<rect x="14.5" y="334.3" width="5.8" height="5.8" fill="#4472C4" stroke="#000" stroke-width="1.5"/>
<text x="23.7" y="341.3" font-size="12.1" font-weight="bold" text-anchor="start" fill="#000" >Punctate</text>
<rect x="84.5" y="334.3" width="5.8" height="5.8" fill="#ED7D31" stroke="#000" stroke-width="1.5"/>
<text x="93.3" y="341.3" font-size="12.1" font-weight="bold" text-anchor="start" fill="#000" >Swollen</text>
<rect x="149.89999999999998" y="334.3" width="5.8" height="5.8" fill="#A5A5A5" stroke="#000" stroke-width="1.5"/>
<text x="157.8" y="341.3" font-size="12.1" font-weight="bold" text-anchor="start" fill="#000" >Network</text>
<text x="5.3" y="364.2" font-size="26" font-weight="bold" text-anchor="start" fill="#000" >D</text>
<rect x="216.5" y="205.5" width="238.5" height="53.19999999999999" fill="#ED7D31"/>
<rect x="216.5" y="258.7" width="238.5" height="71.30000000000001" fill="#E7E7E7"/>
<path d="M216.5 205.5V330M286.5 205.5V330M342.7 205.5V330M398.9 205.5V330M455 205.5V330M216.5 205.5H455M216.5 258.7H455M216.5 282.4H455M216.5 306.5H455M216.5 330H455" stroke="#000" stroke-width="1.1" fill="none"/>
<text x="314.6" y="221.7" font-size="12" font-weight="bold" text-anchor="middle" fill="#fff" >mNSC</text>
<text x="314.6" y="236.64999999999998" font-size="12" font-weight="bold" text-anchor="middle" fill="#fff" >vs</text>
<text x="314.6" y="251.6" font-size="12" font-weight="bold" text-anchor="middle" fill="#fff" >A549</text>
<text x="370.8" y="221.7" font-size="12" font-weight="bold" text-anchor="middle" fill="#fff" >mNSC</text>
<text x="370.8" y="236.64999999999998" font-size="12" font-weight="bold" text-anchor="middle" fill="#fff" >vs</text>
<text x="370.8" y="251.6" font-size="12" font-weight="bold" text-anchor="middle" fill="#fff" >hPF</text>
<text x="426.9" y="221.7" font-size="12" font-weight="bold" text-anchor="middle" fill="#fff" >hPF</text>
<text x="426.9" y="236.64999999999998" font-size="12" font-weight="bold" text-anchor="middle" fill="#fff" >vs</text>
<text x="426.9" y="251.6" font-size="12" font-weight="bold" text-anchor="middle" fill="#fff" >A549</text>
<text x="251.5" y="274.9" font-size="12" font-weight="bold" text-anchor="middle" fill="#000" >Punctate</text>
<text x="314.6" y="274.9" font-size="12" font-weight="bold" text-anchor="middle" fill="#FF0000" >0.0001</text>
<text x="370.8" y="274.9" font-size="12" font-weight="bold" text-anchor="middle" fill="#FF0000" >0.0001</text>
<text x="426.9" y="274.9" font-size="12" font-weight="bold" text-anchor="middle" fill="#000" >0.9594</text>
<text x="251.5" y="299.1" font-size="12" font-weight="bold" text-anchor="middle" fill="#000" >Swollen</text>
<text x="314.6" y="299.1" font-size="12" font-weight="bold" text-anchor="middle" fill="#FF0000" >0.0006</text>
<text x="370.8" y="299.1" font-size="12" font-weight="bold" text-anchor="middle" fill="#000" >0.9959</text>
<text x="426.9" y="299.1" font-size="12" font-weight="bold" text-anchor="middle" fill="#FF0000" >0.0030</text>
<text x="251.5" y="322.9" font-size="12" font-weight="bold" text-anchor="middle" fill="#000" >Network</text>
<text x="314.6" y="322.9" font-size="12" font-weight="bold" text-anchor="middle" fill="#FF0000" >0.0001</text>
<text x="370.8" y="322.9" font-size="12" font-weight="bold" text-anchor="middle" fill="#FF0000" >0.0001</text>
<text x="426.9" y="322.9" font-size="12" font-weight="bold" text-anchor="middle" fill="#000" >0.0606</text>
<text x="219.3" y="363.2" font-size="26" font-weight="bold" text-anchor="start" fill="#000" >E</text>
<text x="479.8" y="195.7" font-size="13.7" font-weight="bold" text-anchor="start" fill="#000" textLength="198.5" lengthAdjust="spacingAndGlyphs">Mitochondrial Motion Analysis</text>
<text x="505.2" y="211.5" font-size="13.7" font-weight="bold" text-anchor="start" fill="#000" textLength="152.7" lengthAdjust="spacingAndGlyphs">of Different Cells Types</text>
<text x="501.8" y="332.3" font-size="10.8" font-weight="bold" text-anchor="end" fill="#000" >0%</text>
<path d="M501.9 328.4H505.9" stroke="#000" stroke-width="1.2"/>
<text x="501.8" y="312.7" font-size="10.8" font-weight="bold" text-anchor="end" fill="#000" >20%</text>
<path d="M501.9 308.8H505.9" stroke="#000" stroke-width="1.2"/>
<text x="501.8" y="293.0" font-size="10.8" font-weight="bold" text-anchor="end" fill="#000" >40%</text>
<path d="M501.9 289.1H505.9" stroke="#000" stroke-width="1.2"/>
<text x="501.8" y="273.4" font-size="10.8" font-weight="bold" text-anchor="end" fill="#000" >60%</text>
<path d="M501.9 269.5H505.9" stroke="#000" stroke-width="1.2"/>
<text x="501.8" y="253.7" font-size="10.8" font-weight="bold" text-anchor="end" fill="#000" >80%</text>
<path d="M501.9 249.8H505.9" stroke="#000" stroke-width="1.2"/>
<text x="501.8" y="234.1" font-size="10.8" font-weight="bold" text-anchor="end" fill="#000" >100%</text>
<path d="M501.9 230.2H505.9" stroke="#000" stroke-width="1.2"/>
<path d="M515.4 263.1V256.2M512.6 256.2h5.6" stroke="#000" stroke-width="1" fill="none"/><rect x="510.90000000000003" y="263.7" width="9.0" height="64.7" fill="#FF0000" stroke="#000" stroke-width="1.3"/>
<path d="M529.1500000000001 267.5V264.6M526.3500000000001 264.6h5.6" stroke="#000" stroke-width="1" fill="none"/><rect x="524.8000000000001" y="268.1" width="8.7" height="60.3" fill="#0000FF" stroke="#000" stroke-width="1.3"/>
<path d="M543.05 291.1V288.1M540.25 288.1h5.6" stroke="#000" stroke-width="1" fill="none"/><rect x="538.8000000000001" y="291.7" width="8.5" height="36.7" fill="#00FF00" stroke="#000" stroke-width="1.3"/>
<path d="M565.55 300.9V296.0M562.75 296.0h5.6" stroke="#000" stroke-width="1" fill="none"/><rect x="561.2" y="301.5" width="8.7" height="26.9" fill="#FF0000" stroke="#000" stroke-width="1.3"/>
<path d="M579.3499999999999 298.3V296.3M576.55 296.3h5.6" stroke="#000" stroke-width="1" fill="none"/><rect x="575.0" y="298.9" width="8.7" height="29.5" fill="#0000FF" stroke="#000" stroke-width="1.3"/>
<path d="M593.3 287.2V286.7M590.5 286.7h5.6" stroke="#000" stroke-width="1" fill="none"/><rect x="589.2" y="287.8" width="8.2" height="40.6" fill="#00FF00" stroke="#000" stroke-width="1.3"/>
<path d="M616.35 322.0V320.3M613.5500000000001 320.3h5.6" stroke="#000" stroke-width="1" fill="none"/><rect x="612.2" y="322.6" width="8.3" height="5.8" fill="#FF0000" stroke="#000" stroke-width="1.3"/>
<path d="M630.0999999999999 320.5V319.6M627.3 319.6h5.6" stroke="#000" stroke-width="1" fill="none"/><rect x="626.0" y="321.1" width="8.2" height="7.3" fill="#0000FF" stroke="#000" stroke-width="1.3"/>
<path d="M643.9000000000001 307.8V305.6M641.1000000000001 305.6h5.6" stroke="#000" stroke-width="1" fill="none"/><rect x="639.8000000000001" y="308.4" width="8.2" height="20.0" fill="#00FF00" stroke="#000" stroke-width="1.3"/>
<path d="M505.9 229.6V328.4H653.5" stroke="#000" stroke-width="1.3" fill="none"/>
<path d="M528.8 328.4v2" stroke="#000" stroke-width="1.2"/>
<text x="528.8" y="342.1" font-size="10.8" font-weight="bold" text-anchor="middle" fill="#000" >Small</text>
<path d="M578.8 328.4v2" stroke="#000" stroke-width="1.2"/>
<text x="578.8" y="342.1" font-size="10.8" font-weight="bold" text-anchor="middle" fill="#000" >Medium</text>
<path d="M630.1 328.4v2" stroke="#000" stroke-width="1.2"/>
<text x="630.1" y="342.1" font-size="10.8" font-weight="bold" text-anchor="middle" fill="#000" >Large</text>
<path d="M515 243.6V240H542.2V243.6" stroke="#222" stroke-width="1.1" fill="none"/><text x="530.3" y="241.8" font-size="13.5" font-weight="normal" text-anchor="middle" fill="#111" stroke="#111" stroke-width="0.25">****</text>
<path d="M528.8 259.90000000000003V256.3H542.2V259.90000000000003" stroke="#222" stroke-width="1.1" fill="none"/><text x="535.7" y="258.0" font-size="13.5" font-weight="normal" text-anchor="middle" fill="#111" stroke="#111" stroke-width="0.25">****</text>
<path d="M565.2 279.5V275.5H592.5V279.5" stroke="#222" stroke-width="1.1" fill="none"/><text x="579.2" y="278.5" font-size="13.5" font-weight="normal" text-anchor="middle" fill="#111" stroke="#111" stroke-width="0.25">*</text>
<path d="M616.5 285.7V281.7H643.1V285.7" stroke="#222" stroke-width="1.1" fill="none"/><text x="629.3" y="284.1" font-size="13.5" font-weight="normal" text-anchor="middle" fill="#111" stroke="#111" stroke-width="0.25">*</text>
<path d="M630.5 300.4V296.4H643.7V300.4" stroke="#222" stroke-width="1.1" fill="none"/><text x="637.8" y="299.3" font-size="13.5" font-weight="normal" text-anchor="middle" fill="#111" stroke="#111" stroke-width="0.25">*</text>
<rect x="637.7" y="227.7" width="10.5" height="5" fill="#00FF00" stroke="#000" stroke-width="1"/>
<text x="653.9" y="233.1" font-size="7.7" font-weight="normal" text-anchor="start" fill="#222" >mNSC</text>
<rect x="637.7" y="241.3" width="10.5" height="5" fill="#FF0000" stroke="#000" stroke-width="1"/>
<text x="653.9" y="246.7" font-size="7.7" font-weight="normal" text-anchor="start" fill="#222" >A549</text>
<rect x="637.7" y="254.8" width="10.5" height="5" fill="#0000FF" stroke="#000" stroke-width="1"/>
<text x="653.9" y="260.2" font-size="7.7" font-weight="normal" text-anchor="start" fill="#222" >hPF</text>
<text transform="translate(468.9 317.7) rotate(-90)" font-size="11.6" font-weight="bold" text-anchor="start" fill="#000" textLength="81.5" lengthAdjust="spacingAndGlyphs">Population (%)</text>
<text x="535.3" y="362" font-size="12.1" font-weight="bold" text-anchor="start" fill="#000" textLength="88" lengthAdjust="spacingAndGlyphs">Magnitude Size</text>
<text x="467.8" y="362.6" font-size="25.8" font-weight="bold" text-anchor="start" fill="#000" >F</text>
<text x="41.6" y="401.1" font-size="14" font-weight="bold" text-anchor="start" fill="#000" textLength="165" lengthAdjust="spacingAndGlyphs">Fractal Dimension Mean</text>
<text x="43.7" y="525.8" font-size="11.3" font-weight="bold" text-anchor="end" fill="#000" >1.70</text>
<path d="M44.0 521.8H47.2" stroke="#000" stroke-width="1.1"/>
<text x="43.7" y="491.7" font-size="11.3" font-weight="bold" text-anchor="end" fill="#000" >1.75</text>
<path d="M44.0 487.7H47.2" stroke="#000" stroke-width="1.1"/>
<text x="43.7" y="457.5" font-size="11.3" font-weight="bold" text-anchor="end" fill="#000" >1.80</text>
<path d="M44.0 453.5H47.2" stroke="#000" stroke-width="1.1"/>
<text x="43.7" y="423.4" font-size="11.3" font-weight="bold" text-anchor="end" fill="#000" >1.85</text>
<path d="M44.0 419.4H47.2" stroke="#000" stroke-width="1.1"/>
<path d="M78.2 489.4V481.2M70.9 481.2h14.6" stroke="#000" stroke-width="1" fill="none"/><rect x="63.0" y="490.0" width="30.4" height="31.8" fill="#FF0000" stroke="#000" stroke-width="1.3"/>
<path d="M124.25 465.5V461.0M116.95 461.0h14.6" stroke="#000" stroke-width="1" fill="none"/><rect x="109.1" y="466.1" width="30.3" height="55.7" fill="#0000FF" stroke="#000" stroke-width="1.3"/>
<path d="M169.75 465.8V465.6M162.45 465.6h14.6" stroke="#000" stroke-width="1" fill="none"/><rect x="154.6" y="466.4" width="30.3" height="55.4" fill="#00FF00" stroke="#000" stroke-width="1.3"/>
<path d="M47.2 418.9V521.8H201" stroke="#000" stroke-width="1.2" fill="none"/>
<path d="M78 521.8v2.4" stroke="#000" stroke-width="1.1"/>
<text x="78" y="535.7" font-size="10.8" font-weight="bold" text-anchor="middle" fill="#000" >A549</text>
<path d="M123.5 521.8v2.4" stroke="#000" stroke-width="1.1"/>
<text x="123.5" y="535.7" font-size="10.8" font-weight="bold" text-anchor="middle" fill="#000" >hPF</text>
<path d="M169.5 521.8v2.4" stroke="#000" stroke-width="1.1"/>
<text x="169.5" y="535.7" font-size="10.8" font-weight="bold" text-anchor="middle" fill="#000" >mNSC</text>
<path d="M77.3 440.6V434.6H169.3V440.6" stroke="#000" stroke-width="1.4" fill="none"/><text x="122.6" y="433.5" font-size="13" font-weight="bold" text-anchor="middle" fill="#111" stroke="#111" stroke-width="0.25">****</text>
<path d="M77.3 455.8V449.8H123.4V455.8" stroke="#000" stroke-width="1.4" fill="none"/><text x="101" y="451.1" font-size="13" font-weight="bold" text-anchor="middle" fill="#111" stroke="#111" stroke-width="0.25">****</text>
<text transform="translate(15.8 529.8) rotate(-90)" font-size="11.3" font-weight="normal" text-anchor="start" fill="#000" textLength="122.4" lengthAdjust="spacingAndGlyphs" stroke="#000" stroke-width="0.25">Fractal Dimension Mean</text>
<text x="14.6" y="555.8" font-size="27" font-weight="bold" text-anchor="start" fill="#000" >G</text>
<text x="316.5" y="394" font-size="14" font-weight="bold" text-anchor="start" fill="#000" textLength="71" lengthAdjust="spacingAndGlyphs">Lacunarity</text>
<text x="270.8" y="524.5" font-size="11" font-weight="bold" text-anchor="end" fill="#000" >0.00</text>
<path d="M271.8 520.6H275.8" stroke="#000" stroke-width="1.1"/>
<text x="270.8" y="490.6" font-size="11" font-weight="bold" text-anchor="end" fill="#000" >0.05</text>
<path d="M271.8 486.7H275.8" stroke="#000" stroke-width="1.1"/>
<text x="270.8" y="456.6" font-size="11" font-weight="bold" text-anchor="end" fill="#000" >0.10</text>
<path d="M271.8 452.7H275.8" stroke="#000" stroke-width="1.1"/>
<text x="270.8" y="422.7" font-size="11" font-weight="bold" text-anchor="end" fill="#000" >0.15</text>
<path d="M271.8 418.8H275.8" stroke="#000" stroke-width="1.1"/>
<path d="M306.0 469.8V468.1M298.7 468.1h14.6" stroke="#000" stroke-width="1" fill="none"/><rect x="291.0" y="470.4" width="30.0" height="50.2" fill="#FF0000" stroke="#000" stroke-width="1.3"/>
<path d="M351.5 468.9V467.5M344.2 467.5h14.6" stroke="#000" stroke-width="1" fill="none"/><rect x="336.40000000000003" y="469.5" width="30.2" height="51.1" fill="#0000FF" stroke="#000" stroke-width="1.3"/>
<path d="M397.6 451.7V451.5M390.3 451.5h14.6" stroke="#000" stroke-width="1" fill="none"/><rect x="382.3" y="452.3" width="30.6" height="68.3" fill="#00FF00" stroke="#000" stroke-width="1.3"/>
<path d="M275.8 418.3V520.6H428" stroke="#000" stroke-width="1.2" fill="none"/>
<path d="M306.2 520.6v2.4" stroke="#000" stroke-width="1.1"/>
<text x="306.2" y="535.2" font-size="10.8" font-weight="bold" text-anchor="middle" fill="#000" >A549</text>
<path d="M352 520.6v2.4" stroke="#000" stroke-width="1.1"/>
<text x="352" y="535.2" font-size="10.8" font-weight="bold" text-anchor="middle" fill="#000" >hPF</text>
<path d="M397.6 520.6v2.4" stroke="#000" stroke-width="1.1"/>
<text x="397.6" y="535.2" font-size="10.8" font-weight="bold" text-anchor="middle" fill="#000" >mNSC</text>
<path d="M304.7 433.5V427.5H396.6V433.5" stroke="#000" stroke-width="1.4" fill="none"/><text x="350.3" y="428.2" font-size="13" font-weight="bold" text-anchor="middle" fill="#111" stroke="#111" stroke-width="0.25">****</text>
<path d="M351 446.5V440.3H396.6V446.5" stroke="#000" stroke-width="1.4" fill="none"/><text x="376.7" y="441.7" font-size="13" font-weight="bold" text-anchor="middle" fill="#111" stroke="#111" stroke-width="0.25">****</text>
<path d="M304.7 461.3V455H352V461.3" stroke="#000" stroke-width="1.4" fill="none"/><text x="328.9" y="456.2" font-size="13" font-weight="bold" text-anchor="middle" fill="#111" stroke="#111" stroke-width="0.25">**</text>
<text transform="translate(245 502.7) rotate(-90)" font-size="11.4" font-weight="normal" text-anchor="start" fill="#000" textLength="70.7" lengthAdjust="spacingAndGlyphs" stroke="#000" stroke-width="0.25">Lacunarity (&#923;)</text>
<text x="230.8" y="557.9" font-size="26.6" font-weight="bold" text-anchor="start" fill="#000" >H</text>
<text x="497.2" y="391.4" font-size="13.6" font-weight="bold" text-anchor="start" fill="#000" textLength="156.6" lengthAdjust="spacingAndGlyphs">Fractal Dimension Mean</text>
<text x="531.8" y="407.2" font-size="13.6" font-weight="bold" text-anchor="start" fill="#000" textLength="91.1" lengthAdjust="spacingAndGlyphs">vs. Lacunarity</text>
<text x="497.2" y="527.3" font-size="11" font-weight="bold" text-anchor="end" fill="#000" >1.70</text>
<path d="M497.6 521.6H500.6" stroke="#000" stroke-width="1.1"/>
<text x="497.2" y="493.8" font-size="11" font-weight="bold" text-anchor="end" fill="#000" >1.75</text>
<path d="M497.6 488.1H500.6" stroke="#000" stroke-width="1.1"/>
<text x="497.2" y="460.2" font-size="11" font-weight="bold" text-anchor="end" fill="#000" >1.80</text>
<path d="M497.6 454.5H500.6" stroke="#000" stroke-width="1.1"/>
<text x="497.2" y="426.7" font-size="11" font-weight="bold" text-anchor="end" fill="#000" >1.85</text>
<path d="M497.6 421.0H500.6" stroke="#000" stroke-width="1.1"/>
<path d="M500.6 521.6v2.6" stroke="#000" stroke-width="1.1"/>
<text x="500.6" y="536" font-size="10.5" font-weight="bold" text-anchor="middle" fill="#000" >0.06</text>
<path d="M530.8 521.6v2.6" stroke="#000" stroke-width="1.1"/>
<text x="530.8" y="536" font-size="10.5" font-weight="bold" text-anchor="middle" fill="#000" >0.07</text>
<path d="M561.0 521.6v2.6" stroke="#000" stroke-width="1.1"/>
<text x="561.0" y="536" font-size="10.5" font-weight="bold" text-anchor="middle" fill="#000" >0.08</text>
<path d="M591.2 521.6v2.6" stroke="#000" stroke-width="1.1"/>
<text x="591.2" y="536" font-size="10.5" font-weight="bold" text-anchor="middle" fill="#000" >0.09</text>
<path d="M621.4 521.6v2.6" stroke="#000" stroke-width="1.1"/>
<text x="621.4" y="536" font-size="10.5" font-weight="bold" text-anchor="middle" fill="#000" >0.10</text>
<path d="M651.6 521.6v2.6" stroke="#000" stroke-width="1.1"/>
<text x="651.6" y="536" font-size="10.5" font-weight="bold" text-anchor="middle" fill="#000" >0.11</text>
<path d="M500.6 420.5V521.6H652.2" stroke="#000" stroke-width="1.2" fill="none"/>
<circle cx="532.5" cy="466.0" r="1.9" fill="#FF0000"/>
<circle cx="559.8" cy="472.4" r="1.9" fill="#FF0000"/>
<circle cx="541.4" cy="478.9" r="1.9" fill="#FF0000"/>
<circle cx="533.0" cy="483.2" r="1.9" fill="#FF0000"/>
<circle cx="537.3" cy="483.6" r="1.9" fill="#FF0000"/>
<circle cx="539.9" cy="485.1" r="1.9" fill="#FF0000"/>
<circle cx="545.7" cy="484.7" r="1.9" fill="#FF0000"/>
<circle cx="537.9" cy="487.1" r="1.9" fill="#FF0000"/>
<circle cx="540.9" cy="489.0" r="1.9" fill="#FF0000"/>
<circle cx="539.3" cy="491.0" r="1.9" fill="#FF0000"/>
<circle cx="543.8" cy="491.4" r="1.9" fill="#FF0000"/>
<circle cx="547.1" cy="490.0" r="1.9" fill="#FF0000"/>
<circle cx="554.5" cy="491.0" r="1.9" fill="#FF0000"/>
<circle cx="542.2" cy="492.5" r="1.9" fill="#FF0000"/>
<circle cx="546.7" cy="494.5" r="1.9" fill="#FF0000"/>
<circle cx="549.6" cy="496.4" r="1.9" fill="#FF0000"/>
<circle cx="552.0" cy="496.4" r="1.9" fill="#FF0000"/>
<circle cx="563.9" cy="496.8" r="1.9" fill="#FF0000"/>
<circle cx="546.1" cy="498.4" r="1.9" fill="#FF0000"/>
<circle cx="548.7" cy="499.2" r="1.9" fill="#FF0000"/>
<circle cx="551.0" cy="501.1" r="1.9" fill="#FF0000"/>
<circle cx="550.0" cy="503.1" r="1.9" fill="#FF0000"/>
<circle cx="553.1" cy="505.0" r="1.9" fill="#FF0000"/>
<rect x="533.5" y="449.7" width="3.8" height="3.8" fill="#0000FF"/>
<rect x="533.7" y="455.3" width="3.8" height="3.8" fill="#0000FF"/>
<rect x="539.0" y="460.8" width="3.8" height="3.8" fill="#0000FF"/>
<rect x="536.0" y="466.6" width="3.8" height="3.8" fill="#0000FF"/>
<rect x="538.4" y="470.5" width="3.8" height="3.8" fill="#0000FF"/>
<rect x="535.1" y="467.6" width="3.8" height="3.8" fill="#0000FF"/>
<rect x="540.9" y="463.7" width="3.8" height="3.8" fill="#0000FF"/>
<rect x="549.1" y="466.5" width="3.8" height="3.8" fill="#0000FF"/>
<rect x="549.2" y="463.3" width="3.8" height="3.8" fill="#0000FF"/>
<rect x="547.2" y="463.7" width="3.8" height="3.8" fill="#0000FF"/>
<rect x="553.1" y="466.1" width="3.8" height="3.8" fill="#0000FF"/>
<rect x="552.9" y="465.5" width="3.8" height="3.8" fill="#0000FF"/>
<rect x="551.0" y="465.2" width="3.8" height="3.8" fill="#0000FF"/>
<rect x="545.0" y="467.8" width="3.8" height="3.8" fill="#0000FF"/>
<rect x="551.4" y="466.4" width="3.8" height="3.8" fill="#0000FF"/>
<rect x="544.9" y="457.7" width="3.8" height="3.8" fill="#0000FF"/>
<rect x="547.3" y="462.7" width="3.8" height="3.8" fill="#0000FF"/>
<rect x="550.8" y="464.3" width="3.8" height="3.8" fill="#0000FF"/>
<rect x="551.4" y="462.0" width="3.8" height="3.8" fill="#0000FF"/>
<rect x="550.8" y="466.0" width="3.8" height="3.8" fill="#0000FF"/>
<rect x="547.9" y="471.2" width="3.8" height="3.8" fill="#0000FF"/>
<rect x="551.5" y="469.2" width="3.8" height="3.8" fill="#0000FF"/>
<rect x="548.1" y="461.6" width="3.8" height="3.8" fill="#0000FF"/>
<rect x="548.9" y="464.1" width="3.8" height="3.8" fill="#0000FF"/>
<rect x="551.7" y="465.5" width="3.8" height="3.8" fill="#0000FF"/>
<rect x="548.6" y="460.8" width="3.8" height="3.8" fill="#0000FF"/>
<rect x="548.4" y="469.3" width="3.8" height="3.8" fill="#0000FF"/>
<rect x="547.5" y="465.4" width="3.8" height="3.8" fill="#0000FF"/>
<rect x="551.1" y="458.7" width="3.8" height="3.8" fill="#0000FF"/>
<rect x="550.0" y="469.6" width="3.8" height="3.8" fill="#0000FF"/>
<rect x="544.0" y="463.2" width="3.8" height="3.8" fill="#0000FF"/>
<rect x="549.6" y="461.3" width="3.8" height="3.8" fill="#0000FF"/>
<rect x="551.3" y="464.2" width="3.8" height="3.8" fill="#0000FF"/>
<rect x="545.6" y="467.7" width="3.8" height="3.8" fill="#0000FF"/>
<rect x="551.8" y="468.2" width="3.8" height="3.8" fill="#0000FF"/>
<rect x="554.1" y="465.9" width="3.8" height="3.8" fill="#0000FF"/>
<rect x="550.2" y="459.4" width="3.8" height="3.8" fill="#0000FF"/>
<rect x="551.7" y="462.1" width="3.8" height="3.8" fill="#0000FF"/>
<rect x="548.6" y="459.6" width="3.8" height="3.8" fill="#0000FF"/>
<rect x="547.0" y="462.4" width="3.8" height="3.8" fill="#0000FF"/>
<rect x="553.7" y="456.6" width="3.8" height="3.8" fill="#0000FF"/>
<path d="M620.5 464.4l2.5 4.6h-5z" fill="#00C000"/>
<path d="M631.5 465.4l2.5 4.6h-5z" fill="#00C000"/>
<path d="M618.8 458.4l2.5 4.6h-5z" fill="#00C000"/>
<path d="M627.4 461.5l2.5 4.6h-5z" fill="#00C000"/>
<path d="M621.7 466.6l2.5 4.6h-5z" fill="#00C000"/>
<path d="M630.2 464.2l2.5 4.6h-5z" fill="#00C000"/>
<path d="M626.9 465.0l2.5 4.6h-5z" fill="#00C000"/>
<path d="M632.1 465.6l2.5 4.6h-5z" fill="#00C000"/>
<path d="M628.0 465.3l2.5 4.6h-5z" fill="#00C000"/>
<path d="M620.0 467.5l2.5 4.6h-5z" fill="#00C000"/>
<path d="M629.6 465.3l2.5 4.6h-5z" fill="#00C000"/>
<path d="M618.5 461.8l2.5 4.6h-5z" fill="#00C000"/>
<path d="M629.2 458.4l2.5 4.6h-5z" fill="#00C000"/>
<path d="M625.3 466.8l2.5 4.6h-5z" fill="#00C000"/>
<path d="M621.0 468.5l2.5 4.6h-5z" fill="#00C000"/>
<path d="M628.1 463.2l2.5 4.6h-5z" fill="#00C000"/>
<path d="M627.2 465.6l2.5 4.6h-5z" fill="#00C000"/>
<path d="M626.5 467.1l2.5 4.6h-5z" fill="#00C000"/>
<path d="M623.5 462.5l2.5 4.6h-5z" fill="#00C000"/>
<path d="M630.0 463.8l2.5 4.6h-5z" fill="#00C000"/>
<path d="M622.7 466.5l2.5 4.6h-5z" fill="#00C000"/>
<path d="M631.6 462.4l2.5 4.6h-5z" fill="#00C000"/>
<path d="M620.8 463.3l2.5 4.6h-5z" fill="#00C000"/>
<path d="M625.4 462.8l2.5 4.6h-5z" fill="#00C000"/>
<path d="M631.3 460.6l2.5 4.6h-5z" fill="#00C000"/>
<path d="M630.8 459.9l2.5 4.6h-5z" fill="#00C000"/>
<path d="M623.0 465.6l2.5 4.6h-5z" fill="#00C000"/>
<path d="M630.3 466.3l2.5 4.6h-5z" fill="#00C000"/>
<path d="M627.3 464.1l2.5 4.6h-5z" fill="#00C000"/>
<path d="M626.6 465.4l2.5 4.6h-5z" fill="#00C000"/>
<path d="M625.3 464.5l2.5 4.6h-5z" fill="#00C000"/>
<path d="M628.2 463.7l2.5 4.6h-5z" fill="#00C000"/>
<path d="M628.9 465.4l2.5 4.6h-5z" fill="#00C000"/>
<path d="M633.6 464.7l2.5 4.6h-5z" fill="#00C000"/>
<path d="M624.4 462.6l2.5 4.6h-5z" fill="#00C000"/>
<path d="M626.0 466.5l2.5 4.6h-5z" fill="#00C000"/>
<path d="M634.8 414.6l2.1 3.8h-4.2z" fill="#00C000"/>
<circle cx="634.8" cy="429.6" r="1.9" fill="#FF0000"/>
<rect x="632.9" y="441.3" width="3.8" height="3.8" fill="#0000FF"/>
<text x="646.3" y="419.2" font-size="10.8" font-weight="bold" text-anchor="start" fill="#000" >mNSC</text>
<text x="646.3" y="433" font-size="10.8" font-weight="bold" text-anchor="start" fill="#000" >A549</text>
<text x="646.3" y="446.3" font-size="10.8" font-weight="bold" text-anchor="start" fill="#000" >hPF</text>
<text transform="translate(469.7 541.4) rotate(-90)" font-size="12.4" font-weight="bold" text-anchor="start" fill="#000" textLength="143.4" lengthAdjust="spacingAndGlyphs">Fractal Dimension Mean</text>
<text x="539.9" y="551.5" font-size="10.8" font-weight="bold" text-anchor="start" fill="#000" >Lacunarity (<tspan font-family="Liberation Serif, serif" font-weight="normal">&#923;</tspan>)</text>
<text x="477.6" y="557.9" font-size="26.6" font-weight="bold" text-anchor="start" fill="#000" >I</text>
</svg>
</body></html>
